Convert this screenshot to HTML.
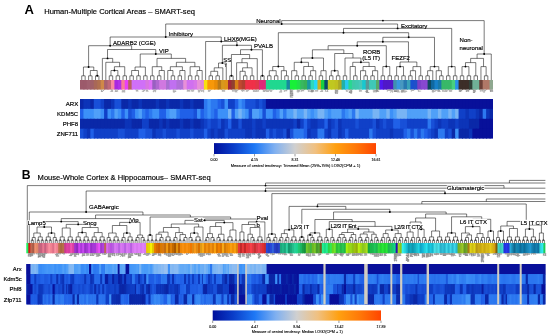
<!DOCTYPE html>
<html><head><meta charset="utf-8"><title>Figure</title>
<style>html,body{margin:0;padding:0;background:#fff}svg{display:block}text{font-family:"Liberation Sans",Arial,sans-serif}</style>
</head><body>
<svg width="550" height="336" viewBox="0 0 550 336">
<defs><linearGradient id="g" x1="0" x2="1" y1="0" y2="0">
<stop offset="0" stop-color="#00109c"/><stop offset="0.12" stop-color="#0a3cc8"/><stop offset="0.25" stop-color="#1e78f5"/><stop offset="0.375" stop-color="#80b0f0"/>
<stop offset="0.5" stop-color="#d0d0d0"/><stop offset="0.625" stop-color="#f0c080"/><stop offset="0.75" stop-color="#ffa010"/><stop offset="0.875" stop-color="#ff7808"/><stop offset="1" stop-color="#ff4500"/>
</linearGradient></defs>
<rect width="550" height="336" fill="#fff"/>
<rect x="80.00" y="80.00" width="4.44" height="9.60" fill="#9c5a6b"/>
<rect x="83.44" y="80.00" width="4.44" height="9.60" fill="#9c5a6b"/>
<rect x="86.88" y="80.00" width="4.44" height="9.60" fill="#a06070"/>
<rect x="90.33" y="80.00" width="4.44" height="9.60" fill="#a06068"/>
<rect x="93.77" y="80.00" width="4.44" height="9.60" fill="#a86858"/>
<rect x="97.21" y="80.00" width="4.44" height="9.60" fill="#b07050"/>
<rect x="100.65" y="80.00" width="4.44" height="9.60" fill="#d08848"/>
<rect x="104.09" y="80.00" width="4.44" height="9.60" fill="#a86070"/>
<rect x="107.53" y="80.00" width="4.44" height="9.60" fill="#c06878"/>
<rect x="110.97" y="80.00" width="4.44" height="9.60" fill="#f888a0"/>
<rect x="114.42" y="80.00" width="4.44" height="9.60" fill="#a828e0"/>
<rect x="117.86" y="80.00" width="4.44" height="9.60" fill="#b030e8"/>
<rect x="121.30" y="80.00" width="4.44" height="9.60" fill="#f87c98"/>
<rect x="124.74" y="80.00" width="4.44" height="9.60" fill="#e840f8"/>
<rect x="128.18" y="80.00" width="4.44" height="9.60" fill="#b86060"/>
<rect x="131.62" y="80.00" width="4.44" height="9.60" fill="#d070f8"/>
<rect x="135.07" y="80.00" width="4.44" height="9.60" fill="#d070f8"/>
<rect x="138.51" y="80.00" width="4.44" height="9.60" fill="#d070f8"/>
<rect x="141.95" y="80.00" width="4.44" height="9.60" fill="#d070f8"/>
<rect x="145.39" y="80.00" width="4.44" height="9.60" fill="#d878e0"/>
<rect x="148.83" y="80.00" width="4.44" height="9.60" fill="#e070f8"/>
<rect x="152.28" y="80.00" width="4.44" height="9.60" fill="#9860c0"/>
<rect x="155.72" y="80.00" width="4.44" height="9.60" fill="#b068d0"/>
<rect x="159.16" y="80.00" width="4.44" height="9.60" fill="#d078e0"/>
<rect x="162.60" y="80.00" width="4.44" height="9.60" fill="#d078e0"/>
<rect x="166.04" y="80.00" width="4.44" height="9.60" fill="#a870d0"/>
<rect x="169.48" y="80.00" width="4.44" height="9.60" fill="#c070f0"/>
<rect x="172.93" y="80.00" width="4.44" height="9.60" fill="#c070f0"/>
<rect x="176.37" y="80.00" width="4.44" height="9.60" fill="#b070d8"/>
<rect x="179.81" y="80.00" width="4.44" height="9.60" fill="#b070d8"/>
<rect x="183.25" y="80.00" width="4.44" height="9.60" fill="#e890d8"/>
<rect x="186.69" y="80.00" width="4.44" height="9.60" fill="#d070f0"/>
<rect x="190.13" y="80.00" width="4.44" height="9.60" fill="#d070f0"/>
<rect x="193.57" y="80.00" width="4.44" height="9.60" fill="#d878e8"/>
<rect x="197.02" y="80.00" width="4.44" height="9.60" fill="#e890d8"/>
<rect x="200.46" y="80.00" width="4.44" height="9.60" fill="#e088d8"/>
<rect x="203.90" y="80.00" width="4.44" height="9.60" fill="#f8e010"/>
<rect x="207.34" y="80.00" width="4.44" height="9.60" fill="#f89808"/>
<rect x="210.78" y="80.00" width="4.44" height="9.60" fill="#f89808"/>
<rect x="214.22" y="80.00" width="4.44" height="9.60" fill="#e88c08"/>
<rect x="217.67" y="80.00" width="4.44" height="9.60" fill="#b87818"/>
<rect x="221.11" y="80.00" width="4.44" height="9.60" fill="#d8981c"/>
<rect x="224.55" y="80.00" width="4.44" height="9.60" fill="#e09018"/>
<rect x="227.99" y="80.00" width="4.44" height="9.60" fill="#a02838"/>
<rect x="231.43" y="80.00" width="4.44" height="9.60" fill="#904030"/>
<rect x="234.88" y="80.00" width="4.44" height="9.60" fill="#d88018"/>
<rect x="238.32" y="80.00" width="4.44" height="9.60" fill="#c04830"/>
<rect x="241.76" y="80.00" width="4.44" height="9.60" fill="#b04030"/>
<rect x="245.20" y="80.00" width="4.44" height="9.60" fill="#f03048"/>
<rect x="248.64" y="80.00" width="4.44" height="9.60" fill="#f03048"/>
<rect x="252.08" y="80.00" width="4.44" height="9.60" fill="#f03048"/>
<rect x="255.53" y="80.00" width="4.44" height="9.60" fill="#e03848"/>
<rect x="258.97" y="80.00" width="4.44" height="9.60" fill="#e02878"/>
<rect x="262.41" y="80.00" width="4.44" height="9.60" fill="#e02878"/>
<rect x="265.85" y="80.00" width="4.44" height="9.60" fill="#20d890"/>
<rect x="269.29" y="80.00" width="4.44" height="9.60" fill="#20d890"/>
<rect x="272.73" y="80.00" width="4.44" height="9.60" fill="#20d890"/>
<rect x="276.18" y="80.00" width="4.44" height="9.60" fill="#20d890"/>
<rect x="279.62" y="80.00" width="4.44" height="9.60" fill="#20d890"/>
<rect x="283.06" y="80.00" width="4.44" height="9.60" fill="#20d890"/>
<rect x="286.50" y="80.00" width="4.44" height="9.60" fill="#1888a0"/>
<rect x="289.94" y="80.00" width="4.44" height="9.60" fill="#18f038"/>
<rect x="293.38" y="80.00" width="4.44" height="9.60" fill="#18f038"/>
<rect x="296.83" y="80.00" width="4.44" height="9.60" fill="#20e048"/>
<rect x="300.27" y="80.00" width="4.44" height="9.60" fill="#38b860"/>
<rect x="303.71" y="80.00" width="4.44" height="9.60" fill="#38b058"/>
<rect x="307.15" y="80.00" width="4.44" height="9.60" fill="#1898a0"/>
<rect x="310.59" y="80.00" width="4.44" height="9.60" fill="#30d8b8"/>
<rect x="314.03" y="80.00" width="4.44" height="9.60" fill="#28d8f8"/>
<rect x="317.48" y="80.00" width="4.44" height="9.60" fill="#c8b020"/>
<rect x="320.92" y="80.00" width="4.44" height="9.60" fill="#18d040"/>
<rect x="324.36" y="80.00" width="4.44" height="9.60" fill="#084868"/>
<rect x="327.80" y="80.00" width="4.44" height="9.60" fill="#c0c820"/>
<rect x="331.24" y="80.00" width="4.44" height="9.60" fill="#c0c820"/>
<rect x="334.68" y="80.00" width="4.44" height="9.60" fill="#c0c020"/>
<rect x="338.12" y="80.00" width="4.44" height="9.60" fill="#a8a828"/>
<rect x="341.57" y="80.00" width="4.44" height="9.60" fill="#20b0a8"/>
<rect x="345.01" y="80.00" width="4.44" height="9.60" fill="#28c8f0"/>
<rect x="348.45" y="80.00" width="4.44" height="9.60" fill="#28d890"/>
<rect x="351.89" y="80.00" width="4.44" height="9.60" fill="#40c8a8"/>
<rect x="355.33" y="80.00" width="4.44" height="9.60" fill="#40c8b0"/>
<rect x="358.78" y="80.00" width="4.44" height="9.60" fill="#48c8b8"/>
<rect x="362.22" y="80.00" width="4.44" height="9.60" fill="#18c8d0"/>
<rect x="365.66" y="80.00" width="4.44" height="9.60" fill="#589898"/>
<rect x="369.10" y="80.00" width="4.44" height="9.60" fill="#40c8b8"/>
<rect x="372.54" y="80.00" width="4.44" height="9.60" fill="#40c8b8"/>
<rect x="375.98" y="80.00" width="4.44" height="9.60" fill="#58a868"/>
<rect x="379.43" y="80.00" width="4.44" height="9.60" fill="#5018f0"/>
<rect x="382.87" y="80.00" width="4.44" height="9.60" fill="#5018c8"/>
<rect x="386.31" y="80.00" width="4.44" height="9.60" fill="#5018c8"/>
<rect x="389.75" y="80.00" width="4.44" height="9.60" fill="#5018c8"/>
<rect x="393.19" y="80.00" width="4.44" height="9.60" fill="#4090b0"/>
<rect x="396.63" y="80.00" width="4.44" height="9.60" fill="#3898e0"/>
<rect x="400.08" y="80.00" width="4.44" height="9.60" fill="#4898c0"/>
<rect x="403.52" y="80.00" width="4.44" height="9.60" fill="#2878b0"/>
<rect x="406.96" y="80.00" width="4.44" height="9.60" fill="#38a0b8"/>
<rect x="410.40" y="80.00" width="4.44" height="9.60" fill="#1850d0"/>
<rect x="413.84" y="80.00" width="4.44" height="9.60" fill="#2050c8"/>
<rect x="417.28" y="80.00" width="4.44" height="9.60" fill="#7840c8"/>
<rect x="420.73" y="80.00" width="4.44" height="9.60" fill="#8848d0"/>
<rect x="424.17" y="80.00" width="4.44" height="9.60" fill="#8848d0"/>
<rect x="427.61" y="80.00" width="4.44" height="9.60" fill="#104860"/>
<rect x="431.05" y="80.00" width="4.44" height="9.60" fill="#1068a0"/>
<rect x="434.49" y="80.00" width="4.44" height="9.60" fill="#1880c8"/>
<rect x="437.93" y="80.00" width="4.44" height="9.60" fill="#1878a8"/>
<rect x="441.38" y="80.00" width="4.44" height="9.60" fill="#38b868"/>
<rect x="444.82" y="80.00" width="4.44" height="9.60" fill="#38b868"/>
<rect x="448.26" y="80.00" width="4.44" height="9.60" fill="#38b868"/>
<rect x="451.70" y="80.00" width="4.44" height="9.60" fill="#48d080"/>
<rect x="455.14" y="80.00" width="4.44" height="9.60" fill="#2890e8"/>
<rect x="458.58" y="80.00" width="4.44" height="9.60" fill="#3c2e28"/>
<rect x="462.03" y="80.00" width="4.44" height="9.60" fill="#3c2e28"/>
<rect x="465.47" y="80.00" width="4.44" height="9.60" fill="#3c2e28"/>
<rect x="468.91" y="80.00" width="4.44" height="9.60" fill="#304038"/>
<rect x="472.35" y="80.00" width="4.44" height="9.60" fill="#70b098"/>
<rect x="475.79" y="80.00" width="4.44" height="9.60" fill="#70b098"/>
<rect x="479.23" y="80.00" width="4.44" height="9.60" fill="#6b4038"/>
<rect x="482.68" y="80.00" width="4.44" height="9.60" fill="#b07868"/>
<rect x="486.12" y="80.00" width="4.44" height="9.60" fill="#b07868"/>
<rect x="489.56" y="80.00" width="3.44" height="9.60" fill="#8fa890"/>
<rect x="80.00" y="99.00" width="4.44" height="10.20" fill="#0a28a8"/>
<rect x="83.44" y="99.00" width="4.44" height="10.20" fill="#0c34b8"/>
<rect x="86.88" y="99.00" width="4.44" height="10.20" fill="#0c34b8"/>
<rect x="90.33" y="99.00" width="4.44" height="10.20" fill="#0a28a8"/>
<rect x="93.77" y="99.00" width="4.44" height="10.20" fill="#1850d8"/>
<rect x="97.21" y="99.00" width="4.44" height="10.20" fill="#1850d8"/>
<rect x="100.65" y="99.00" width="4.44" height="10.20" fill="#1040c8"/>
<rect x="104.09" y="99.00" width="4.44" height="10.20" fill="#0a28a8"/>
<rect x="107.53" y="99.00" width="4.44" height="10.20" fill="#0a28a8"/>
<rect x="110.97" y="99.00" width="4.44" height="10.20" fill="#0c34b8"/>
<rect x="114.42" y="99.00" width="4.44" height="10.20" fill="#1850d8"/>
<rect x="117.86" y="99.00" width="4.44" height="10.20" fill="#1850d8"/>
<rect x="121.30" y="99.00" width="4.44" height="10.20" fill="#0a28a8"/>
<rect x="124.74" y="99.00" width="4.44" height="10.20" fill="#0a28a8"/>
<rect x="128.18" y="99.00" width="4.44" height="10.20" fill="#0c34b8"/>
<rect x="131.62" y="99.00" width="4.44" height="10.20" fill="#0a28a8"/>
<rect x="135.07" y="99.00" width="4.44" height="10.20" fill="#0a28a8"/>
<rect x="138.51" y="99.00" width="4.44" height="10.20" fill="#0c34b8"/>
<rect x="141.95" y="99.00" width="4.44" height="10.20" fill="#0a28a8"/>
<rect x="145.39" y="99.00" width="4.44" height="10.20" fill="#0a28a8"/>
<rect x="148.83" y="99.00" width="4.44" height="10.20" fill="#0a28a8"/>
<rect x="152.28" y="99.00" width="4.44" height="10.20" fill="#0a28a8"/>
<rect x="155.72" y="99.00" width="4.44" height="10.20" fill="#0c34b8"/>
<rect x="159.16" y="99.00" width="4.44" height="10.20" fill="#0a28a8"/>
<rect x="162.60" y="99.00" width="4.44" height="10.20" fill="#0a28a8"/>
<rect x="166.04" y="99.00" width="4.44" height="10.20" fill="#0c34b8"/>
<rect x="169.48" y="99.00" width="4.44" height="10.20" fill="#0a28a8"/>
<rect x="172.93" y="99.00" width="4.44" height="10.20" fill="#0a28a8"/>
<rect x="176.37" y="99.00" width="4.44" height="10.20" fill="#0a28a8"/>
<rect x="179.81" y="99.00" width="4.44" height="10.20" fill="#0c34b8"/>
<rect x="183.25" y="99.00" width="4.44" height="10.20" fill="#0a28a8"/>
<rect x="186.69" y="99.00" width="4.44" height="10.20" fill="#0a28a8"/>
<rect x="190.13" y="99.00" width="4.44" height="10.20" fill="#0c34b8"/>
<rect x="193.57" y="99.00" width="4.44" height="10.20" fill="#0a28a8"/>
<rect x="197.02" y="99.00" width="4.44" height="10.20" fill="#0a28a8"/>
<rect x="200.46" y="99.00" width="4.44" height="10.20" fill="#0a28a8"/>
<rect x="203.90" y="99.00" width="4.44" height="10.20" fill="#2c78f0"/>
<rect x="207.34" y="99.00" width="4.44" height="10.20" fill="#3c90f8"/>
<rect x="210.78" y="99.00" width="4.44" height="10.20" fill="#2c78f0"/>
<rect x="214.22" y="99.00" width="4.44" height="10.20" fill="#2c78f0"/>
<rect x="217.67" y="99.00" width="4.44" height="10.20" fill="#2060e8"/>
<rect x="221.11" y="99.00" width="4.44" height="10.20" fill="#1850d8"/>
<rect x="224.55" y="99.00" width="4.44" height="10.20" fill="#3c90f8"/>
<rect x="227.99" y="99.00" width="4.44" height="10.20" fill="#1040c8"/>
<rect x="231.43" y="99.00" width="4.44" height="10.20" fill="#1040c8"/>
<rect x="234.88" y="99.00" width="4.44" height="10.20" fill="#2060e8"/>
<rect x="238.32" y="99.00" width="4.44" height="10.20" fill="#3c90f8"/>
<rect x="241.76" y="99.00" width="4.44" height="10.20" fill="#2c78f0"/>
<rect x="245.20" y="99.00" width="4.44" height="10.20" fill="#1850d8"/>
<rect x="248.64" y="99.00" width="4.44" height="10.20" fill="#1850d8"/>
<rect x="252.08" y="99.00" width="4.44" height="10.20" fill="#1850d8"/>
<rect x="255.53" y="99.00" width="4.44" height="10.20" fill="#1040c8"/>
<rect x="258.97" y="99.00" width="4.44" height="10.20" fill="#1850d8"/>
<rect x="262.41" y="99.00" width="4.44" height="10.20" fill="#1040c8"/>
<rect x="265.85" y="99.00" width="4.44" height="10.20" fill="#08109a"/>
<rect x="269.29" y="99.00" width="4.44" height="10.20" fill="#08109a"/>
<rect x="272.73" y="99.00" width="4.44" height="10.20" fill="#08109a"/>
<rect x="276.18" y="99.00" width="4.44" height="10.20" fill="#08109a"/>
<rect x="279.62" y="99.00" width="4.44" height="10.20" fill="#08109a"/>
<rect x="283.06" y="99.00" width="4.44" height="10.20" fill="#08109a"/>
<rect x="286.50" y="99.00" width="4.44" height="10.20" fill="#08109a"/>
<rect x="289.94" y="99.00" width="4.44" height="10.20" fill="#08109a"/>
<rect x="293.38" y="99.00" width="4.44" height="10.20" fill="#08109a"/>
<rect x="296.83" y="99.00" width="4.44" height="10.20" fill="#08109a"/>
<rect x="300.27" y="99.00" width="4.44" height="10.20" fill="#08109a"/>
<rect x="303.71" y="99.00" width="4.44" height="10.20" fill="#08109a"/>
<rect x="307.15" y="99.00" width="4.44" height="10.20" fill="#08109a"/>
<rect x="310.59" y="99.00" width="4.44" height="10.20" fill="#08109a"/>
<rect x="314.03" y="99.00" width="4.44" height="10.20" fill="#08109a"/>
<rect x="317.48" y="99.00" width="4.44" height="10.20" fill="#08109a"/>
<rect x="320.92" y="99.00" width="4.44" height="10.20" fill="#08109a"/>
<rect x="324.36" y="99.00" width="4.44" height="10.20" fill="#08109a"/>
<rect x="327.80" y="99.00" width="4.44" height="10.20" fill="#08109a"/>
<rect x="331.24" y="99.00" width="4.44" height="10.20" fill="#08109a"/>
<rect x="334.68" y="99.00" width="4.44" height="10.20" fill="#08109a"/>
<rect x="338.12" y="99.00" width="4.44" height="10.20" fill="#08109a"/>
<rect x="341.57" y="99.00" width="4.44" height="10.20" fill="#08109a"/>
<rect x="345.01" y="99.00" width="4.44" height="10.20" fill="#08109a"/>
<rect x="348.45" y="99.00" width="4.44" height="10.20" fill="#08109a"/>
<rect x="351.89" y="99.00" width="4.44" height="10.20" fill="#08109a"/>
<rect x="355.33" y="99.00" width="4.44" height="10.20" fill="#08109a"/>
<rect x="358.78" y="99.00" width="4.44" height="10.20" fill="#08109a"/>
<rect x="362.22" y="99.00" width="4.44" height="10.20" fill="#08109a"/>
<rect x="365.66" y="99.00" width="4.44" height="10.20" fill="#08109a"/>
<rect x="369.10" y="99.00" width="4.44" height="10.20" fill="#08109a"/>
<rect x="372.54" y="99.00" width="4.44" height="10.20" fill="#08109a"/>
<rect x="375.98" y="99.00" width="4.44" height="10.20" fill="#08109a"/>
<rect x="379.43" y="99.00" width="4.44" height="10.20" fill="#08109a"/>
<rect x="382.87" y="99.00" width="4.44" height="10.20" fill="#08109a"/>
<rect x="386.31" y="99.00" width="4.44" height="10.20" fill="#08109a"/>
<rect x="389.75" y="99.00" width="4.44" height="10.20" fill="#08109a"/>
<rect x="393.19" y="99.00" width="4.44" height="10.20" fill="#08109a"/>
<rect x="396.63" y="99.00" width="4.44" height="10.20" fill="#08109a"/>
<rect x="400.08" y="99.00" width="4.44" height="10.20" fill="#08109a"/>
<rect x="403.52" y="99.00" width="4.44" height="10.20" fill="#08109a"/>
<rect x="406.96" y="99.00" width="4.44" height="10.20" fill="#08109a"/>
<rect x="410.40" y="99.00" width="4.44" height="10.20" fill="#08109a"/>
<rect x="413.84" y="99.00" width="4.44" height="10.20" fill="#08109a"/>
<rect x="417.28" y="99.00" width="4.44" height="10.20" fill="#08109a"/>
<rect x="420.73" y="99.00" width="4.44" height="10.20" fill="#08109a"/>
<rect x="424.17" y="99.00" width="4.44" height="10.20" fill="#08109a"/>
<rect x="427.61" y="99.00" width="4.44" height="10.20" fill="#08109a"/>
<rect x="431.05" y="99.00" width="4.44" height="10.20" fill="#08109a"/>
<rect x="434.49" y="99.00" width="4.44" height="10.20" fill="#08109a"/>
<rect x="437.93" y="99.00" width="4.44" height="10.20" fill="#08109a"/>
<rect x="441.38" y="99.00" width="4.44" height="10.20" fill="#08109a"/>
<rect x="444.82" y="99.00" width="4.44" height="10.20" fill="#08109a"/>
<rect x="448.26" y="99.00" width="4.44" height="10.20" fill="#08109a"/>
<rect x="451.70" y="99.00" width="4.44" height="10.20" fill="#08109a"/>
<rect x="455.14" y="99.00" width="4.44" height="10.20" fill="#08109a"/>
<rect x="458.58" y="99.00" width="4.44" height="10.20" fill="#08109a"/>
<rect x="462.03" y="99.00" width="4.44" height="10.20" fill="#08109a"/>
<rect x="465.47" y="99.00" width="4.44" height="10.20" fill="#08109a"/>
<rect x="468.91" y="99.00" width="4.44" height="10.20" fill="#08109a"/>
<rect x="472.35" y="99.00" width="4.44" height="10.20" fill="#08109a"/>
<rect x="475.79" y="99.00" width="4.44" height="10.20" fill="#08109a"/>
<rect x="479.23" y="99.00" width="4.44" height="10.20" fill="#08109a"/>
<rect x="482.68" y="99.00" width="4.44" height="10.20" fill="#08109a"/>
<rect x="486.12" y="99.00" width="4.44" height="10.20" fill="#08109a"/>
<rect x="489.56" y="99.00" width="3.44" height="10.20" fill="#08109a"/>
<rect x="80.00" y="108.90" width="4.44" height="10.20" fill="#2060e8"/>
<rect x="83.44" y="108.90" width="4.44" height="10.20" fill="#3c90f8"/>
<rect x="86.88" y="108.90" width="4.44" height="10.20" fill="#3c90f8"/>
<rect x="90.33" y="108.90" width="4.44" height="10.20" fill="#3c90f8"/>
<rect x="93.77" y="108.90" width="4.44" height="10.20" fill="#50a0f8"/>
<rect x="97.21" y="108.90" width="4.44" height="10.20" fill="#50a0f8"/>
<rect x="100.65" y="108.90" width="4.44" height="10.20" fill="#3c90f8"/>
<rect x="104.09" y="108.90" width="4.44" height="10.20" fill="#1040c8"/>
<rect x="107.53" y="108.90" width="4.44" height="10.20" fill="#3c90f8"/>
<rect x="110.97" y="108.90" width="4.44" height="10.20" fill="#2c78f0"/>
<rect x="114.42" y="108.90" width="4.44" height="10.20" fill="#50a0f8"/>
<rect x="117.86" y="108.90" width="4.44" height="10.20" fill="#3c90f8"/>
<rect x="121.30" y="108.90" width="4.44" height="10.20" fill="#2060e8"/>
<rect x="124.74" y="108.90" width="4.44" height="10.20" fill="#3c90f8"/>
<rect x="128.18" y="108.90" width="4.44" height="10.20" fill="#1850d8"/>
<rect x="131.62" y="108.90" width="4.44" height="10.20" fill="#2060e8"/>
<rect x="135.07" y="108.90" width="4.44" height="10.20" fill="#3c90f8"/>
<rect x="138.51" y="108.90" width="4.44" height="10.20" fill="#50a0f8"/>
<rect x="141.95" y="108.90" width="4.44" height="10.20" fill="#2c78f0"/>
<rect x="145.39" y="108.90" width="4.44" height="10.20" fill="#2060e8"/>
<rect x="148.83" y="108.90" width="4.44" height="10.20" fill="#2c78f0"/>
<rect x="152.28" y="108.90" width="4.44" height="10.20" fill="#3c90f8"/>
<rect x="155.72" y="108.90" width="4.44" height="10.20" fill="#3c90f8"/>
<rect x="159.16" y="108.90" width="4.44" height="10.20" fill="#2060e8"/>
<rect x="162.60" y="108.90" width="4.44" height="10.20" fill="#2060e8"/>
<rect x="166.04" y="108.90" width="4.44" height="10.20" fill="#3c90f8"/>
<rect x="169.48" y="108.90" width="4.44" height="10.20" fill="#50a0f8"/>
<rect x="172.93" y="108.90" width="4.44" height="10.20" fill="#50a0f8"/>
<rect x="176.37" y="108.90" width="4.44" height="10.20" fill="#2c78f0"/>
<rect x="179.81" y="108.90" width="4.44" height="10.20" fill="#2060e8"/>
<rect x="183.25" y="108.90" width="4.44" height="10.20" fill="#2060e8"/>
<rect x="186.69" y="108.90" width="4.44" height="10.20" fill="#2060e8"/>
<rect x="190.13" y="108.90" width="4.44" height="10.20" fill="#2060e8"/>
<rect x="193.57" y="108.90" width="4.44" height="10.20" fill="#1850d8"/>
<rect x="197.02" y="108.90" width="4.44" height="10.20" fill="#3c90f8"/>
<rect x="200.46" y="108.90" width="4.44" height="10.20" fill="#2060e8"/>
<rect x="203.90" y="108.90" width="4.44" height="10.20" fill="#2c78f0"/>
<rect x="207.34" y="108.90" width="4.44" height="10.20" fill="#3c90f8"/>
<rect x="210.78" y="108.90" width="4.44" height="10.20" fill="#2c78f0"/>
<rect x="214.22" y="108.90" width="4.44" height="10.20" fill="#2060e8"/>
<rect x="217.67" y="108.90" width="4.44" height="10.20" fill="#3c90f8"/>
<rect x="221.11" y="108.90" width="4.44" height="10.20" fill="#3c90f8"/>
<rect x="224.55" y="108.90" width="4.44" height="10.20" fill="#3c90f8"/>
<rect x="227.99" y="108.90" width="4.44" height="10.20" fill="#78b4f4"/>
<rect x="231.43" y="108.90" width="4.44" height="10.20" fill="#2060e8"/>
<rect x="234.88" y="108.90" width="4.44" height="10.20" fill="#50a0f8"/>
<rect x="238.32" y="108.90" width="4.44" height="10.20" fill="#78b4f4"/>
<rect x="241.76" y="108.90" width="4.44" height="10.20" fill="#50a0f8"/>
<rect x="245.20" y="108.90" width="4.44" height="10.20" fill="#3c90f8"/>
<rect x="248.64" y="108.90" width="4.44" height="10.20" fill="#1850d8"/>
<rect x="252.08" y="108.90" width="4.44" height="10.20" fill="#50a0f8"/>
<rect x="255.53" y="108.90" width="4.44" height="10.20" fill="#50a0f8"/>
<rect x="258.97" y="108.90" width="4.44" height="10.20" fill="#3c90f8"/>
<rect x="262.41" y="108.90" width="4.44" height="10.20" fill="#1850d8"/>
<rect x="265.85" y="108.90" width="4.44" height="10.20" fill="#3c90f8"/>
<rect x="269.29" y="108.90" width="4.44" height="10.20" fill="#3c90f8"/>
<rect x="272.73" y="108.90" width="4.44" height="10.20" fill="#2060e8"/>
<rect x="276.18" y="108.90" width="4.44" height="10.20" fill="#2c78f0"/>
<rect x="279.62" y="108.90" width="4.44" height="10.20" fill="#50a0f8"/>
<rect x="283.06" y="108.90" width="4.44" height="10.20" fill="#2c78f0"/>
<rect x="286.50" y="108.90" width="4.44" height="10.20" fill="#50a0f8"/>
<rect x="289.94" y="108.90" width="4.44" height="10.20" fill="#50a0f8"/>
<rect x="293.38" y="108.90" width="4.44" height="10.20" fill="#78b4f4"/>
<rect x="296.83" y="108.90" width="4.44" height="10.20" fill="#50a0f8"/>
<rect x="300.27" y="108.90" width="4.44" height="10.20" fill="#50a0f8"/>
<rect x="303.71" y="108.90" width="4.44" height="10.20" fill="#78b4f4"/>
<rect x="307.15" y="108.90" width="4.44" height="10.20" fill="#50a0f8"/>
<rect x="310.59" y="108.90" width="4.44" height="10.20" fill="#3c90f8"/>
<rect x="314.03" y="108.90" width="4.44" height="10.20" fill="#50a0f8"/>
<rect x="317.48" y="108.90" width="4.44" height="10.20" fill="#78b4f4"/>
<rect x="320.92" y="108.90" width="4.44" height="10.20" fill="#78b4f4"/>
<rect x="324.36" y="108.90" width="4.44" height="10.20" fill="#50a0f8"/>
<rect x="327.80" y="108.90" width="4.44" height="10.20" fill="#3c90f8"/>
<rect x="331.24" y="108.90" width="4.44" height="10.20" fill="#50a0f8"/>
<rect x="334.68" y="108.90" width="4.44" height="10.20" fill="#50a0f8"/>
<rect x="338.12" y="108.90" width="4.44" height="10.20" fill="#50a0f8"/>
<rect x="341.57" y="108.90" width="4.44" height="10.20" fill="#2c78f0"/>
<rect x="345.01" y="108.90" width="4.44" height="10.20" fill="#3c90f8"/>
<rect x="348.45" y="108.90" width="4.44" height="10.20" fill="#50a0f8"/>
<rect x="351.89" y="108.90" width="4.44" height="10.20" fill="#2c78f0"/>
<rect x="355.33" y="108.90" width="4.44" height="10.20" fill="#78b4f4"/>
<rect x="358.78" y="108.90" width="4.44" height="10.20" fill="#50a0f8"/>
<rect x="362.22" y="108.90" width="4.44" height="10.20" fill="#50a0f8"/>
<rect x="365.66" y="108.90" width="4.44" height="10.20" fill="#50a0f8"/>
<rect x="369.10" y="108.90" width="4.44" height="10.20" fill="#50a0f8"/>
<rect x="372.54" y="108.90" width="4.44" height="10.20" fill="#78b4f4"/>
<rect x="375.98" y="108.90" width="4.44" height="10.20" fill="#78b4f4"/>
<rect x="379.43" y="108.90" width="4.44" height="10.20" fill="#50a0f8"/>
<rect x="382.87" y="108.90" width="4.44" height="10.20" fill="#50a0f8"/>
<rect x="386.31" y="108.90" width="4.44" height="10.20" fill="#78b4f4"/>
<rect x="389.75" y="108.90" width="4.44" height="10.20" fill="#3c90f8"/>
<rect x="393.19" y="108.90" width="4.44" height="10.20" fill="#50a0f8"/>
<rect x="396.63" y="108.90" width="4.44" height="10.20" fill="#78b4f4"/>
<rect x="400.08" y="108.90" width="4.44" height="10.20" fill="#78b4f4"/>
<rect x="403.52" y="108.90" width="4.44" height="10.20" fill="#78b4f4"/>
<rect x="406.96" y="108.90" width="4.44" height="10.20" fill="#50a0f8"/>
<rect x="410.40" y="108.90" width="4.44" height="10.20" fill="#50a0f8"/>
<rect x="413.84" y="108.90" width="4.44" height="10.20" fill="#50a0f8"/>
<rect x="417.28" y="108.90" width="4.44" height="10.20" fill="#50a0f8"/>
<rect x="420.73" y="108.90" width="4.44" height="10.20" fill="#50a0f8"/>
<rect x="424.17" y="108.90" width="4.44" height="10.20" fill="#50a0f8"/>
<rect x="427.61" y="108.90" width="4.44" height="10.20" fill="#78b4f4"/>
<rect x="431.05" y="108.90" width="4.44" height="10.20" fill="#50a0f8"/>
<rect x="434.49" y="108.90" width="4.44" height="10.20" fill="#50a0f8"/>
<rect x="437.93" y="108.90" width="4.44" height="10.20" fill="#78b4f4"/>
<rect x="441.38" y="108.90" width="4.44" height="10.20" fill="#50a0f8"/>
<rect x="444.82" y="108.90" width="4.44" height="10.20" fill="#50a0f8"/>
<rect x="448.26" y="108.90" width="4.44" height="10.20" fill="#78b4f4"/>
<rect x="451.70" y="108.90" width="4.44" height="10.20" fill="#50a0f8"/>
<rect x="455.14" y="108.90" width="4.44" height="10.20" fill="#78b4f4"/>
<rect x="458.58" y="108.90" width="4.44" height="10.20" fill="#1040c8"/>
<rect x="462.03" y="108.90" width="4.44" height="10.20" fill="#1040c8"/>
<rect x="465.47" y="108.90" width="4.44" height="10.20" fill="#0c34b8"/>
<rect x="468.91" y="108.90" width="4.44" height="10.20" fill="#1040c8"/>
<rect x="472.35" y="108.90" width="4.44" height="10.20" fill="#1040c8"/>
<rect x="475.79" y="108.90" width="4.44" height="10.20" fill="#0c34b8"/>
<rect x="479.23" y="108.90" width="4.44" height="10.20" fill="#0a28a8"/>
<rect x="482.68" y="108.90" width="4.44" height="10.20" fill="#2c78f0"/>
<rect x="486.12" y="108.90" width="4.44" height="10.20" fill="#0c34b8"/>
<rect x="489.56" y="108.90" width="3.44" height="10.20" fill="#0a28a8"/>
<rect x="80.00" y="118.80" width="4.44" height="10.20" fill="#0a28a8"/>
<rect x="83.44" y="118.80" width="4.44" height="10.20" fill="#0a28a8"/>
<rect x="86.88" y="118.80" width="4.44" height="10.20" fill="#0a28a8"/>
<rect x="90.33" y="118.80" width="4.44" height="10.20" fill="#0a28a8"/>
<rect x="93.77" y="118.80" width="4.44" height="10.20" fill="#0a28a8"/>
<rect x="97.21" y="118.80" width="4.44" height="10.20" fill="#0a28a8"/>
<rect x="100.65" y="118.80" width="4.44" height="10.20" fill="#0a28a8"/>
<rect x="104.09" y="118.80" width="4.44" height="10.20" fill="#0a28a8"/>
<rect x="107.53" y="118.80" width="4.44" height="10.20" fill="#0a28a8"/>
<rect x="110.97" y="118.80" width="4.44" height="10.20" fill="#0a28a8"/>
<rect x="114.42" y="118.80" width="4.44" height="10.20" fill="#0a28a8"/>
<rect x="117.86" y="118.80" width="4.44" height="10.20" fill="#0a28a8"/>
<rect x="121.30" y="118.80" width="4.44" height="10.20" fill="#0a28a8"/>
<rect x="124.74" y="118.80" width="4.44" height="10.20" fill="#0c34b8"/>
<rect x="128.18" y="118.80" width="4.44" height="10.20" fill="#0c34b8"/>
<rect x="131.62" y="118.80" width="4.44" height="10.20" fill="#0a28a8"/>
<rect x="135.07" y="118.80" width="4.44" height="10.20" fill="#0a28a8"/>
<rect x="138.51" y="118.80" width="4.44" height="10.20" fill="#0a28a8"/>
<rect x="141.95" y="118.80" width="4.44" height="10.20" fill="#1040c8"/>
<rect x="145.39" y="118.80" width="4.44" height="10.20" fill="#1040c8"/>
<rect x="148.83" y="118.80" width="4.44" height="10.20" fill="#0a28a8"/>
<rect x="152.28" y="118.80" width="4.44" height="10.20" fill="#0a28a8"/>
<rect x="155.72" y="118.80" width="4.44" height="10.20" fill="#0a28a8"/>
<rect x="159.16" y="118.80" width="4.44" height="10.20" fill="#0c34b8"/>
<rect x="162.60" y="118.80" width="4.44" height="10.20" fill="#0a28a8"/>
<rect x="166.04" y="118.80" width="4.44" height="10.20" fill="#0c34b8"/>
<rect x="169.48" y="118.80" width="4.44" height="10.20" fill="#0a28a8"/>
<rect x="172.93" y="118.80" width="4.44" height="10.20" fill="#0a28a8"/>
<rect x="176.37" y="118.80" width="4.44" height="10.20" fill="#0a28a8"/>
<rect x="179.81" y="118.80" width="4.44" height="10.20" fill="#0c34b8"/>
<rect x="183.25" y="118.80" width="4.44" height="10.20" fill="#0a28a8"/>
<rect x="186.69" y="118.80" width="4.44" height="10.20" fill="#0a28a8"/>
<rect x="190.13" y="118.80" width="4.44" height="10.20" fill="#0c34b8"/>
<rect x="193.57" y="118.80" width="4.44" height="10.20" fill="#0a28a8"/>
<rect x="197.02" y="118.80" width="4.44" height="10.20" fill="#0a28a8"/>
<rect x="200.46" y="118.80" width="4.44" height="10.20" fill="#0c34b8"/>
<rect x="203.90" y="118.80" width="4.44" height="10.20" fill="#1040c8"/>
<rect x="207.34" y="118.80" width="4.44" height="10.20" fill="#1850d8"/>
<rect x="210.78" y="118.80" width="4.44" height="10.20" fill="#1040c8"/>
<rect x="214.22" y="118.80" width="4.44" height="10.20" fill="#1040c8"/>
<rect x="217.67" y="118.80" width="4.44" height="10.20" fill="#1850d8"/>
<rect x="221.11" y="118.80" width="4.44" height="10.20" fill="#0c34b8"/>
<rect x="224.55" y="118.80" width="4.44" height="10.20" fill="#1040c8"/>
<rect x="227.99" y="118.80" width="4.44" height="10.20" fill="#2060e8"/>
<rect x="231.43" y="118.80" width="4.44" height="10.20" fill="#0c34b8"/>
<rect x="234.88" y="118.80" width="4.44" height="10.20" fill="#0c34b8"/>
<rect x="238.32" y="118.80" width="4.44" height="10.20" fill="#1850d8"/>
<rect x="241.76" y="118.80" width="4.44" height="10.20" fill="#0c34b8"/>
<rect x="245.20" y="118.80" width="4.44" height="10.20" fill="#0c34b8"/>
<rect x="248.64" y="118.80" width="4.44" height="10.20" fill="#0c34b8"/>
<rect x="252.08" y="118.80" width="4.44" height="10.20" fill="#1040c8"/>
<rect x="255.53" y="118.80" width="4.44" height="10.20" fill="#0c34b8"/>
<rect x="258.97" y="118.80" width="4.44" height="10.20" fill="#0c34b8"/>
<rect x="262.41" y="118.80" width="4.44" height="10.20" fill="#1040c8"/>
<rect x="265.85" y="118.80" width="4.44" height="10.20" fill="#0c34b8"/>
<rect x="269.29" y="118.80" width="4.44" height="10.20" fill="#0c34b8"/>
<rect x="272.73" y="118.80" width="4.44" height="10.20" fill="#0c34b8"/>
<rect x="276.18" y="118.80" width="4.44" height="10.20" fill="#0c34b8"/>
<rect x="279.62" y="118.80" width="4.44" height="10.20" fill="#0c34b8"/>
<rect x="283.06" y="118.80" width="4.44" height="10.20" fill="#0c34b8"/>
<rect x="286.50" y="118.80" width="4.44" height="10.20" fill="#0c34b8"/>
<rect x="289.94" y="118.80" width="4.44" height="10.20" fill="#0c34b8"/>
<rect x="293.38" y="118.80" width="4.44" height="10.20" fill="#1040c8"/>
<rect x="296.83" y="118.80" width="4.44" height="10.20" fill="#0a28a8"/>
<rect x="300.27" y="118.80" width="4.44" height="10.20" fill="#1040c8"/>
<rect x="303.71" y="118.80" width="4.44" height="10.20" fill="#2060e8"/>
<rect x="307.15" y="118.80" width="4.44" height="10.20" fill="#1040c8"/>
<rect x="310.59" y="118.80" width="4.44" height="10.20" fill="#0c34b8"/>
<rect x="314.03" y="118.80" width="4.44" height="10.20" fill="#0c34b8"/>
<rect x="317.48" y="118.80" width="4.44" height="10.20" fill="#1040c8"/>
<rect x="320.92" y="118.80" width="4.44" height="10.20" fill="#1040c8"/>
<rect x="324.36" y="118.80" width="4.44" height="10.20" fill="#2060e8"/>
<rect x="327.80" y="118.80" width="4.44" height="10.20" fill="#0c34b8"/>
<rect x="331.24" y="118.80" width="4.44" height="10.20" fill="#1040c8"/>
<rect x="334.68" y="118.80" width="4.44" height="10.20" fill="#1850d8"/>
<rect x="338.12" y="118.80" width="4.44" height="10.20" fill="#0c34b8"/>
<rect x="341.57" y="118.80" width="4.44" height="10.20" fill="#1040c8"/>
<rect x="345.01" y="118.80" width="4.44" height="10.20" fill="#1040c8"/>
<rect x="348.45" y="118.80" width="4.44" height="10.20" fill="#1040c8"/>
<rect x="351.89" y="118.80" width="4.44" height="10.20" fill="#1040c8"/>
<rect x="355.33" y="118.80" width="4.44" height="10.20" fill="#1850d8"/>
<rect x="358.78" y="118.80" width="4.44" height="10.20" fill="#1040c8"/>
<rect x="362.22" y="118.80" width="4.44" height="10.20" fill="#1040c8"/>
<rect x="365.66" y="118.80" width="4.44" height="10.20" fill="#1040c8"/>
<rect x="369.10" y="118.80" width="4.44" height="10.20" fill="#1040c8"/>
<rect x="372.54" y="118.80" width="4.44" height="10.20" fill="#1850d8"/>
<rect x="375.98" y="118.80" width="4.44" height="10.20" fill="#0c34b8"/>
<rect x="379.43" y="118.80" width="4.44" height="10.20" fill="#1040c8"/>
<rect x="382.87" y="118.80" width="4.44" height="10.20" fill="#1850d8"/>
<rect x="386.31" y="118.80" width="4.44" height="10.20" fill="#1040c8"/>
<rect x="389.75" y="118.80" width="4.44" height="10.20" fill="#1040c8"/>
<rect x="393.19" y="118.80" width="4.44" height="10.20" fill="#2060e8"/>
<rect x="396.63" y="118.80" width="4.44" height="10.20" fill="#2060e8"/>
<rect x="400.08" y="118.80" width="4.44" height="10.20" fill="#1850d8"/>
<rect x="403.52" y="118.80" width="4.44" height="10.20" fill="#1850d8"/>
<rect x="406.96" y="118.80" width="4.44" height="10.20" fill="#1040c8"/>
<rect x="410.40" y="118.80" width="4.44" height="10.20" fill="#1040c8"/>
<rect x="413.84" y="118.80" width="4.44" height="10.20" fill="#1040c8"/>
<rect x="417.28" y="118.80" width="4.44" height="10.20" fill="#1040c8"/>
<rect x="420.73" y="118.80" width="4.44" height="10.20" fill="#1040c8"/>
<rect x="424.17" y="118.80" width="4.44" height="10.20" fill="#1040c8"/>
<rect x="427.61" y="118.80" width="4.44" height="10.20" fill="#2c78f0"/>
<rect x="431.05" y="118.80" width="4.44" height="10.20" fill="#1850d8"/>
<rect x="434.49" y="118.80" width="4.44" height="10.20" fill="#1040c8"/>
<rect x="437.93" y="118.80" width="4.44" height="10.20" fill="#0c34b8"/>
<rect x="441.38" y="118.80" width="4.44" height="10.20" fill="#1040c8"/>
<rect x="444.82" y="118.80" width="4.44" height="10.20" fill="#1040c8"/>
<rect x="448.26" y="118.80" width="4.44" height="10.20" fill="#0c34b8"/>
<rect x="451.70" y="118.80" width="4.44" height="10.20" fill="#0c34b8"/>
<rect x="455.14" y="118.80" width="4.44" height="10.20" fill="#1040c8"/>
<rect x="458.58" y="118.80" width="4.44" height="10.20" fill="#0c34b8"/>
<rect x="462.03" y="118.80" width="4.44" height="10.20" fill="#0c34b8"/>
<rect x="465.47" y="118.80" width="4.44" height="10.20" fill="#0c34b8"/>
<rect x="468.91" y="118.80" width="4.44" height="10.20" fill="#0a28a8"/>
<rect x="472.35" y="118.80" width="4.44" height="10.20" fill="#0a28a8"/>
<rect x="475.79" y="118.80" width="4.44" height="10.20" fill="#0a28a8"/>
<rect x="479.23" y="118.80" width="4.44" height="10.20" fill="#08109a"/>
<rect x="482.68" y="118.80" width="4.44" height="10.20" fill="#08109a"/>
<rect x="486.12" y="118.80" width="4.44" height="10.20" fill="#08109a"/>
<rect x="489.56" y="118.80" width="3.44" height="10.20" fill="#08109a"/>
<rect x="80.00" y="128.70" width="4.44" height="9.90" fill="#1850d8"/>
<rect x="83.44" y="128.70" width="4.44" height="9.90" fill="#1040c8"/>
<rect x="86.88" y="128.70" width="4.44" height="9.90" fill="#0c34b8"/>
<rect x="90.33" y="128.70" width="4.44" height="9.90" fill="#2060e8"/>
<rect x="93.77" y="128.70" width="4.44" height="9.90" fill="#1040c8"/>
<rect x="97.21" y="128.70" width="4.44" height="9.90" fill="#1040c8"/>
<rect x="100.65" y="128.70" width="4.44" height="9.90" fill="#1040c8"/>
<rect x="104.09" y="128.70" width="4.44" height="9.90" fill="#1040c8"/>
<rect x="107.53" y="128.70" width="4.44" height="9.90" fill="#1040c8"/>
<rect x="110.97" y="128.70" width="4.44" height="9.90" fill="#1040c8"/>
<rect x="114.42" y="128.70" width="4.44" height="9.90" fill="#1040c8"/>
<rect x="117.86" y="128.70" width="4.44" height="9.90" fill="#1850d8"/>
<rect x="121.30" y="128.70" width="4.44" height="9.90" fill="#1850d8"/>
<rect x="124.74" y="128.70" width="4.44" height="9.90" fill="#1040c8"/>
<rect x="128.18" y="128.70" width="4.44" height="9.90" fill="#1040c8"/>
<rect x="131.62" y="128.70" width="4.44" height="9.90" fill="#1040c8"/>
<rect x="135.07" y="128.70" width="4.44" height="9.90" fill="#1040c8"/>
<rect x="138.51" y="128.70" width="4.44" height="9.90" fill="#2060e8"/>
<rect x="141.95" y="128.70" width="4.44" height="9.90" fill="#2060e8"/>
<rect x="145.39" y="128.70" width="4.44" height="9.90" fill="#1850d8"/>
<rect x="148.83" y="128.70" width="4.44" height="9.90" fill="#1850d8"/>
<rect x="152.28" y="128.70" width="4.44" height="9.90" fill="#0c34b8"/>
<rect x="155.72" y="128.70" width="4.44" height="9.90" fill="#1040c8"/>
<rect x="159.16" y="128.70" width="4.44" height="9.90" fill="#1040c8"/>
<rect x="162.60" y="128.70" width="4.44" height="9.90" fill="#1850d8"/>
<rect x="166.04" y="128.70" width="4.44" height="9.90" fill="#1040c8"/>
<rect x="169.48" y="128.70" width="4.44" height="9.90" fill="#1040c8"/>
<rect x="172.93" y="128.70" width="4.44" height="9.90" fill="#1040c8"/>
<rect x="176.37" y="128.70" width="4.44" height="9.90" fill="#1850d8"/>
<rect x="179.81" y="128.70" width="4.44" height="9.90" fill="#1040c8"/>
<rect x="183.25" y="128.70" width="4.44" height="9.90" fill="#1040c8"/>
<rect x="186.69" y="128.70" width="4.44" height="9.90" fill="#1040c8"/>
<rect x="190.13" y="128.70" width="4.44" height="9.90" fill="#1850d8"/>
<rect x="193.57" y="128.70" width="4.44" height="9.90" fill="#1040c8"/>
<rect x="197.02" y="128.70" width="4.44" height="9.90" fill="#1040c8"/>
<rect x="200.46" y="128.70" width="4.44" height="9.90" fill="#1040c8"/>
<rect x="203.90" y="128.70" width="4.44" height="9.90" fill="#2060e8"/>
<rect x="207.34" y="128.70" width="4.44" height="9.90" fill="#1040c8"/>
<rect x="210.78" y="128.70" width="4.44" height="9.90" fill="#0c34b8"/>
<rect x="214.22" y="128.70" width="4.44" height="9.90" fill="#1040c8"/>
<rect x="217.67" y="128.70" width="4.44" height="9.90" fill="#0c34b8"/>
<rect x="221.11" y="128.70" width="4.44" height="9.90" fill="#0c34b8"/>
<rect x="224.55" y="128.70" width="4.44" height="9.90" fill="#1850d8"/>
<rect x="227.99" y="128.70" width="4.44" height="9.90" fill="#1040c8"/>
<rect x="231.43" y="128.70" width="4.44" height="9.90" fill="#1040c8"/>
<rect x="234.88" y="128.70" width="4.44" height="9.90" fill="#1040c8"/>
<rect x="238.32" y="128.70" width="4.44" height="9.90" fill="#1040c8"/>
<rect x="241.76" y="128.70" width="4.44" height="9.90" fill="#1040c8"/>
<rect x="245.20" y="128.70" width="4.44" height="9.90" fill="#0c34b8"/>
<rect x="248.64" y="128.70" width="4.44" height="9.90" fill="#0c34b8"/>
<rect x="252.08" y="128.70" width="4.44" height="9.90" fill="#1040c8"/>
<rect x="255.53" y="128.70" width="4.44" height="9.90" fill="#0c34b8"/>
<rect x="258.97" y="128.70" width="4.44" height="9.90" fill="#0c34b8"/>
<rect x="262.41" y="128.70" width="4.44" height="9.90" fill="#0c34b8"/>
<rect x="265.85" y="128.70" width="4.44" height="9.90" fill="#2060e8"/>
<rect x="269.29" y="128.70" width="4.44" height="9.90" fill="#1040c8"/>
<rect x="272.73" y="128.70" width="4.44" height="9.90" fill="#1850d8"/>
<rect x="276.18" y="128.70" width="4.44" height="9.90" fill="#1040c8"/>
<rect x="279.62" y="128.70" width="4.44" height="9.90" fill="#1040c8"/>
<rect x="283.06" y="128.70" width="4.44" height="9.90" fill="#1850d8"/>
<rect x="286.50" y="128.70" width="4.44" height="9.90" fill="#0a28a8"/>
<rect x="289.94" y="128.70" width="4.44" height="9.90" fill="#1850d8"/>
<rect x="293.38" y="128.70" width="4.44" height="9.90" fill="#2c78f0"/>
<rect x="296.83" y="128.70" width="4.44" height="9.90" fill="#2c78f0"/>
<rect x="300.27" y="128.70" width="4.44" height="9.90" fill="#2c78f0"/>
<rect x="303.71" y="128.70" width="4.44" height="9.90" fill="#2060e8"/>
<rect x="307.15" y="128.70" width="4.44" height="9.90" fill="#0c34b8"/>
<rect x="310.59" y="128.70" width="4.44" height="9.90" fill="#1040c8"/>
<rect x="314.03" y="128.70" width="4.44" height="9.90" fill="#1040c8"/>
<rect x="317.48" y="128.70" width="4.44" height="9.90" fill="#2c78f0"/>
<rect x="320.92" y="128.70" width="4.44" height="9.90" fill="#2c78f0"/>
<rect x="324.36" y="128.70" width="4.44" height="9.90" fill="#1040c8"/>
<rect x="327.80" y="128.70" width="4.44" height="9.90" fill="#0c34b8"/>
<rect x="331.24" y="128.70" width="4.44" height="9.90" fill="#1850d8"/>
<rect x="334.68" y="128.70" width="4.44" height="9.90" fill="#1850d8"/>
<rect x="338.12" y="128.70" width="4.44" height="9.90" fill="#0c34b8"/>
<rect x="341.57" y="128.70" width="4.44" height="9.90" fill="#1040c8"/>
<rect x="345.01" y="128.70" width="4.44" height="9.90" fill="#2060e8"/>
<rect x="348.45" y="128.70" width="4.44" height="9.90" fill="#1040c8"/>
<rect x="351.89" y="128.70" width="4.44" height="9.90" fill="#1040c8"/>
<rect x="355.33" y="128.70" width="4.44" height="9.90" fill="#1040c8"/>
<rect x="358.78" y="128.70" width="4.44" height="9.90" fill="#1040c8"/>
<rect x="362.22" y="128.70" width="4.44" height="9.90" fill="#1040c8"/>
<rect x="365.66" y="128.70" width="4.44" height="9.90" fill="#1040c8"/>
<rect x="369.10" y="128.70" width="4.44" height="9.90" fill="#2c78f0"/>
<rect x="372.54" y="128.70" width="4.44" height="9.90" fill="#1850d8"/>
<rect x="375.98" y="128.70" width="4.44" height="9.90" fill="#1040c8"/>
<rect x="379.43" y="128.70" width="4.44" height="9.90" fill="#1040c8"/>
<rect x="382.87" y="128.70" width="4.44" height="9.90" fill="#1040c8"/>
<rect x="386.31" y="128.70" width="4.44" height="9.90" fill="#1040c8"/>
<rect x="389.75" y="128.70" width="4.44" height="9.90" fill="#0c34b8"/>
<rect x="393.19" y="128.70" width="4.44" height="9.90" fill="#1040c8"/>
<rect x="396.63" y="128.70" width="4.44" height="9.90" fill="#1040c8"/>
<rect x="400.08" y="128.70" width="4.44" height="9.90" fill="#1040c8"/>
<rect x="403.52" y="128.70" width="4.44" height="9.90" fill="#2060e8"/>
<rect x="406.96" y="128.70" width="4.44" height="9.90" fill="#2c78f0"/>
<rect x="410.40" y="128.70" width="4.44" height="9.90" fill="#1850d8"/>
<rect x="413.84" y="128.70" width="4.44" height="9.90" fill="#2c78f0"/>
<rect x="417.28" y="128.70" width="4.44" height="9.90" fill="#1850d8"/>
<rect x="420.73" y="128.70" width="4.44" height="9.90" fill="#2c78f0"/>
<rect x="424.17" y="128.70" width="4.44" height="9.90" fill="#2060e8"/>
<rect x="427.61" y="128.70" width="4.44" height="9.90" fill="#1850d8"/>
<rect x="431.05" y="128.70" width="4.44" height="9.90" fill="#1040c8"/>
<rect x="434.49" y="128.70" width="4.44" height="9.90" fill="#0c34b8"/>
<rect x="437.93" y="128.70" width="4.44" height="9.90" fill="#2c78f0"/>
<rect x="441.38" y="128.70" width="4.44" height="9.90" fill="#2c78f0"/>
<rect x="444.82" y="128.70" width="4.44" height="9.90" fill="#1040c8"/>
<rect x="448.26" y="128.70" width="4.44" height="9.90" fill="#1850d8"/>
<rect x="451.70" y="128.70" width="4.44" height="9.90" fill="#0a28a8"/>
<rect x="455.14" y="128.70" width="4.44" height="9.90" fill="#3c90f8"/>
<rect x="458.58" y="128.70" width="4.44" height="9.90" fill="#0a28a8"/>
<rect x="462.03" y="128.70" width="4.44" height="9.90" fill="#0a28a8"/>
<rect x="465.47" y="128.70" width="4.44" height="9.90" fill="#0a28a8"/>
<rect x="468.91" y="128.70" width="4.44" height="9.90" fill="#0c34b8"/>
<rect x="472.35" y="128.70" width="4.44" height="9.90" fill="#08109a"/>
<rect x="475.79" y="128.70" width="4.44" height="9.90" fill="#08109a"/>
<rect x="479.23" y="128.70" width="4.44" height="9.90" fill="#08109a"/>
<rect x="482.68" y="128.70" width="4.44" height="9.90" fill="#08109a"/>
<rect x="486.12" y="128.70" width="4.44" height="9.90" fill="#08109a"/>
<rect x="489.56" y="128.70" width="3.44" height="9.90" fill="#08109a"/>
<path d="M81.72 80.00L81.72 75.80M85.16 80.00L85.16 75.80M81.72 75.80L85.16 75.80M88.60 80.00L88.60 75.80M92.05 80.00L92.05 75.80M88.60 75.80L92.05 75.80M95.49 80.00L95.49 75.80M98.93 80.00L98.93 75.80M95.49 75.80L98.93 75.80M90.33 70.50L90.33 75.80M97.21 70.50L97.21 75.80M90.33 70.50L97.21 70.50M83.44 67.00L83.44 75.80M93.77 67.00L93.77 70.50M83.44 67.00L93.77 67.00M109.25 80.00L109.25 75.80M112.70 80.00L112.70 75.80M109.25 75.80L112.70 75.80M116.14 80.00L116.14 75.80M119.58 80.00L119.58 75.80M116.14 75.80L119.58 75.80M110.97 70.50L110.97 75.80M117.86 70.50L117.86 75.80M110.97 70.50L117.86 70.50M123.02 80.00L123.02 75.80M126.46 80.00L126.46 75.80M123.02 75.80L126.46 75.80M114.42 66.70L114.42 70.50M124.74 66.70L124.74 75.80M114.42 66.70L124.74 66.70M105.81 62.30L105.81 80.00M119.58 62.30L119.58 66.70M105.81 62.30L119.58 62.30M102.37 58.40L102.37 80.00M112.70 58.40L112.70 62.30M102.37 58.40L112.70 58.40M129.90 80.00L129.90 75.80M133.35 80.00L133.35 75.80M129.90 75.80L133.35 75.80M136.79 80.00L136.79 75.80M140.23 80.00L140.23 75.80M136.79 75.80L140.23 75.80M131.62 70.50L131.62 75.80M138.51 70.50L138.51 75.80M131.62 70.50L138.51 70.50M143.67 80.00L143.67 75.80M147.11 80.00L147.11 75.80M143.67 75.80L147.11 75.80M135.07 67.00L135.07 70.50M145.39 67.00L145.39 75.80M135.07 67.00L145.39 67.00M150.55 80.00L150.55 75.80M154.00 80.00L154.00 75.80M150.55 75.80L154.00 75.80M157.44 80.00L157.44 75.80M160.88 80.00L160.88 75.80M157.44 75.80L160.88 75.80M159.16 70.50L159.16 75.80M164.32 70.50L164.32 80.00M159.16 70.50L164.32 70.50M152.28 66.70L152.28 75.80M161.74 66.70L161.74 70.50M152.28 66.70L161.74 66.70M171.20 80.00L171.20 75.80M174.65 80.00L174.65 75.80M171.20 75.80L174.65 75.80M167.76 70.50L167.76 80.00M172.93 70.50L172.93 75.80M167.76 70.50L172.93 70.50M178.09 80.00L178.09 75.80M181.53 80.00L181.53 75.80M178.09 75.80L181.53 75.80M179.81 70.50L179.81 75.80M184.97 70.50L184.97 80.00M179.81 70.50L184.97 70.50M170.34 66.70L170.34 70.50M182.39 66.70L182.39 70.50M170.34 66.70L182.39 66.70M188.41 80.00L188.41 75.80M191.85 80.00L191.85 75.80M188.41 75.80L191.85 75.80M195.30 80.00L195.30 75.80M198.74 80.00L198.74 75.80M195.30 75.80L198.74 75.80M197.02 70.50L197.02 75.80M202.18 70.50L202.18 80.00M197.02 70.50L202.18 70.50M190.13 66.70L190.13 75.80M199.60 66.70L199.60 70.50M190.13 66.70L199.60 66.70M176.37 62.30L176.37 66.70M194.87 62.30L194.87 66.70M176.37 62.30L194.87 62.30M157.01 58.40L157.01 66.70M185.62 58.40L185.62 62.30M157.01 58.40L185.62 58.40M140.23 54.00L140.23 67.00M171.31 54.00L171.31 58.40M140.23 54.00L171.31 54.00M107.53 49.50L107.53 58.40M155.77 49.50L155.77 54.00M107.53 49.50L155.77 49.50M88.60 45.70L88.60 67.00M131.65 45.70L131.65 49.50M88.60 45.70L131.65 45.70M209.06 80.00L209.06 75.80M212.50 80.00L212.50 75.80M209.06 75.80L212.50 75.80M215.95 80.00L215.95 75.80M219.39 80.00L219.39 75.80M215.95 75.80L219.39 75.80M210.78 71.30L210.78 75.80M217.67 71.30L217.67 75.80M210.78 71.30L217.67 71.30M214.23 67.80L214.23 71.30M222.83 67.80L222.83 80.00M214.23 67.80L222.83 67.80M218.53 63.00L218.53 67.80M226.27 63.00L226.27 80.00M218.53 63.00L226.27 63.00M229.71 80.00L229.71 75.80M233.15 80.00L233.15 75.80M229.71 75.80L233.15 75.80M243.48 80.00L243.48 75.80M246.92 80.00L246.92 75.80M243.48 75.80L246.92 75.80M240.04 71.30L240.04 80.00M245.20 71.30L245.20 75.80M240.04 71.30L245.20 71.30M250.36 80.00L250.36 75.80M253.80 80.00L253.80 75.80M250.36 75.80L253.80 75.80M242.62 67.80L242.62 71.30M252.08 67.80L252.08 75.80M242.62 67.80L252.08 67.80M236.60 62.70L236.60 80.00M247.35 62.70L247.35 67.80M236.60 62.70L247.35 62.70M241.97 58.60L241.97 62.70M257.25 58.60L257.25 80.00M241.97 58.60L257.25 58.60M231.43 54.50L231.43 75.80M249.61 54.50L249.61 58.60M231.43 54.50L249.61 54.50M260.69 80.00L260.69 75.80M264.13 80.00L264.13 75.80M260.69 75.80L264.13 75.80M240.52 49.70L240.52 54.50M262.41 49.70L262.41 75.80M240.52 49.70L262.41 49.70M222.40 45.30L222.40 63.00M251.46 45.30L251.46 49.70M222.40 45.30L251.46 45.30M205.62 41.50L205.62 80.00M236.93 41.50L236.93 45.30M205.62 41.50L236.93 41.50M110.13 37.00L110.13 45.70M221.28 37.00L221.28 41.50M110.13 37.00L221.28 37.00M267.57 80.00L267.57 75.80M271.01 80.00L271.01 75.80M267.57 75.80L271.01 75.80M274.45 80.00L274.45 75.80M277.90 80.00L277.90 75.80M274.45 75.80L277.90 75.80M269.29 70.70L269.29 75.80M276.18 70.70L276.18 75.80M269.29 70.70L276.18 70.70M284.78 80.00L284.78 75.80M288.22 80.00L288.22 75.80M284.78 75.80L288.22 75.80M281.34 70.70L281.34 80.00M286.50 70.70L286.50 75.80M281.34 70.70L286.50 70.70M272.73 66.50L272.73 70.70M283.92 66.50L283.92 70.70M272.73 66.50L283.92 66.50M295.10 80.00L295.10 75.80M298.55 80.00L298.55 75.80M295.10 75.80L298.55 75.80M291.66 70.70L291.66 80.00M296.83 70.70L296.83 75.80M291.66 70.70L296.83 70.70M301.99 80.00L301.99 75.80M305.43 80.00L305.43 75.80M301.99 75.80L305.43 75.80M308.87 80.00L308.87 75.80M312.31 80.00L312.31 75.80M308.87 75.80L312.31 75.80M310.59 70.70L310.59 75.80M315.75 70.70L315.75 80.00M310.59 70.70L315.75 70.70M303.71 66.50L303.71 75.80M313.17 66.50L313.17 70.70M303.71 66.50L313.17 66.50M294.24 62.30L294.24 70.70M308.44 62.30L308.44 66.50M294.24 62.30L308.44 62.30M319.20 80.00L319.20 75.80M322.64 80.00L322.64 75.80M319.20 75.80L322.64 75.80M320.92 70.70L320.92 75.80M326.08 70.70L326.08 80.00M320.92 70.70L326.08 70.70M301.34 58.00L301.34 62.30M323.50 58.00L323.50 70.70M301.34 58.00L323.50 58.00M329.52 80.00L329.52 75.80M332.96 80.00L332.96 75.80M329.52 75.80L332.96 75.80M336.40 80.00L336.40 75.80M339.85 80.00L339.85 75.80M336.40 75.80L339.85 75.80M331.24 70.70L331.24 75.80M338.12 70.70L338.12 75.80M331.24 70.70L338.12 70.70M343.29 80.00L343.29 75.80M346.73 80.00L346.73 75.80M343.29 75.80L346.73 75.80M353.61 80.00L353.61 75.80M357.05 80.00L357.05 75.80M353.61 75.80L357.05 75.80M350.17 66.50L350.17 80.00M355.33 66.50L355.33 75.80M350.17 66.50L355.33 66.50M363.94 80.00L363.94 75.80M367.38 80.00L367.38 75.80M363.94 75.80L367.38 75.80M360.50 70.70L360.50 80.00M365.66 70.70L365.66 75.80M360.50 70.70L365.66 70.70M370.82 80.00L370.82 75.80M374.26 80.00L374.26 75.80M370.82 75.80L374.26 75.80M372.54 70.70L372.54 75.80M377.70 70.70L377.70 80.00M372.54 70.70L377.70 70.70M363.08 66.50L363.08 70.70M375.12 66.50L375.12 70.70M363.08 66.50L375.12 66.50M352.75 62.30L352.75 66.50M369.10 62.30L369.10 66.50M352.75 62.30L369.10 62.30M345.01 58.00L345.01 75.80M360.93 58.00L360.93 62.30M345.01 58.00L360.93 58.00M334.68 53.50L334.68 70.70M352.97 53.50L352.97 58.00M334.68 53.50L352.97 53.50M312.42 49.80L312.42 58.00M343.83 49.80L343.83 53.50M312.42 49.80L343.83 49.80M381.15 80.00L381.15 75.80M384.59 80.00L384.59 75.80M381.15 75.80L384.59 75.80M388.03 80.00L388.03 75.80M391.47 80.00L391.47 75.80M388.03 75.80L391.47 75.80M382.87 66.50L382.87 75.80M389.75 66.50L389.75 75.80M382.87 66.50L389.75 66.50M328.12 45.70L328.12 49.80M386.31 45.70L386.31 66.50M328.12 45.70L386.31 45.70M394.91 80.00L394.91 75.80M398.35 80.00L398.35 75.80M394.91 75.80L398.35 75.80M401.80 80.00L401.80 75.80M405.24 80.00L405.24 75.80M401.80 75.80L405.24 75.80M396.63 66.60L396.63 75.80M403.52 66.60L403.52 75.80M396.63 66.60L403.52 66.60M408.68 80.00L408.68 75.80M412.12 80.00L412.12 75.80M408.68 75.80L412.12 75.80M410.40 70.70L410.40 75.80M415.56 70.70L415.56 80.00M410.40 70.70L415.56 70.70M419.00 80.00L419.00 75.80M422.45 80.00L422.45 75.80M419.00 75.80L422.45 75.80M412.98 66.60L412.98 70.70M420.73 66.60L420.73 75.80M412.98 66.60L420.73 66.60M400.07 62.00L400.07 66.60M416.85 62.00L416.85 66.60M400.07 62.00L416.85 62.00M357.22 41.80L357.22 45.70M408.46 41.80L408.46 62.00M357.22 41.80L408.46 41.80M425.89 80.00L425.89 75.80M429.33 80.00L429.33 75.80M425.89 75.80L429.33 75.80M427.61 70.70L427.61 75.80M432.77 70.70L432.77 80.00M427.61 70.70L432.77 70.70M439.65 80.00L439.65 75.80M443.10 80.00L443.10 75.80M439.65 75.80L443.10 75.80M436.21 70.70L436.21 80.00M441.38 70.70L441.38 75.80M436.21 70.70L441.38 70.70M430.19 66.60L430.19 70.70M438.79 66.60L438.79 70.70M430.19 66.60L438.79 66.60M382.84 37.30L382.84 41.80M434.49 37.30L434.49 66.60M382.84 37.30L434.49 37.30M278.33 32.70L278.33 66.50M408.67 32.70L408.67 37.30M278.33 32.70L408.67 32.70M446.54 80.00L446.54 75.80M449.98 80.00L449.98 75.80M446.54 75.80L449.98 75.80M453.42 80.00L453.42 75.80M456.86 80.00L456.86 75.80M453.42 75.80L456.86 75.80M448.26 66.60L448.26 75.80M455.14 66.60L455.14 75.80M448.26 66.60L455.14 66.60M343.50 28.40L343.50 32.70M451.70 28.40L451.70 66.60M343.50 28.40L451.70 28.40M165.70 24.00L165.70 37.00M397.60 24.00L397.60 28.40M165.70 24.00L397.60 24.00M460.30 80.00L460.30 75.80M463.75 80.00L463.75 75.80M460.30 75.80L463.75 75.80M467.19 80.00L467.19 75.80M470.63 80.00L470.63 75.80M467.19 75.80L470.63 75.80M462.02 66.60L462.02 75.80M468.91 66.60L468.91 75.80M462.02 66.60L468.91 66.60M474.07 80.00L474.07 75.80M477.51 80.00L477.51 75.80M474.07 75.80L477.51 75.80M465.47 62.60L465.47 66.60M475.79 62.60L475.79 75.80M465.47 62.60L475.79 62.60M484.40 80.00L484.40 75.80M487.84 80.00L487.84 75.80M484.40 75.80L487.84 75.80M480.95 66.60L480.95 80.00M486.12 66.60L486.12 75.80M480.95 66.60L486.12 66.60M470.63 58.40L470.63 62.60M483.54 58.40L483.54 66.60M470.63 58.40L483.54 58.40M477.08 54.00L477.08 58.40M491.28 54.00L491.28 80.00M477.08 54.00L491.28 54.00M281.65 20.60L281.65 24.00M484.18 20.60L484.18 54.00M281.65 20.60L484.18 20.60" fill="none" stroke="#111" stroke-width="0.56"/><circle cx="97.21" cy="75.80" r="0.95" fill="#000"/><circle cx="88.60" cy="67.00" r="0.95" fill="#000"/><circle cx="114.42" cy="70.50" r="0.95" fill="#000"/><circle cx="107.53" cy="58.40" r="0.95" fill="#000"/><circle cx="155.77" cy="54.00" r="0.95" fill="#000"/><circle cx="110.13" cy="45.70" r="0.95" fill="#000"/><circle cx="222.40" cy="63.00" r="0.95" fill="#000"/><circle cx="231.43" cy="75.80" r="0.95" fill="#000"/><circle cx="262.41" cy="75.80" r="0.95" fill="#000"/><circle cx="251.46" cy="49.70" r="0.95" fill="#000"/><circle cx="236.93" cy="45.30" r="0.95" fill="#000"/><circle cx="221.28" cy="41.50" r="0.95" fill="#000"/><circle cx="165.70" cy="37.00" r="0.95" fill="#000"/><circle cx="278.33" cy="66.50" r="0.95" fill="#000"/><circle cx="301.34" cy="62.30" r="0.95" fill="#000"/><circle cx="312.42" cy="58.00" r="0.95" fill="#000"/><circle cx="334.68" cy="70.70" r="0.95" fill="#000"/><circle cx="360.93" cy="62.30" r="0.95" fill="#000"/><circle cx="386.31" cy="66.50" r="0.95" fill="#000"/><circle cx="357.22" cy="45.70" r="0.95" fill="#000"/><circle cx="400.07" cy="66.60" r="0.95" fill="#000"/><circle cx="382.84" cy="41.80" r="0.95" fill="#000"/><circle cx="434.49" cy="66.60" r="0.95" fill="#000"/><circle cx="408.67" cy="37.30" r="0.95" fill="#000"/><circle cx="343.50" cy="32.70" r="0.95" fill="#000"/><circle cx="451.70" cy="66.60" r="0.95" fill="#000"/><circle cx="397.60" cy="28.40" r="0.95" fill="#000"/><circle cx="281.65" cy="24.00" r="0.95" fill="#000"/><circle cx="465.47" cy="66.60" r="0.95" fill="#000"/><circle cx="484.18" cy="54.00" r="0.95" fill="#000"/><circle cx="382.92" cy="20.60" r="0.95" fill="#000"/>
<text x="24.40" y="14.20" font-size="13.00" text-anchor="start" font-weight="bold" fill="#000" stroke="#000" stroke-width="0.00">A</text>
<text x="44.20" y="13.70" font-size="7.56" text-anchor="start" font-weight="normal" fill="#000" stroke="#000" stroke-width="0.16">Human-Multiple Cortical Areas – SMART-seq</text>
<text x="280.60" y="23.20" font-size="6.00" text-anchor="end" font-weight="normal" fill="#000" stroke="#000" stroke-width="0.16">Neuronal</text>
<text x="168.60" y="36.00" font-size="6.00" text-anchor="start" font-weight="normal" fill="#000" stroke="#000" stroke-width="0.16">Inhibitory</text>
<text x="113.00" y="44.50" font-size="6.00" text-anchor="start" font-weight="normal" fill="#000" stroke="#000" stroke-width="0.16">ADARB2 (CGE)</text>
<text x="159.00" y="52.70" font-size="6.00" text-anchor="start" font-weight="normal" fill="#000" stroke="#000" stroke-width="0.16">VIP</text>
<text x="224.00" y="40.60" font-size="6.00" text-anchor="start" font-weight="normal" fill="#000" stroke="#000" stroke-width="0.16">LHX6(MGE)</text>
<text x="254.00" y="48.40" font-size="6.00" text-anchor="start" font-weight="normal" fill="#000" stroke="#000" stroke-width="0.16">PVALB</text>
<text x="223.30" y="62.00" font-size="6.00" text-anchor="start" font-weight="normal" fill="#000" stroke="#000" stroke-width="0.16">SS</text>
<text x="224.20" y="66.60" font-size="4.00" text-anchor="start" font-weight="normal" fill="#000" stroke="#000" stroke-width="0.10">T</text>
<text x="401.00" y="27.80" font-size="6.00" text-anchor="start" font-weight="normal" fill="#000" stroke="#000" stroke-width="0.16">Excitatory</text>
<text x="363.00" y="53.50" font-size="6.00" text-anchor="start" font-weight="normal" fill="#000" stroke="#000" stroke-width="0.16">RORB</text>
<text x="362.30" y="60.20" font-size="6.00" text-anchor="start" font-weight="normal" fill="#000" stroke="#000" stroke-width="0.16">(L5 IT)</text>
<text x="391.60" y="60.40" font-size="6.00" text-anchor="start" font-weight="normal" fill="#000" stroke="#000" stroke-width="0.16">FEZF2</text>
<text x="459.60" y="42.40" font-size="6.00" text-anchor="start" font-weight="normal" fill="#000" stroke="#000" stroke-width="0.16">Non-</text>
<text x="459.60" y="49.60" font-size="6.00" text-anchor="start" font-weight="normal" fill="#000" stroke="#000" stroke-width="0.16">neuronal</text>
<text x="78.20" y="105.65" font-size="6.05" text-anchor="end" font-weight="normal" fill="#000" stroke="#000" stroke-width="0.16">ARX</text>
<text x="78.20" y="115.95" font-size="6.05" text-anchor="end" font-weight="normal" fill="#000" stroke="#000" stroke-width="0.16">KDM5C</text>
<text x="78.20" y="125.85" font-size="6.05" text-anchor="end" font-weight="normal" fill="#000" stroke="#000" stroke-width="0.16">PHF8</text>
<text x="78.20" y="135.75" font-size="6.05" text-anchor="end" font-weight="normal" fill="#000" stroke="#000" stroke-width="0.16">ZNF711</text>
<rect x="214" y="143.1" width="162" height="10.9" fill="url(#g)"/>
<path d="M214.00 154V156.4" stroke="#333" stroke-width="0.5"/>
<text x="214.00" y="161.20" font-size="3.60" text-anchor="middle" font-weight="normal" fill="#000" stroke="#000" stroke-width="0.10">0.00</text>
<path d="M254.50 154V156.4" stroke="#333" stroke-width="0.5"/>
<text x="254.50" y="161.20" font-size="3.60" text-anchor="middle" font-weight="normal" fill="#000" stroke="#000" stroke-width="0.10">4.15</text>
<path d="M295.00 154V156.4" stroke="#333" stroke-width="0.5"/>
<text x="295.00" y="161.20" font-size="3.60" text-anchor="middle" font-weight="normal" fill="#000" stroke="#000" stroke-width="0.10">8.31</text>
<path d="M335.50 154V156.4" stroke="#333" stroke-width="0.5"/>
<text x="335.50" y="161.20" font-size="3.60" text-anchor="middle" font-weight="normal" fill="#000" stroke="#000" stroke-width="0.10">12.46</text>
<path d="M376.00 154V156.4" stroke="#333" stroke-width="0.5"/>
<text x="376.00" y="161.20" font-size="3.60" text-anchor="middle" font-weight="normal" fill="#000" stroke="#000" stroke-width="0.10">16.61</text>
<text x="295.50" y="166.70" font-size="3.98" text-anchor="middle" font-weight="normal" fill="#000" stroke="#000" stroke-width="0.10">Measure of central tendency: Trimmed Mean (25%-75%) LOG2(CPM + 1)</text>
<text transform="translate(101.15 89.80) rotate(90)" font-size="3.4" font-weight="bold" fill="#a8a8a8" stroke="#a8a8a8" stroke-width="0.4" textLength="2.11" lengthAdjust="spacingAndGlyphs">Ca</text>
<text transform="translate(111.47 89.80) rotate(90)" font-size="3.4" font-weight="bold" fill="#a8a8a8" stroke="#a8a8a8" stroke-width="0.4" textLength="1.90" lengthAdjust="spacingAndGlyphs">mp</text>
<text transform="translate(114.91 89.80) rotate(90)" font-size="3.4" font-weight="bold" fill="#a8a8a8" stroke="#a8a8a8" stroke-width="0.4" textLength="2.41" lengthAdjust="spacingAndGlyphs">Glu</text>
<text transform="translate(121.80 89.80) rotate(90)" font-size="3.4" font-weight="bold" fill="#a8a8a8" stroke="#a8a8a8" stroke-width="0.4" textLength="2.58" lengthAdjust="spacingAndGlyphs">TXE</text>
<text transform="translate(135.56 89.80) rotate(90)" font-size="3.4" font-weight="bold" fill="#a8a8a8" stroke="#a8a8a8" stroke-width="0.4" textLength="1.62" lengthAdjust="spacingAndGlyphs">nt</text>
<text transform="translate(142.45 89.80) rotate(90)" font-size="3.4" font-weight="bold" fill="#a8a8a8" stroke="#a8a8a8" stroke-width="0.4" textLength="1.79" lengthAdjust="spacingAndGlyphs">Pr</text>
<text transform="translate(145.89 89.80) rotate(90)" font-size="3.4" font-weight="bold" fill="#a8a8a8" stroke="#a8a8a8" stroke-width="0.4" textLength="1.63" lengthAdjust="spacingAndGlyphs">st</text>
<text transform="translate(152.77 89.80) rotate(90)" font-size="3.4" font-weight="bold" fill="#a8a8a8" stroke="#a8a8a8" stroke-width="0.4" textLength="2.44" lengthAdjust="spacingAndGlyphs">PAC</text>
<text transform="translate(173.42 89.80) rotate(90)" font-size="3.4" font-weight="bold" fill="#a8a8a8" stroke="#a8a8a8" stroke-width="0.4" textLength="2.60" lengthAdjust="spacingAndGlyphs">L6b</text>
<text transform="translate(187.19 89.80) rotate(90)" font-size="3.4" font-weight="bold" fill="#a8a8a8" stroke="#a8a8a8" stroke-width="0.4" textLength="1.83" lengthAdjust="spacingAndGlyphs">XE</text>
<text transform="translate(190.63 89.80) rotate(90)" font-size="3.4" font-weight="bold" fill="#a8a8a8" stroke="#a8a8a8" stroke-width="0.4" textLength="1.67" lengthAdjust="spacingAndGlyphs">RH</text>
<text transform="translate(197.51 89.80) rotate(90)" font-size="3.4" font-weight="bold" fill="#a8a8a8" stroke="#a8a8a8" stroke-width="0.4" textLength="2.45" lengthAdjust="spacingAndGlyphs">Snc</text>
<text transform="translate(200.96 89.80) rotate(90)" font-size="3.4" font-weight="bold" fill="#a8a8a8" stroke="#a8a8a8" stroke-width="0.4" textLength="2.56" lengthAdjust="spacingAndGlyphs">TCT</text>
<text transform="translate(207.84 89.80) rotate(90)" font-size="3.4" font-weight="bold" fill="#a8a8a8" stroke="#a8a8a8" stroke-width="0.4" textLength="1.81" lengthAdjust="spacingAndGlyphs">Ss</text>
<text transform="translate(221.61 89.80) rotate(90)" font-size="3.4" font-weight="bold" fill="#a8a8a8" stroke="#a8a8a8" stroke-width="0.4" textLength="1.67" lengthAdjust="spacingAndGlyphs">AB</text>
<text transform="translate(231.93 89.80) rotate(90)" font-size="3.4" font-weight="bold" fill="#a8a8a8" stroke="#a8a8a8" stroke-width="0.4" textLength="1.69" lengthAdjust="spacingAndGlyphs">tG</text>
<text transform="translate(235.37 89.80) rotate(90)" font-size="3.4" font-weight="bold" fill="#a8a8a8" stroke="#a8a8a8" stroke-width="0.4" textLength="2.56" lengthAdjust="spacingAndGlyphs">Ent</text>
<text transform="translate(242.26 89.80) rotate(90)" font-size="3.4" font-weight="bold" fill="#a8a8a8" stroke="#a8a8a8" stroke-width="0.4" textLength="1.85" lengthAdjust="spacingAndGlyphs">gL</text>
<text transform="translate(245.70 89.80) rotate(90)" font-size="3.4" font-weight="bold" fill="#a8a8a8" stroke="#a8a8a8" stroke-width="0.4" textLength="1.66" lengthAdjust="spacingAndGlyphs">Ss</text>
<text transform="translate(252.58 89.80) rotate(90)" font-size="3.4" font-weight="bold" fill="#a8a8a8" stroke="#a8a8a8" stroke-width="0.4" textLength="2.16" lengthAdjust="spacingAndGlyphs">oSU</text>
<text transform="translate(256.02 89.80) rotate(90)" font-size="3.4" font-weight="bold" fill="#a8a8a8" stroke="#a8a8a8" stroke-width="0.4" textLength="1.79" lengthAdjust="spacingAndGlyphs">GA</text>
<text transform="translate(262.91 89.80) rotate(90)" font-size="3.4" font-weight="bold" fill="#a8a8a8" stroke="#a8a8a8" stroke-width="0.4" textLength="2.24" lengthAdjust="spacingAndGlyphs">XEn</text>
<text transform="translate(266.35 89.80) rotate(90)" font-size="3.4" font-weight="bold" fill="#a8a8a8" stroke="#a8a8a8" stroke-width="0.4" textLength="2.02" lengthAdjust="spacingAndGlyphs">UB</text>
<text transform="translate(269.79 89.80) rotate(90)" font-size="3.4" font-weight="bold" fill="#a8a8a8" stroke="#a8a8a8" stroke-width="0.4" textLength="1.87" lengthAdjust="spacingAndGlyphs">ip</text>
<text transform="translate(280.11 89.80) rotate(90)" font-size="3.4" font-weight="bold" fill="#a8a8a8" stroke="#a8a8a8" stroke-width="0.4" textLength="2.48" lengthAdjust="spacingAndGlyphs">ncg</text>
<text transform="translate(283.56 89.80) rotate(90)" font-size="3.4" font-weight="bold" fill="#a8a8a8" stroke="#a8a8a8" stroke-width="0.4" textLength="1.99" lengthAdjust="spacingAndGlyphs">TL</text>
<text transform="translate(290.44 89.70) rotate(90)" font-size="3.4" font-weight="bold" fill="#8a8a8a" stroke="#8a8a8a" stroke-width="0.4" textLength="7.50" lengthAdjust="spacingAndGlyphs">L6bL5ETL4</text>
<text transform="translate(297.32 89.80) rotate(90)" font-size="3.4" font-weight="bold" fill="#a8a8a8" stroke="#a8a8a8" stroke-width="0.4" textLength="2.59" lengthAdjust="spacingAndGlyphs">XEn</text>
<text transform="translate(300.76 89.80) rotate(90)" font-size="3.4" font-weight="bold" fill="#a8a8a8" stroke="#a8a8a8" stroke-width="0.4" textLength="1.86" lengthAdjust="spacingAndGlyphs">BL</text>
<text transform="translate(307.65 89.80) rotate(90)" font-size="3.4" font-weight="bold" fill="#a8a8a8" stroke="#a8a8a8" stroke-width="0.4" textLength="1.90" lengthAdjust="spacingAndGlyphs">L6</text>
<text transform="translate(311.09 89.70) rotate(90)" font-size="3.4" font-weight="bold" fill="#8a8a8a" stroke="#8a8a8a" stroke-width="0.4" textLength="2.60" lengthAdjust="spacingAndGlyphs">Glu</text>
<text transform="translate(314.53 89.80) rotate(90)" font-size="3.4" font-weight="bold" fill="#a8a8a8" stroke="#a8a8a8" stroke-width="0.4" textLength="1.69" lengthAdjust="spacingAndGlyphs">TX</text>
<text transform="translate(321.41 89.80) rotate(90)" font-size="3.4" font-weight="bold" fill="#a8a8a8" stroke="#a8a8a8" stroke-width="0.4" textLength="2.20" lengthAdjust="spacingAndGlyphs">ncg</text>
<text transform="translate(324.86 89.80) rotate(90)" font-size="3.4" font-weight="bold" fill="#a8a8a8" stroke="#a8a8a8" stroke-width="0.4" textLength="2.05" lengthAdjust="spacingAndGlyphs">CT</text>
<text transform="translate(335.18 89.70) rotate(90)" font-size="3.4" font-weight="bold" fill="#8a8a8a" stroke="#8a8a8a" stroke-width="0.4" textLength="4.00" lengthAdjust="spacingAndGlyphs">SUBL6</text>
<text transform="translate(345.51 89.80) rotate(90)" font-size="3.4" font-weight="bold" fill="#a8a8a8" stroke="#a8a8a8" stroke-width="0.4" textLength="1.75" lengthAdjust="spacingAndGlyphs">La</text>
<text transform="translate(348.95 89.70) rotate(90)" font-size="3.4" font-weight="bold" fill="#8a8a8a" stroke="#8a8a8a" stroke-width="0.4" textLength="3.80" lengthAdjust="spacingAndGlyphs">PTNP</text>
<text transform="translate(359.27 89.80) rotate(90)" font-size="3.4" font-weight="bold" fill="#a8a8a8" stroke="#a8a8a8" stroke-width="0.4" textLength="1.79" lengthAdjust="spacingAndGlyphs">tG</text>
<text transform="translate(366.16 89.70) rotate(90)" font-size="3.4" font-weight="bold" fill="#8a8a8a" stroke="#8a8a8a" stroke-width="0.4" textLength="3.20" lengthAdjust="spacingAndGlyphs">amp5</text>
<text transform="translate(373.04 89.80) rotate(90)" font-size="3.4" font-weight="bold" fill="#a8a8a8" stroke="#a8a8a8" stroke-width="0.4" textLength="2.55" lengthAdjust="spacingAndGlyphs">roS</text>
<text transform="translate(376.48 89.70) rotate(90)" font-size="3.4" font-weight="bold" fill="#8a8a8a" stroke="#8a8a8a" stroke-width="0.4" textLength="2.50" lengthAdjust="spacingAndGlyphs">ipL</text>
<text transform="translate(386.81 89.80) rotate(90)" font-size="3.4" font-weight="bold" fill="#a8a8a8" stroke="#a8a8a8" stroke-width="0.4" textLength="1.70" lengthAdjust="spacingAndGlyphs">BL</text>
<text transform="translate(390.25 89.80) rotate(90)" font-size="3.4" font-weight="bold" fill="#a8a8a8" stroke="#a8a8a8" stroke-width="0.4" textLength="2.56" lengthAdjust="spacingAndGlyphs">NPC</text>
<text transform="translate(393.69 89.70) rotate(90)" font-size="3.4" font-weight="bold" fill="#8a8a8a" stroke="#8a8a8a" stroke-width="0.4" textLength="2.40" lengthAdjust="spacingAndGlyphs">SUB</text>
<text transform="translate(397.13 89.80) rotate(90)" font-size="3.4" font-weight="bold" fill="#a8a8a8" stroke="#a8a8a8" stroke-width="0.4" textLength="2.30" lengthAdjust="spacingAndGlyphs">val</text>
<text transform="translate(400.57 89.70) rotate(90)" font-size="3.4" font-weight="bold" fill="#8a8a8a" stroke="#8a8a8a" stroke-width="0.4" textLength="2.60" lengthAdjust="spacingAndGlyphs">tVi</text>
<text transform="translate(404.01 89.80) rotate(90)" font-size="3.4" font-weight="bold" fill="#a8a8a8" stroke="#a8a8a8" stroke-width="0.4" textLength="2.42" lengthAdjust="spacingAndGlyphs">L6b</text>
<text transform="translate(410.90 89.80) rotate(90)" font-size="3.4" font-weight="bold" fill="#a8a8a8" stroke="#a8a8a8" stroke-width="0.4" textLength="1.78" lengthAdjust="spacingAndGlyphs">BL</text>
<text transform="translate(417.78 89.80) rotate(90)" font-size="3.4" font-weight="bold" fill="#a8a8a8" stroke="#a8a8a8" stroke-width="0.4" textLength="1.83" lengthAdjust="spacingAndGlyphs">L4</text>
<text transform="translate(431.55 89.80) rotate(90)" font-size="3.4" font-weight="bold" fill="#a8a8a8" stroke="#a8a8a8" stroke-width="0.4" textLength="2.52" lengthAdjust="spacingAndGlyphs">alb</text>
<text transform="translate(434.99 89.80) rotate(90)" font-size="3.4" font-weight="bold" fill="#a8a8a8" stroke="#a8a8a8" stroke-width="0.4" textLength="1.62" lengthAdjust="spacingAndGlyphs">AC</text>
<text transform="translate(438.43 89.80) rotate(90)" font-size="3.4" font-weight="bold" fill="#a8a8a8" stroke="#a8a8a8" stroke-width="0.4" textLength="2.05" lengthAdjust="spacingAndGlyphs">st</text>
<text transform="translate(441.87 89.80) rotate(90)" font-size="3.4" font-weight="bold" fill="#a8a8a8" stroke="#a8a8a8" stroke-width="0.4" textLength="1.78" lengthAdjust="spacingAndGlyphs">oS</text>
<text transform="translate(445.31 89.80) rotate(90)" font-size="3.4" font-weight="bold" fill="#a8a8a8" stroke="#a8a8a8" stroke-width="0.4" textLength="2.17" lengthAdjust="spacingAndGlyphs">Ent</text>
<text transform="translate(448.76 89.80) rotate(90)" font-size="3.4" font-weight="bold" fill="#a8a8a8" stroke="#a8a8a8" stroke-width="0.4" textLength="1.96" lengthAdjust="spacingAndGlyphs">UB</text>
<text transform="translate(459.08 89.70) rotate(90)" font-size="3.4" font-weight="bold" fill="#8a8a8a" stroke="#8a8a8a" stroke-width="0.4" textLength="2.20" lengthAdjust="spacingAndGlyphs">XEn</text>
<text transform="translate(465.96 89.70) rotate(90)" font-size="3.4" font-weight="bold" fill="#8a8a8a" stroke="#8a8a8a" stroke-width="0.4" textLength="2.20" lengthAdjust="spacingAndGlyphs">ETL</text>
<text transform="translate(472.85 89.70) rotate(90)" font-size="3.4" font-weight="bold" fill="#8a8a8a" stroke="#8a8a8a" stroke-width="0.4" textLength="3.40" lengthAdjust="spacingAndGlyphs">bSnc</text>
<text transform="translate(479.73 89.80) rotate(90)" font-size="3.4" font-weight="bold" fill="#a8a8a8" stroke="#a8a8a8" stroke-width="0.4" textLength="1.64" lengthAdjust="spacingAndGlyphs">CR</text>
<text transform="translate(483.17 89.80) rotate(90)" font-size="3.4" font-weight="bold" fill="#a8a8a8" stroke="#a8a8a8" stroke-width="0.4" textLength="2.51" lengthAdjust="spacingAndGlyphs">Pro</text>
<text transform="translate(490.06 89.70) rotate(90)" font-size="3.4" font-weight="bold" fill="#8a8a8a" stroke="#8a8a8a" stroke-width="0.4" textLength="2.00" lengthAdjust="spacingAndGlyphs">GA</text>
<rect x="26.30" y="243.00" width="3.00" height="10.30" fill="#20f060"/>
<rect x="28.30" y="243.00" width="3.00" height="10.30" fill="#d31515"/>
<rect x="30.29" y="243.00" width="3.00" height="10.30" fill="#c06850"/>
<rect x="32.29" y="243.00" width="3.00" height="10.30" fill="#a85c48"/>
<rect x="34.29" y="243.00" width="3.00" height="10.30" fill="#f09070"/>
<rect x="36.28" y="243.00" width="3.00" height="10.30" fill="#e08868"/>
<rect x="38.28" y="243.00" width="3.00" height="10.30" fill="#c06878"/>
<rect x="40.28" y="243.00" width="3.00" height="10.30" fill="#c86080"/>
<rect x="42.27" y="243.00" width="3.00" height="10.30" fill="#e87890"/>
<rect x="44.27" y="243.00" width="3.00" height="10.30" fill="#c86080"/>
<rect x="46.27" y="243.00" width="3.00" height="10.30" fill="#e87890"/>
<rect x="48.26" y="243.00" width="3.00" height="10.30" fill="#f890a0"/>
<rect x="50.26" y="243.00" width="3.00" height="10.30" fill="#f08090"/>
<rect x="52.26" y="243.00" width="3.00" height="10.30" fill="#e07088"/>
<rect x="54.25" y="243.00" width="3.00" height="10.30" fill="#f890a0"/>
<rect x="56.25" y="243.00" width="3.00" height="10.30" fill="#f08090"/>
<rect x="58.24" y="243.00" width="3.00" height="10.30" fill="#b87048"/>
<rect x="60.24" y="243.00" width="3.00" height="10.30" fill="#a86840"/>
<rect x="62.24" y="243.00" width="3.00" height="10.30" fill="#b87048"/>
<rect x="64.23" y="243.00" width="3.00" height="10.30" fill="#cb3a91"/>
<rect x="66.23" y="243.00" width="3.00" height="10.30" fill="#e040a0"/>
<rect x="68.23" y="243.00" width="3.00" height="10.30" fill="#d840a0"/>
<rect x="70.22" y="243.00" width="3.00" height="10.30" fill="#f050b0"/>
<rect x="72.22" y="243.00" width="3.00" height="10.30" fill="#d840a0"/>
<rect x="74.22" y="243.00" width="3.00" height="10.30" fill="#a030d0"/>
<rect x="76.21" y="243.00" width="3.00" height="10.30" fill="#912bbd"/>
<rect x="78.21" y="243.00" width="3.00" height="10.30" fill="#d040f0"/>
<rect x="80.21" y="243.00" width="3.00" height="10.30" fill="#a838d8"/>
<rect x="82.20" y="243.00" width="3.00" height="10.30" fill="#c848f0"/>
<rect x="84.20" y="243.00" width="3.00" height="10.30" fill="#9830c8"/>
<rect x="86.20" y="243.00" width="3.00" height="10.30" fill="#a838d8"/>
<rect x="88.19" y="243.00" width="3.00" height="10.30" fill="#c848f0"/>
<rect x="90.19" y="243.00" width="3.00" height="10.30" fill="#9830c8"/>
<rect x="92.19" y="243.00" width="3.00" height="10.30" fill="#a838d8"/>
<rect x="94.18" y="243.00" width="3.00" height="10.30" fill="#a838d8"/>
<rect x="96.18" y="243.00" width="3.00" height="10.30" fill="#d348e1"/>
<rect x="98.18" y="243.00" width="3.00" height="10.30" fill="#e850f8"/>
<rect x="100.17" y="243.00" width="3.00" height="10.30" fill="#a03acb"/>
<rect x="102.17" y="243.00" width="3.00" height="10.30" fill="#b040e0"/>
<rect x="104.17" y="243.00" width="3.00" height="10.30" fill="#bd6557"/>
<rect x="106.16" y="243.00" width="3.00" height="10.30" fill="#d868f0"/>
<rect x="108.16" y="243.00" width="3.00" height="10.30" fill="#c45eda"/>
<rect x="110.15" y="243.00" width="3.00" height="10.30" fill="#b850e0"/>
<rect x="112.15" y="243.00" width="3.00" height="10.30" fill="#b860e0"/>
<rect x="114.15" y="243.00" width="3.00" height="10.30" fill="#d878f0"/>
<rect x="116.14" y="243.00" width="3.00" height="10.30" fill="#d070f0"/>
<rect x="118.14" y="243.00" width="3.00" height="10.30" fill="#b860e0"/>
<rect x="120.14" y="243.00" width="3.00" height="10.30" fill="#d878f0"/>
<rect x="122.13" y="243.00" width="3.00" height="10.30" fill="#d070f0"/>
<rect x="124.13" y="243.00" width="3.00" height="10.30" fill="#b860e0"/>
<rect x="126.13" y="243.00" width="3.00" height="10.30" fill="#d878f0"/>
<rect x="128.12" y="243.00" width="3.00" height="10.30" fill="#d070f0"/>
<rect x="130.12" y="243.00" width="3.00" height="10.30" fill="#b860e0"/>
<rect x="132.12" y="243.00" width="3.00" height="10.30" fill="#d878f0"/>
<rect x="134.11" y="243.00" width="3.00" height="10.30" fill="#e080f8"/>
<rect x="136.11" y="243.00" width="3.00" height="10.30" fill="#d878f0"/>
<rect x="138.11" y="243.00" width="3.00" height="10.30" fill="#e080f8"/>
<rect x="140.10" y="243.00" width="3.00" height="10.30" fill="#d878f0"/>
<rect x="142.10" y="243.00" width="3.00" height="10.30" fill="#e080f8"/>
<rect x="144.10" y="243.00" width="3.00" height="10.30" fill="#d878f0"/>
<rect x="146.09" y="243.00" width="3.00" height="10.30" fill="#e8c800"/>
<rect x="148.09" y="243.00" width="3.00" height="10.30" fill="#e1da00"/>
<rect x="150.09" y="243.00" width="3.00" height="10.30" fill="#f8f000"/>
<rect x="152.08" y="243.00" width="3.00" height="10.30" fill="#e1c400"/>
<rect x="154.08" y="243.00" width="3.00" height="10.30" fill="#e87800"/>
<rect x="156.08" y="243.00" width="3.00" height="10.30" fill="#d36d00"/>
<rect x="158.07" y="243.00" width="3.00" height="10.30" fill="#d06000"/>
<rect x="160.07" y="243.00" width="3.00" height="10.30" fill="#da7b00"/>
<rect x="162.06" y="243.00" width="3.00" height="10.30" fill="#d87810"/>
<rect x="164.06" y="243.00" width="3.00" height="10.30" fill="#c46d0e"/>
<rect x="166.06" y="243.00" width="3.00" height="10.30" fill="#f09810"/>
<rect x="168.05" y="243.00" width="3.00" height="10.30" fill="#c06800"/>
<rect x="170.05" y="243.00" width="3.00" height="10.30" fill="#e08008"/>
<rect x="172.05" y="243.00" width="3.00" height="10.30" fill="#c06800"/>
<rect x="174.04" y="243.00" width="3.00" height="10.30" fill="#a85800"/>
<rect x="176.04" y="243.00" width="3.00" height="10.30" fill="#e1910e"/>
<rect x="178.04" y="243.00" width="3.00" height="10.30" fill="#c06000"/>
<rect x="180.03" y="243.00" width="3.00" height="10.30" fill="#f08808"/>
<rect x="182.03" y="243.00" width="3.00" height="10.30" fill="#f89010"/>
<rect x="184.03" y="243.00" width="3.00" height="10.30" fill="#f08808"/>
<rect x="186.02" y="243.00" width="3.00" height="10.30" fill="#f89010"/>
<rect x="188.02" y="243.00" width="3.00" height="10.30" fill="#f08808"/>
<rect x="190.02" y="243.00" width="3.00" height="10.30" fill="#f07800"/>
<rect x="192.01" y="243.00" width="3.00" height="10.30" fill="#e18a15"/>
<rect x="194.01" y="243.00" width="3.00" height="10.30" fill="#f89818"/>
<rect x="196.01" y="243.00" width="3.00" height="10.30" fill="#e18a15"/>
<rect x="198.00" y="243.00" width="3.00" height="10.30" fill="#d87000"/>
<rect x="200.00" y="243.00" width="3.00" height="10.30" fill="#e19815"/>
<rect x="202.00" y="243.00" width="3.00" height="10.30" fill="#f8a818"/>
<rect x="203.99" y="243.00" width="3.00" height="10.30" fill="#e08008"/>
<rect x="205.99" y="243.00" width="3.00" height="10.30" fill="#f09010"/>
<rect x="207.99" y="243.00" width="3.00" height="10.30" fill="#e08008"/>
<rect x="209.98" y="243.00" width="3.00" height="10.30" fill="#f09010"/>
<rect x="211.98" y="243.00" width="3.00" height="10.30" fill="#e08008"/>
<rect x="213.97" y="243.00" width="3.00" height="10.30" fill="#f8a010"/>
<rect x="215.97" y="243.00" width="3.00" height="10.30" fill="#da7400"/>
<rect x="217.97" y="243.00" width="3.00" height="10.30" fill="#f08000"/>
<rect x="219.96" y="243.00" width="3.00" height="10.30" fill="#da7400"/>
<rect x="221.96" y="243.00" width="3.00" height="10.30" fill="#f8a818"/>
<rect x="223.96" y="243.00" width="3.00" height="10.30" fill="#d37b07"/>
<rect x="225.95" y="243.00" width="3.00" height="10.30" fill="#e88808"/>
<rect x="227.95" y="243.00" width="3.00" height="10.30" fill="#f09008"/>
<rect x="229.95" y="243.00" width="3.00" height="10.30" fill="#f8a010"/>
<rect x="231.94" y="243.00" width="3.00" height="10.30" fill="#f09008"/>
<rect x="233.94" y="243.00" width="3.00" height="10.30" fill="#f8a010"/>
<rect x="235.94" y="243.00" width="3.00" height="10.30" fill="#da830e"/>
<rect x="237.93" y="243.00" width="3.00" height="10.30" fill="#e83838"/>
<rect x="239.93" y="243.00" width="3.00" height="10.30" fill="#c02828"/>
<rect x="241.93" y="243.00" width="3.00" height="10.30" fill="#e83838"/>
<rect x="243.92" y="243.00" width="3.00" height="10.30" fill="#c02828"/>
<rect x="245.92" y="243.00" width="3.00" height="10.30" fill="#e83838"/>
<rect x="247.92" y="243.00" width="3.00" height="10.30" fill="#e13a41"/>
<rect x="249.91" y="243.00" width="3.00" height="10.30" fill="#f84048"/>
<rect x="251.91" y="243.00" width="3.00" height="10.30" fill="#e13a41"/>
<rect x="253.91" y="243.00" width="3.00" height="10.30" fill="#c83030"/>
<rect x="255.90" y="243.00" width="3.00" height="10.30" fill="#da3a48"/>
<rect x="257.90" y="243.00" width="3.00" height="10.30" fill="#f04050"/>
<rect x="259.89" y="243.00" width="3.00" height="10.30" fill="#da3a48"/>
<rect x="261.89" y="243.00" width="3.00" height="10.30" fill="#e03030"/>
<rect x="263.89" y="243.00" width="3.00" height="10.30" fill="#cb2b2b"/>
<rect x="265.88" y="243.00" width="3.00" height="10.30" fill="#2848d8"/>
<rect x="267.88" y="243.00" width="3.00" height="10.30" fill="#2441c4"/>
<rect x="269.88" y="243.00" width="3.00" height="10.30" fill="#2848d8"/>
<rect x="271.87" y="243.00" width="3.00" height="10.30" fill="#3265da"/>
<rect x="273.87" y="243.00" width="3.00" height="10.30" fill="#2840c8"/>
<rect x="275.87" y="243.00" width="3.00" height="10.30" fill="#243ab6"/>
<rect x="277.86" y="243.00" width="3.00" height="10.30" fill="#2840c8"/>
<rect x="279.86" y="243.00" width="3.00" height="10.30" fill="#1da77b"/>
<rect x="281.86" y="243.00" width="3.00" height="10.30" fill="#20b888"/>
<rect x="283.85" y="243.00" width="3.00" height="10.30" fill="#1da77b"/>
<rect x="285.85" y="243.00" width="3.00" height="10.30" fill="#30d0a0"/>
<rect x="287.85" y="243.00" width="3.00" height="10.30" fill="#15986d"/>
<rect x="289.84" y="243.00" width="3.00" height="10.30" fill="#18a878"/>
<rect x="291.84" y="243.00" width="3.00" height="10.30" fill="#24bd8a"/>
<rect x="293.84" y="243.00" width="3.00" height="10.30" fill="#28d098"/>
<rect x="295.83" y="243.00" width="3.00" height="10.30" fill="#1dd391"/>
<rect x="297.83" y="243.00" width="3.00" height="10.30" fill="#20c870"/>
<rect x="299.83" y="243.00" width="3.00" height="10.30" fill="#1db665"/>
<rect x="301.82" y="243.00" width="3.00" height="10.30" fill="#18a048"/>
<rect x="303.82" y="243.00" width="3.00" height="10.30" fill="#159141"/>
<rect x="305.82" y="243.00" width="3.00" height="10.30" fill="#70c830"/>
<rect x="307.81" y="243.00" width="3.00" height="10.30" fill="#65b62b"/>
<rect x="309.81" y="243.00" width="3.00" height="10.30" fill="#40b840"/>
<rect x="311.81" y="243.00" width="3.00" height="10.30" fill="#6db624"/>
<rect x="313.80" y="243.00" width="3.00" height="10.30" fill="#78c828"/>
<rect x="315.80" y="243.00" width="3.00" height="10.30" fill="#48982b"/>
<rect x="317.79" y="243.00" width="3.00" height="10.30" fill="#50a830"/>
<rect x="319.79" y="243.00" width="3.00" height="10.30" fill="#745e1d"/>
<rect x="321.79" y="243.00" width="3.00" height="10.30" fill="#20f090"/>
<rect x="323.78" y="243.00" width="3.00" height="10.30" fill="#1dda83"/>
<rect x="325.78" y="243.00" width="3.00" height="10.30" fill="#20f090"/>
<rect x="327.78" y="243.00" width="3.00" height="10.30" fill="#2bd348"/>
<rect x="329.77" y="243.00" width="3.00" height="10.30" fill="#30e850"/>
<rect x="331.77" y="243.00" width="3.00" height="10.30" fill="#65d324"/>
<rect x="333.77" y="243.00" width="3.00" height="10.30" fill="#70e828"/>
<rect x="335.76" y="243.00" width="3.00" height="10.30" fill="#2bbd3a"/>
<rect x="337.76" y="243.00" width="3.00" height="10.30" fill="#30d040"/>
<rect x="339.76" y="243.00" width="3.00" height="10.30" fill="#24b648"/>
<rect x="341.75" y="243.00" width="3.00" height="10.30" fill="#28c850"/>
<rect x="343.75" y="243.00" width="3.00" height="10.30" fill="#24b648"/>
<rect x="345.75" y="243.00" width="3.00" height="10.30" fill="#a8f010"/>
<rect x="347.74" y="243.00" width="3.00" height="10.30" fill="#98da0e"/>
<rect x="349.74" y="243.00" width="3.00" height="10.30" fill="#98d818"/>
<rect x="351.74" y="243.00" width="3.00" height="10.30" fill="#8ac415"/>
<rect x="353.73" y="243.00" width="3.00" height="10.30" fill="#a0c010"/>
<rect x="355.73" y="243.00" width="3.00" height="10.30" fill="#91ae0e"/>
<rect x="357.73" y="243.00" width="3.00" height="10.30" fill="#b8f010"/>
<rect x="359.72" y="243.00" width="3.00" height="10.30" fill="#a7da0e"/>
<rect x="361.72" y="243.00" width="3.00" height="10.30" fill="#88c820"/>
<rect x="363.72" y="243.00" width="3.00" height="10.30" fill="#98cb1d"/>
<rect x="365.71" y="243.00" width="3.00" height="10.30" fill="#a8e020"/>
<rect x="367.71" y="243.00" width="3.00" height="10.30" fill="#15a741"/>
<rect x="369.70" y="243.00" width="3.00" height="10.30" fill="#18b848"/>
<rect x="371.70" y="243.00" width="3.00" height="10.30" fill="#1db650"/>
<rect x="373.70" y="243.00" width="3.00" height="10.30" fill="#20c858"/>
<rect x="375.69" y="243.00" width="3.00" height="10.30" fill="#1db650"/>
<rect x="377.69" y="243.00" width="3.00" height="10.30" fill="#38d840"/>
<rect x="379.69" y="243.00" width="3.00" height="10.30" fill="#24d332"/>
<rect x="381.68" y="243.00" width="3.00" height="10.30" fill="#28e838"/>
<rect x="383.68" y="243.00" width="3.00" height="10.30" fill="#24d332"/>
<rect x="385.68" y="243.00" width="3.00" height="10.30" fill="#28e838"/>
<rect x="387.67" y="243.00" width="3.00" height="10.30" fill="#1db650"/>
<rect x="389.67" y="243.00" width="3.00" height="10.30" fill="#20c858"/>
<rect x="391.67" y="243.00" width="3.00" height="10.30" fill="#15c474"/>
<rect x="393.66" y="243.00" width="3.00" height="10.30" fill="#18d880"/>
<rect x="395.66" y="243.00" width="3.00" height="10.30" fill="#2b0eb6"/>
<rect x="397.66" y="243.00" width="3.00" height="10.30" fill="#98d820"/>
<rect x="399.65" y="243.00" width="3.00" height="10.30" fill="#8ac41d"/>
<rect x="401.65" y="243.00" width="3.00" height="10.30" fill="#30f0f0"/>
<rect x="403.65" y="243.00" width="3.00" height="10.30" fill="#2bdada"/>
<rect x="405.64" y="243.00" width="3.00" height="10.30" fill="#18c0d8"/>
<rect x="407.64" y="243.00" width="3.00" height="10.30" fill="#0e98ae"/>
<rect x="409.64" y="243.00" width="3.00" height="10.30" fill="#10a8c0"/>
<rect x="411.63" y="243.00" width="3.00" height="10.30" fill="#0e98ae"/>
<rect x="413.63" y="243.00" width="3.00" height="10.30" fill="#10a8c0"/>
<rect x="415.62" y="243.00" width="3.00" height="10.30" fill="#1dbdcb"/>
<rect x="417.62" y="243.00" width="3.00" height="10.30" fill="#20d0e0"/>
<rect x="419.62" y="243.00" width="3.00" height="10.30" fill="#0ea7c4"/>
<rect x="421.61" y="243.00" width="3.00" height="10.30" fill="#10b8d8"/>
<rect x="423.61" y="243.00" width="3.00" height="10.30" fill="#24cbda"/>
<rect x="425.61" y="243.00" width="3.00" height="10.30" fill="#28e0f0"/>
<rect x="427.60" y="243.00" width="3.00" height="10.30" fill="#15b6cb"/>
<rect x="429.60" y="243.00" width="3.00" height="10.30" fill="#18c8e0"/>
<rect x="431.60" y="243.00" width="3.00" height="10.30" fill="#15b6cb"/>
<rect x="433.59" y="243.00" width="3.00" height="10.30" fill="#48e0e8"/>
<rect x="435.59" y="243.00" width="3.00" height="10.30" fill="#41cbd3"/>
<rect x="437.59" y="243.00" width="3.00" height="10.30" fill="#48e0e8"/>
<rect x="439.58" y="243.00" width="3.00" height="10.30" fill="#28b0c8"/>
<rect x="441.58" y="243.00" width="3.00" height="10.30" fill="#30c0d8"/>
<rect x="443.58" y="243.00" width="3.00" height="10.30" fill="#28b0c8"/>
<rect x="445.57" y="243.00" width="3.00" height="10.30" fill="#40d8e8"/>
<rect x="447.57" y="243.00" width="3.00" height="10.30" fill="#28b8d0"/>
<rect x="449.57" y="243.00" width="3.00" height="10.30" fill="#40d8e8"/>
<rect x="451.56" y="243.00" width="3.00" height="10.30" fill="#28b8d0"/>
<rect x="453.56" y="243.00" width="3.00" height="10.30" fill="#40d8e8"/>
<rect x="455.56" y="243.00" width="3.00" height="10.30" fill="#28b8d0"/>
<rect x="457.55" y="243.00" width="3.00" height="10.30" fill="#78b020"/>
<rect x="459.55" y="243.00" width="3.00" height="10.30" fill="#8ab624"/>
<rect x="461.55" y="243.00" width="3.00" height="10.30" fill="#98c828"/>
<rect x="463.54" y="243.00" width="3.00" height="10.30" fill="#659824"/>
<rect x="465.54" y="243.00" width="3.00" height="10.30" fill="#70a828"/>
<rect x="467.54" y="243.00" width="3.00" height="10.30" fill="#a77b15"/>
<rect x="469.53" y="243.00" width="3.00" height="10.30" fill="#e0d018"/>
<rect x="471.53" y="243.00" width="3.00" height="10.30" fill="#cbbd15"/>
<rect x="473.52" y="243.00" width="3.00" height="10.30" fill="#e0d018"/>
<rect x="475.52" y="243.00" width="3.00" height="10.30" fill="#b69815"/>
<rect x="477.52" y="243.00" width="3.00" height="10.30" fill="#c8a818"/>
<rect x="479.51" y="243.00" width="3.00" height="10.30" fill="#c8a810"/>
<rect x="481.51" y="243.00" width="3.00" height="10.30" fill="#d8b818"/>
<rect x="483.51" y="243.00" width="3.00" height="10.30" fill="#c8a810"/>
<rect x="485.50" y="243.00" width="3.00" height="10.30" fill="#d8b818"/>
<rect x="487.50" y="243.00" width="3.00" height="10.30" fill="#d3b615"/>
<rect x="489.50" y="243.00" width="3.00" height="10.30" fill="#e8c818"/>
<rect x="491.49" y="243.00" width="3.00" height="10.30" fill="#d3b615"/>
<rect x="493.49" y="243.00" width="3.00" height="10.30" fill="#d8a010"/>
<rect x="495.49" y="243.00" width="3.00" height="10.30" fill="#7b5e0e"/>
<rect x="497.48" y="243.00" width="3.00" height="10.30" fill="#40d8c8"/>
<rect x="499.48" y="243.00" width="3.00" height="10.30" fill="#3ac4b6"/>
<rect x="501.48" y="243.00" width="3.00" height="10.30" fill="#40d8c8"/>
<rect x="503.47" y="243.00" width="3.00" height="10.30" fill="#2432da"/>
<rect x="505.47" y="243.00" width="3.00" height="10.30" fill="#2838f0"/>
<rect x="507.47" y="243.00" width="3.00" height="10.30" fill="#2432da"/>
<rect x="509.46" y="243.00" width="3.00" height="10.30" fill="#28a8d8"/>
<rect x="511.46" y="243.00" width="3.00" height="10.30" fill="#1888b0"/>
<rect x="513.46" y="243.00" width="3.00" height="10.30" fill="#106890"/>
<rect x="515.45" y="243.00" width="3.00" height="10.30" fill="#1888b0"/>
<rect x="517.45" y="243.00" width="3.00" height="10.30" fill="#1080b0"/>
<rect x="519.45" y="243.00" width="3.00" height="10.30" fill="#0c6c98"/>
<rect x="521.44" y="243.00" width="3.00" height="10.30" fill="#1080b0"/>
<rect x="523.44" y="243.00" width="3.00" height="10.30" fill="#0c6c98"/>
<rect x="525.43" y="243.00" width="3.00" height="10.30" fill="#1080b0"/>
<rect x="527.43" y="243.00" width="3.00" height="10.30" fill="#1d8abd"/>
<rect x="529.43" y="243.00" width="3.00" height="10.30" fill="#2098d0"/>
<rect x="531.42" y="243.00" width="3.00" height="10.30" fill="#1480b0"/>
<rect x="533.42" y="243.00" width="3.00" height="10.30" fill="#1070a0"/>
<rect x="535.42" y="243.00" width="3.00" height="10.30" fill="#1480b0"/>
<rect x="537.41" y="243.00" width="3.00" height="10.30" fill="#1070a0"/>
<rect x="539.41" y="243.00" width="3.00" height="10.30" fill="#2bd3da"/>
<rect x="541.41" y="243.00" width="3.00" height="10.30" fill="#30e8f0"/>
<rect x="543.40" y="243.00" width="2.00" height="10.30" fill="#1dcb57"/>
<rect x="26.30" y="264.00" width="519.10" height="10.40" fill="#08109a"/>
<rect x="26.57" y="264.00" width="4.86" height="10.40" fill="#08109a"/>
<rect x="30.43" y="264.00" width="2.86" height="10.40" fill="#7fb7f3"/>
<rect x="32.29" y="264.00" width="3.00" height="10.40" fill="#77b3f4"/>
<rect x="34.29" y="264.00" width="3.00" height="10.40" fill="#83b8f3"/>
<rect x="36.28" y="264.00" width="3.00" height="10.40" fill="#74b2f4"/>
<rect x="38.29" y="264.00" width="2.99" height="10.40" fill="#3a8cf7"/>
<rect x="40.28" y="264.00" width="3.00" height="10.40" fill="#398bf6"/>
<rect x="42.27" y="264.00" width="1.30" height="10.40" fill="#3f93f8"/>
<rect x="42.57" y="264.00" width="2.70" height="10.40" fill="#3c90f8"/>
<rect x="44.27" y="264.00" width="3.00" height="10.40" fill="#4194f8"/>
<rect x="46.27" y="264.00" width="3.00" height="10.40" fill="#4698f8"/>
<rect x="48.26" y="264.00" width="3.00" height="10.40" fill="#4295f8"/>
<rect x="50.26" y="264.00" width="3.00" height="10.40" fill="#4597f8"/>
<rect x="52.26" y="264.00" width="3.00" height="10.40" fill="#499af8"/>
<rect x="54.25" y="264.00" width="3.00" height="10.40" fill="#3c90f8"/>
<rect x="56.25" y="264.00" width="3.00" height="10.40" fill="#4698f8"/>
<rect x="58.24" y="264.00" width="3.00" height="10.40" fill="#3e92f8"/>
<rect x="60.24" y="264.00" width="3.00" height="10.40" fill="#4295f8"/>
<rect x="62.24" y="264.00" width="3.00" height="10.40" fill="#51a0f8"/>
<rect x="64.23" y="264.00" width="3.00" height="10.40" fill="#4496f8"/>
<rect x="66.23" y="264.00" width="3.00" height="10.40" fill="#52a1f8"/>
<rect x="68.23" y="264.00" width="1.06" height="10.40" fill="#3c90f8"/>
<rect x="68.29" y="264.00" width="2.94" height="10.40" fill="#80b7f3"/>
<rect x="70.22" y="264.00" width="3.00" height="10.40" fill="#84b8f3"/>
<rect x="72.22" y="264.00" width="2.78" height="10.40" fill="#85b9f2"/>
<rect x="74.00" y="264.00" width="1.22" height="10.40" fill="#4d9ef8"/>
<rect x="74.22" y="264.00" width="3.00" height="10.40" fill="#4e9ef8"/>
<rect x="76.21" y="264.00" width="3.00" height="10.40" fill="#50a0f8"/>
<rect x="78.21" y="264.00" width="3.00" height="10.40" fill="#5aa5f7"/>
<rect x="80.21" y="264.00" width="1.94" height="10.40" fill="#499af8"/>
<rect x="81.14" y="264.00" width="2.06" height="10.40" fill="#3788f5"/>
<rect x="82.20" y="264.00" width="3.00" height="10.40" fill="#398cf7"/>
<rect x="84.20" y="264.00" width="3.00" height="10.40" fill="#3f93f8"/>
<rect x="86.20" y="264.00" width="3.00" height="10.40" fill="#3688f5"/>
<rect x="88.19" y="264.00" width="1.81" height="10.40" fill="#4093f8"/>
<rect x="89.00" y="264.00" width="3.14" height="10.40" fill="#08109a"/>
<rect x="91.14" y="264.00" width="2.04" height="10.40" fill="#3a8df7"/>
<rect x="92.19" y="264.00" width="1.81" height="10.40" fill="#3d91f8"/>
<rect x="93.00" y="264.00" width="2.18" height="10.40" fill="#2e7bf1"/>
<rect x="94.18" y="264.00" width="3.00" height="10.40" fill="#2b77f0"/>
<rect x="96.18" y="264.00" width="3.00" height="10.40" fill="#2f7cf1"/>
<rect x="98.18" y="264.00" width="1.97" height="10.40" fill="#317ff2"/>
<rect x="99.14" y="264.00" width="3.14" height="10.40" fill="#50a0f8"/>
<rect x="101.29" y="264.00" width="1.88" height="10.40" fill="#2b75ef"/>
<rect x="102.17" y="264.00" width="3.00" height="10.40" fill="#3280f3"/>
<rect x="104.17" y="264.00" width="1.69" height="10.40" fill="#2b75ef"/>
<rect x="104.86" y="264.00" width="2.30" height="10.40" fill="#54a2f8"/>
<rect x="106.16" y="264.00" width="3.00" height="10.40" fill="#50a0f8"/>
<rect x="108.16" y="264.00" width="3.00" height="10.40" fill="#4a9bf8"/>
<rect x="110.15" y="264.00" width="3.00" height="10.40" fill="#4c9df8"/>
<rect x="112.15" y="264.00" width="3.00" height="10.40" fill="#5aa5f7"/>
<rect x="114.15" y="264.00" width="3.00" height="10.40" fill="#4e9ef8"/>
<rect x="116.14" y="264.00" width="2.57" height="10.40" fill="#61a8f6"/>
<rect x="117.71" y="264.00" width="2.86" height="10.40" fill="#08109a"/>
<rect x="119.57" y="264.00" width="1.57" height="10.40" fill="#64aaf6"/>
<rect x="120.14" y="264.00" width="3.00" height="10.40" fill="#59a5f7"/>
<rect x="122.13" y="264.00" width="3.00" height="10.40" fill="#61a8f6"/>
<rect x="124.13" y="264.00" width="2.44" height="10.40" fill="#5da6f7"/>
<rect x="125.57" y="264.00" width="4.57" height="10.40" fill="#08109a"/>
<rect x="129.14" y="264.00" width="1.98" height="10.40" fill="#3f92f8"/>
<rect x="130.12" y="264.00" width="3.00" height="10.40" fill="#4597f8"/>
<rect x="132.12" y="264.00" width="3.00" height="10.40" fill="#4799f8"/>
<rect x="134.11" y="264.00" width="3.00" height="10.40" fill="#4a9bf8"/>
<rect x="136.11" y="264.00" width="3.00" height="10.40" fill="#50a0f8"/>
<rect x="138.11" y="264.00" width="2.04" height="10.40" fill="#4a9bf8"/>
<rect x="139.14" y="264.00" width="3.14" height="10.40" fill="#78b4f4"/>
<rect x="141.29" y="264.00" width="1.81" height="10.40" fill="#4e9ef8"/>
<rect x="142.10" y="264.00" width="3.00" height="10.40" fill="#4c9df8"/>
<rect x="144.10" y="264.00" width="3.00" height="10.40" fill="#499bf8"/>
<rect x="146.09" y="264.00" width="3.00" height="10.40" fill="#4a9cf8"/>
<rect x="148.09" y="264.00" width="3.00" height="10.40" fill="#55a3f7"/>
<rect x="150.09" y="264.00" width="3.00" height="10.40" fill="#489af8"/>
<rect x="152.08" y="264.00" width="2.35" height="10.40" fill="#5ba5f7"/>
<rect x="153.43" y="264.00" width="1.65" height="10.40" fill="#79b5f4"/>
<rect x="154.08" y="264.00" width="3.00" height="10.40" fill="#7cb6f3"/>
<rect x="156.08" y="264.00" width="3.00" height="10.40" fill="#79b4f4"/>
<rect x="158.07" y="264.00" width="3.00" height="10.40" fill="#82b8f3"/>
<rect x="160.07" y="264.00" width="1.93" height="10.40" fill="#84b9f2"/>
<rect x="161.00" y="264.00" width="2.06" height="10.40" fill="#8ebcf1"/>
<rect x="162.06" y="264.00" width="3.00" height="10.40" fill="#8abbf2"/>
<rect x="164.06" y="264.00" width="3.00" height="10.40" fill="#98c0f0"/>
<rect x="166.06" y="264.00" width="2.80" height="10.40" fill="#9ac1f0"/>
<rect x="167.86" y="264.00" width="3.14" height="10.40" fill="#3c90f8"/>
<rect x="170.00" y="264.00" width="1.05" height="10.40" fill="#85b9f2"/>
<rect x="170.05" y="264.00" width="3.00" height="10.40" fill="#86b9f2"/>
<rect x="172.05" y="264.00" width="3.00" height="10.40" fill="#81b7f3"/>
<rect x="174.04" y="264.00" width="3.00" height="10.40" fill="#89baf2"/>
<rect x="176.04" y="264.00" width="3.00" height="10.40" fill="#8abbf2"/>
<rect x="178.04" y="264.00" width="1.53" height="10.40" fill="#85b9f2"/>
<rect x="178.57" y="264.00" width="2.46" height="10.40" fill="#6badf5"/>
<rect x="180.03" y="264.00" width="3.00" height="10.40" fill="#63aaf6"/>
<rect x="182.03" y="264.00" width="3.00" height="10.40" fill="#63a9f6"/>
<rect x="184.03" y="264.00" width="3.00" height="10.40" fill="#67acf6"/>
<rect x="186.02" y="264.00" width="3.00" height="10.40" fill="#63aaf6"/>
<rect x="188.02" y="264.00" width="3.00" height="10.40" fill="#59a5f7"/>
<rect x="190.02" y="264.00" width="3.00" height="10.40" fill="#7eb6f3"/>
<rect x="192.01" y="264.00" width="3.00" height="10.40" fill="#65abf6"/>
<rect x="194.01" y="264.00" width="3.00" height="10.40" fill="#55a3f7"/>
<rect x="196.01" y="264.00" width="3.00" height="10.40" fill="#6daef5"/>
<rect x="198.00" y="264.00" width="3.00" height="10.40" fill="#55a2f8"/>
<rect x="200.00" y="264.00" width="3.00" height="10.40" fill="#6baef5"/>
<rect x="202.00" y="264.00" width="3.00" height="10.40" fill="#6aadf5"/>
<rect x="203.99" y="264.00" width="3.00" height="10.40" fill="#7cb6f3"/>
<rect x="205.99" y="264.00" width="3.00" height="10.40" fill="#6daff5"/>
<rect x="207.99" y="264.00" width="3.00" height="10.40" fill="#53a2f8"/>
<rect x="210.00" y="264.00" width="3.14" height="10.40" fill="#2c78f0"/>
<rect x="212.14" y="264.00" width="2.83" height="10.40" fill="#77b3f4"/>
<rect x="213.97" y="264.00" width="3.00" height="10.40" fill="#7bb5f4"/>
<rect x="215.97" y="264.00" width="3.00" height="10.40" fill="#82b8f3"/>
<rect x="217.97" y="264.00" width="3.00" height="10.40" fill="#8abbf2"/>
<rect x="219.96" y="264.00" width="3.00" height="10.40" fill="#81b7f3"/>
<rect x="221.96" y="264.00" width="1.90" height="10.40" fill="#7eb6f3"/>
<rect x="222.86" y="264.00" width="2.10" height="10.40" fill="#50a0f8"/>
<rect x="223.96" y="264.00" width="3.00" height="10.40" fill="#5ca6f7"/>
<rect x="225.95" y="264.00" width="3.00" height="10.40" fill="#6baef5"/>
<rect x="227.95" y="264.00" width="2.05" height="10.40" fill="#5ba6f7"/>
<rect x="229.00" y="264.00" width="1.95" height="10.40" fill="#84b9f2"/>
<rect x="229.95" y="264.00" width="3.00" height="10.40" fill="#81b7f3"/>
<rect x="231.94" y="264.00" width="3.00" height="10.40" fill="#8dbcf1"/>
<rect x="233.94" y="264.00" width="3.00" height="10.40" fill="#8dbcf1"/>
<rect x="235.94" y="264.00" width="2.21" height="10.40" fill="#88baf2"/>
<rect x="237.14" y="264.00" width="1.79" height="10.40" fill="#4497f8"/>
<rect x="237.93" y="264.00" width="3.00" height="10.40" fill="#4295f8"/>
<rect x="239.93" y="264.00" width="3.00" height="10.40" fill="#3e92f8"/>
<rect x="241.93" y="264.00" width="3.00" height="10.40" fill="#4799f8"/>
<rect x="243.92" y="264.00" width="2.22" height="10.40" fill="#4093f8"/>
<rect x="245.14" y="264.00" width="1.78" height="10.40" fill="#86b9f2"/>
<rect x="245.92" y="264.00" width="3.00" height="10.40" fill="#8cbcf1"/>
<rect x="247.92" y="264.00" width="3.00" height="10.40" fill="#88baf2"/>
<rect x="249.91" y="264.00" width="3.00" height="10.40" fill="#7cb6f3"/>
<rect x="251.91" y="264.00" width="3.00" height="10.40" fill="#85b9f2"/>
<rect x="253.91" y="264.00" width="3.00" height="10.40" fill="#77b3f4"/>
<rect x="255.90" y="264.00" width="3.00" height="10.40" fill="#8abbf2"/>
<rect x="257.90" y="264.00" width="3.00" height="10.40" fill="#82b8f3"/>
<rect x="259.89" y="264.00" width="3.00" height="10.40" fill="#8cbcf1"/>
<rect x="261.89" y="264.00" width="3.00" height="10.40" fill="#7eb6f3"/>
<rect x="263.89" y="264.00" width="3.00" height="10.40" fill="#7bb5f4"/>
<rect x="265.88" y="264.00" width="1.69" height="10.40" fill="#83b8f3"/>
<rect x="266.57" y="264.00" width="31.43" height="10.40" fill="#08109a"/>
<rect x="297.00" y="264.00" width="69.00" height="10.40" fill="#08109a"/>
<rect x="365.00" y="264.00" width="69.00" height="10.40" fill="#08109a"/>
<rect x="433.00" y="264.00" width="49.00" height="10.40" fill="#08109a"/>
<rect x="481.00" y="264.00" width="64.40" height="10.40" fill="#08109a"/>
<rect x="26.30" y="274.10" width="519.10" height="10.40" fill="#1040c8"/>
<rect x="26.57" y="274.10" width="4.86" height="10.40" fill="#08109a"/>
<rect x="30.43" y="274.10" width="2.86" height="10.40" fill="#1e5de5"/>
<rect x="32.29" y="274.10" width="3.00" height="10.40" fill="#1f5fe7"/>
<rect x="34.29" y="274.10" width="3.00" height="10.40" fill="#0f3dc4"/>
<rect x="36.28" y="274.10" width="3.00" height="10.40" fill="#1e5be3"/>
<rect x="38.28" y="274.10" width="3.00" height="10.40" fill="#1c58e0"/>
<rect x="40.28" y="274.10" width="3.00" height="10.40" fill="#2061e8"/>
<rect x="42.27" y="274.10" width="3.00" height="10.40" fill="#2162e9"/>
<rect x="44.27" y="274.10" width="3.00" height="10.40" fill="#1c58e0"/>
<rect x="46.27" y="274.10" width="3.00" height="10.40" fill="#1d5ae2"/>
<rect x="48.26" y="274.10" width="3.00" height="10.40" fill="#2061e8"/>
<rect x="50.26" y="274.10" width="3.00" height="10.40" fill="#1142ca"/>
<rect x="52.26" y="274.10" width="3.00" height="10.40" fill="#1e5ce4"/>
<rect x="54.25" y="274.10" width="3.00" height="10.40" fill="#1e5de5"/>
<rect x="56.25" y="274.10" width="3.00" height="10.40" fill="#0c32b5"/>
<rect x="58.24" y="274.10" width="3.00" height="10.40" fill="#1d5ae2"/>
<rect x="60.24" y="274.10" width="3.00" height="10.40" fill="#0f3cc3"/>
<rect x="62.24" y="274.10" width="3.00" height="10.40" fill="#0c33b7"/>
<rect x="64.23" y="274.10" width="3.00" height="10.40" fill="#1e5ce4"/>
<rect x="66.23" y="274.10" width="3.00" height="10.40" fill="#1b56de"/>
<rect x="68.23" y="274.10" width="3.00" height="10.40" fill="#2061e8"/>
<rect x="70.22" y="274.10" width="3.00" height="10.40" fill="#0f3ec6"/>
<rect x="72.22" y="274.10" width="3.00" height="10.40" fill="#0e3bc1"/>
<rect x="74.22" y="274.10" width="3.00" height="10.40" fill="#1e5ce4"/>
<rect x="76.21" y="274.10" width="3.00" height="10.40" fill="#1f5fe7"/>
<rect x="78.21" y="274.10" width="3.00" height="10.40" fill="#1e5ce4"/>
<rect x="80.21" y="274.10" width="3.00" height="10.40" fill="#1c57df"/>
<rect x="82.20" y="274.10" width="3.00" height="10.40" fill="#1b55dd"/>
<rect x="84.20" y="274.10" width="3.00" height="10.40" fill="#0d36ba"/>
<rect x="86.20" y="274.10" width="3.00" height="10.40" fill="#1c57df"/>
<rect x="88.19" y="274.10" width="3.00" height="10.40" fill="#1c58e0"/>
<rect x="90.19" y="274.10" width="3.00" height="10.40" fill="#0b31b4"/>
<rect x="92.19" y="274.10" width="1.81" height="10.40" fill="#0e39bf"/>
<rect x="93.00" y="274.10" width="2.18" height="10.40" fill="#0e3bc1"/>
<rect x="94.18" y="274.10" width="3.00" height="10.40" fill="#266cec"/>
<rect x="96.18" y="274.10" width="3.00" height="10.40" fill="#256aeb"/>
<rect x="98.18" y="274.10" width="3.00" height="10.40" fill="#256aeb"/>
<rect x="100.17" y="274.10" width="3.00" height="10.40" fill="#0c35ba"/>
<rect x="102.17" y="274.10" width="3.00" height="10.40" fill="#266bec"/>
<rect x="104.17" y="274.10" width="1.69" height="10.40" fill="#2365ea"/>
<rect x="104.86" y="274.10" width="2.30" height="10.40" fill="#091ea2"/>
<rect x="106.16" y="274.10" width="3.00" height="10.40" fill="#091ea2"/>
<rect x="108.16" y="274.10" width="3.00" height="10.40" fill="#1244cc"/>
<rect x="110.15" y="274.10" width="3.00" height="10.40" fill="#1448d0"/>
<rect x="112.15" y="274.10" width="3.00" height="10.40" fill="#0921a4"/>
<rect x="114.15" y="274.10" width="3.00" height="10.40" fill="#0f3ec5"/>
<rect x="116.14" y="274.10" width="3.00" height="10.40" fill="#0f3dc4"/>
<rect x="118.14" y="274.10" width="3.00" height="10.40" fill="#091ea2"/>
<rect x="120.14" y="274.10" width="3.00" height="10.40" fill="#0a27a8"/>
<rect x="122.13" y="274.10" width="3.00" height="10.40" fill="#1243cb"/>
<rect x="124.13" y="274.10" width="3.00" height="10.40" fill="#091ea2"/>
<rect x="126.13" y="274.10" width="3.00" height="10.40" fill="#1549d1"/>
<rect x="128.12" y="274.10" width="3.00" height="10.40" fill="#154ad2"/>
<rect x="130.12" y="274.10" width="2.88" height="10.40" fill="#103fc6"/>
<rect x="132.00" y="274.10" width="3.86" height="10.40" fill="#2c78f0"/>
<rect x="134.86" y="274.10" width="2.25" height="10.40" fill="#1850d8"/>
<rect x="136.11" y="274.10" width="3.00" height="10.40" fill="#174fd7"/>
<rect x="138.11" y="274.10" width="3.00" height="10.40" fill="#0b30b3"/>
<rect x="140.10" y="274.10" width="3.00" height="10.40" fill="#164cd4"/>
<rect x="142.10" y="274.10" width="3.00" height="10.40" fill="#1c59e1"/>
<rect x="144.10" y="274.10" width="3.00" height="10.40" fill="#0c32b5"/>
<rect x="146.09" y="274.10" width="1.19" height="10.40" fill="#1951d9"/>
<rect x="146.29" y="274.10" width="3.14" height="10.40" fill="#3c90f8"/>
<rect x="148.43" y="274.10" width="2.66" height="10.40" fill="#1e5be3"/>
<rect x="150.09" y="274.10" width="3.00" height="10.40" fill="#1e5ce4"/>
<rect x="152.08" y="274.10" width="3.00" height="10.40" fill="#1f5de5"/>
<rect x="154.08" y="274.10" width="3.00" height="10.40" fill="#276eed"/>
<rect x="156.08" y="274.10" width="3.00" height="10.40" fill="#2061e8"/>
<rect x="158.07" y="274.10" width="3.00" height="10.40" fill="#1e5be3"/>
<rect x="160.07" y="274.10" width="1.93" height="10.40" fill="#205fe7"/>
<rect x="161.00" y="274.10" width="2.06" height="10.40" fill="#2e7bf1"/>
<rect x="162.06" y="274.10" width="3.00" height="10.40" fill="#2b76ef"/>
<rect x="164.06" y="274.10" width="3.00" height="10.40" fill="#2c78f0"/>
<rect x="166.06" y="274.10" width="2.09" height="10.40" fill="#2b75ef"/>
<rect x="167.14" y="274.10" width="3.14" height="10.40" fill="#0c34b8"/>
<rect x="169.29" y="274.10" width="1.77" height="10.40" fill="#0e3abf"/>
<rect x="170.05" y="274.10" width="3.00" height="10.40" fill="#1f5de5"/>
<rect x="172.05" y="274.10" width="3.00" height="10.40" fill="#0b2fb2"/>
<rect x="174.04" y="274.10" width="3.00" height="10.40" fill="#1e5de5"/>
<rect x="176.04" y="274.10" width="3.00" height="10.40" fill="#256aeb"/>
<rect x="178.04" y="274.10" width="3.00" height="10.40" fill="#2367ea"/>
<rect x="180.03" y="274.10" width="3.00" height="10.40" fill="#2060e8"/>
<rect x="182.03" y="274.10" width="3.00" height="10.40" fill="#2163e9"/>
<rect x="184.03" y="274.10" width="3.00" height="10.40" fill="#0c34b7"/>
<rect x="186.02" y="274.10" width="3.00" height="10.40" fill="#1e5de5"/>
<rect x="188.02" y="274.10" width="3.00" height="10.40" fill="#0f3dc4"/>
<rect x="190.02" y="274.10" width="3.00" height="10.40" fill="#1f5ee6"/>
<rect x="192.01" y="274.10" width="3.00" height="10.40" fill="#0f3cc3"/>
<rect x="194.01" y="274.10" width="3.00" height="10.40" fill="#1d5ae2"/>
<rect x="196.01" y="274.10" width="3.00" height="10.40" fill="#2060e8"/>
<rect x="198.00" y="274.10" width="3.00" height="10.40" fill="#0d38be"/>
<rect x="200.00" y="274.10" width="3.00" height="10.40" fill="#266dec"/>
<rect x="202.00" y="274.10" width="1.86" height="10.40" fill="#0b31b4"/>
<rect x="202.86" y="274.10" width="3.86" height="10.40" fill="#2c78f0"/>
<rect x="205.71" y="274.10" width="1.27" height="10.40" fill="#2365ea"/>
<rect x="205.99" y="274.10" width="3.00" height="10.40" fill="#1e5de5"/>
<rect x="207.99" y="274.10" width="3.00" height="10.40" fill="#0d38bd"/>
<rect x="209.98" y="274.10" width="3.00" height="10.40" fill="#1549d1"/>
<rect x="211.98" y="274.10" width="3.00" height="10.40" fill="#2163e9"/>
<rect x="213.97" y="274.10" width="3.00" height="10.40" fill="#0e3bc1"/>
<rect x="215.97" y="274.10" width="3.00" height="10.40" fill="#2366ea"/>
<rect x="217.97" y="274.10" width="3.00" height="10.40" fill="#2366ea"/>
<rect x="219.96" y="274.10" width="3.00" height="10.40" fill="#266cec"/>
<rect x="221.96" y="274.10" width="3.00" height="10.40" fill="#0f3cc2"/>
<rect x="223.96" y="274.10" width="1.33" height="10.40" fill="#1e5de5"/>
<rect x="224.29" y="274.10" width="3.86" height="10.40" fill="#0a28a8"/>
<rect x="227.14" y="274.10" width="2.86" height="10.40" fill="#1850d8"/>
<rect x="229.00" y="274.10" width="1.95" height="10.40" fill="#0a29a9"/>
<rect x="229.95" y="274.10" width="3.00" height="10.40" fill="#0a25a6"/>
<rect x="231.94" y="274.10" width="3.00" height="10.40" fill="#0a2aab"/>
<rect x="233.94" y="274.10" width="1.49" height="10.40" fill="#0a2aab"/>
<rect x="234.43" y="274.10" width="3.71" height="10.40" fill="#1850d8"/>
<rect x="237.14" y="274.10" width="4.00" height="10.40" fill="#0c34b8"/>
<rect x="240.14" y="274.10" width="2.43" height="10.40" fill="#2060e8"/>
<rect x="241.57" y="274.10" width="6.00" height="10.40" fill="#0c34b8"/>
<rect x="246.57" y="274.10" width="2.34" height="10.40" fill="#2f7df2"/>
<rect x="247.92" y="274.10" width="3.00" height="10.40" fill="#2971ee"/>
<rect x="249.91" y="274.10" width="1.94" height="10.40" fill="#2d7af1"/>
<rect x="250.86" y="274.10" width="2.05" height="10.40" fill="#2467ea"/>
<rect x="251.91" y="274.10" width="3.00" height="10.40" fill="#205fe7"/>
<rect x="253.91" y="274.10" width="3.00" height="10.40" fill="#1d5ae2"/>
<rect x="255.90" y="274.10" width="3.00" height="10.40" fill="#2263e9"/>
<rect x="257.90" y="274.10" width="1.82" height="10.40" fill="#1f5ee6"/>
<rect x="258.71" y="274.10" width="2.18" height="10.40" fill="#1850d8"/>
<rect x="259.89" y="274.10" width="3.00" height="10.40" fill="#1a55dd"/>
<rect x="261.89" y="274.10" width="1.39" height="10.40" fill="#1851d9"/>
<rect x="262.29" y="274.10" width="3.86" height="10.40" fill="#0a28a8"/>
<rect x="265.14" y="274.10" width="4.57" height="10.40" fill="#3c90f8"/>
<rect x="268.71" y="274.10" width="2.16" height="10.40" fill="#0a29a9"/>
<rect x="269.88" y="274.10" width="3.00" height="10.40" fill="#0a24a5"/>
<rect x="271.87" y="274.10" width="3.00" height="10.40" fill="#0a25a6"/>
<rect x="273.87" y="274.10" width="2.27" height="10.40" fill="#0a26a7"/>
<rect x="275.14" y="274.10" width="3.14" height="10.40" fill="#3c90f8"/>
<rect x="277.29" y="274.10" width="2.86" height="10.40" fill="#0a28a8"/>
<rect x="279.14" y="274.10" width="3.00" height="10.40" fill="#2c78f0"/>
<rect x="281.14" y="274.10" width="1.71" height="10.40" fill="#08129b"/>
<rect x="281.86" y="274.10" width="3.00" height="10.40" fill="#09199f"/>
<rect x="283.85" y="274.10" width="3.00" height="10.40" fill="#09199f"/>
<rect x="285.85" y="274.10" width="3.00" height="10.40" fill="#0a25a6"/>
<rect x="287.85" y="274.10" width="3.00" height="10.40" fill="#09199f"/>
<rect x="289.84" y="274.10" width="3.00" height="10.40" fill="#08139c"/>
<rect x="291.84" y="274.10" width="3.00" height="10.40" fill="#0a23a5"/>
<rect x="293.84" y="274.10" width="3.00" height="10.40" fill="#09179e"/>
<rect x="295.83" y="274.10" width="2.17" height="10.40" fill="#08169d"/>
<rect x="297.00" y="274.10" width="2.86" height="10.40" fill="#08109a"/>
<rect x="298.86" y="274.10" width="1.97" height="10.40" fill="#2b76ef"/>
<rect x="299.83" y="274.10" width="3.00" height="10.40" fill="#2a74ef"/>
<rect x="301.82" y="274.10" width="2.32" height="10.40" fill="#2b76ef"/>
<rect x="303.14" y="274.10" width="1.68" height="10.40" fill="#276fed"/>
<rect x="303.82" y="274.10" width="3.00" height="10.40" fill="#2467ea"/>
<rect x="305.82" y="274.10" width="3.00" height="10.40" fill="#2971ee"/>
<rect x="307.81" y="274.10" width="3.00" height="10.40" fill="#2264e9"/>
<rect x="309.81" y="274.10" width="3.00" height="10.40" fill="#2972ee"/>
<rect x="311.81" y="274.10" width="3.00" height="10.40" fill="#2365ea"/>
<rect x="313.80" y="274.10" width="3.00" height="10.40" fill="#276eed"/>
<rect x="315.80" y="274.10" width="2.63" height="10.40" fill="#256aeb"/>
<rect x="317.43" y="274.10" width="3.14" height="10.40" fill="#3c90f8"/>
<rect x="319.57" y="274.10" width="1.22" height="10.40" fill="#2b75ef"/>
<rect x="319.79" y="274.10" width="3.00" height="10.40" fill="#2d7af1"/>
<rect x="321.79" y="274.10" width="3.00" height="10.40" fill="#2972ee"/>
<rect x="323.78" y="274.10" width="3.00" height="10.40" fill="#307ff2"/>
<rect x="325.78" y="274.10" width="3.00" height="10.40" fill="#2f7df2"/>
<rect x="327.78" y="274.10" width="3.00" height="10.40" fill="#2a73ee"/>
<rect x="329.77" y="274.10" width="3.00" height="10.40" fill="#307ef2"/>
<rect x="331.77" y="274.10" width="3.00" height="10.40" fill="#2f7cf1"/>
<rect x="333.77" y="274.10" width="3.00" height="10.40" fill="#2d79f0"/>
<rect x="335.76" y="274.10" width="3.00" height="10.40" fill="#2f7cf1"/>
<rect x="337.76" y="274.10" width="3.00" height="10.40" fill="#2e7bf1"/>
<rect x="339.76" y="274.10" width="3.00" height="10.40" fill="#2c78f0"/>
<rect x="341.75" y="274.10" width="3.00" height="10.40" fill="#2a75ef"/>
<rect x="343.75" y="274.10" width="1.11" height="10.40" fill="#2d7af1"/>
<rect x="343.86" y="274.10" width="3.14" height="10.40" fill="#0a28a8"/>
<rect x="346.00" y="274.10" width="2.74" height="10.40" fill="#2569eb"/>
<rect x="347.74" y="274.10" width="3.00" height="10.40" fill="#2a73ee"/>
<rect x="349.74" y="274.10" width="3.00" height="10.40" fill="#2971ee"/>
<rect x="351.74" y="274.10" width="2.41" height="10.40" fill="#276fed"/>
<rect x="353.14" y="274.10" width="3.14" height="10.40" fill="#1040c8"/>
<rect x="355.29" y="274.10" width="1.44" height="10.40" fill="#2c77f0"/>
<rect x="355.73" y="274.10" width="3.00" height="10.40" fill="#2d7af1"/>
<rect x="357.73" y="274.10" width="2.85" height="10.40" fill="#2c78f0"/>
<rect x="359.57" y="274.10" width="1.15" height="10.40" fill="#2366ea"/>
<rect x="359.72" y="274.10" width="3.00" height="10.40" fill="#2264e9"/>
<rect x="361.72" y="274.10" width="3.00" height="10.40" fill="#2061e8"/>
<rect x="363.72" y="274.10" width="2.28" height="10.40" fill="#2265ea"/>
<rect x="365.00" y="274.10" width="1.71" height="10.40" fill="#2971ee"/>
<rect x="365.71" y="274.10" width="3.00" height="10.40" fill="#2e7bf1"/>
<rect x="367.71" y="274.10" width="3.00" height="10.40" fill="#2f7cf1"/>
<rect x="369.70" y="274.10" width="3.00" height="10.40" fill="#2e7bf1"/>
<rect x="371.70" y="274.10" width="3.00" height="10.40" fill="#307ff2"/>
<rect x="373.70" y="274.10" width="3.00" height="10.40" fill="#2d7af1"/>
<rect x="375.69" y="274.10" width="2.16" height="10.40" fill="#2972ee"/>
<rect x="376.86" y="274.10" width="2.43" height="10.40" fill="#1850d8"/>
<rect x="378.29" y="274.10" width="2.40" height="10.40" fill="#2971ee"/>
<rect x="379.69" y="274.10" width="3.00" height="10.40" fill="#2d7af1"/>
<rect x="381.68" y="274.10" width="3.00" height="10.40" fill="#307ff2"/>
<rect x="383.68" y="274.10" width="3.00" height="10.40" fill="#2b76ef"/>
<rect x="385.68" y="274.10" width="3.00" height="10.40" fill="#2c77f0"/>
<rect x="387.67" y="274.10" width="3.00" height="10.40" fill="#2972ee"/>
<rect x="389.67" y="274.10" width="3.00" height="10.40" fill="#2971ee"/>
<rect x="391.67" y="274.10" width="3.00" height="10.40" fill="#2c78f0"/>
<rect x="393.66" y="274.10" width="3.00" height="10.40" fill="#2a74ef"/>
<rect x="395.66" y="274.10" width="1.48" height="10.40" fill="#2a75ef"/>
<rect x="396.14" y="274.10" width="2.51" height="10.40" fill="#2060e8"/>
<rect x="397.66" y="274.10" width="3.00" height="10.40" fill="#1f5de5"/>
<rect x="399.65" y="274.10" width="2.49" height="10.40" fill="#2264e9"/>
<rect x="401.14" y="274.10" width="1.51" height="10.40" fill="#307ef2"/>
<rect x="401.65" y="274.10" width="3.00" height="10.40" fill="#2972ee"/>
<rect x="403.65" y="274.10" width="3.00" height="10.40" fill="#2c78f0"/>
<rect x="405.64" y="274.10" width="3.00" height="10.40" fill="#2e7cf1"/>
<rect x="407.64" y="274.10" width="3.00" height="10.40" fill="#2c78f0"/>
<rect x="409.64" y="274.10" width="3.00" height="10.40" fill="#2f7cf1"/>
<rect x="411.63" y="274.10" width="3.00" height="10.40" fill="#2f7df2"/>
<rect x="413.63" y="274.10" width="3.00" height="10.40" fill="#2a74ef"/>
<rect x="415.62" y="274.10" width="2.95" height="10.40" fill="#2e7cf1"/>
<rect x="417.57" y="274.10" width="2.43" height="10.40" fill="#1850d8"/>
<rect x="419.00" y="274.10" width="1.62" height="10.40" fill="#2a74ef"/>
<rect x="419.62" y="274.10" width="3.00" height="10.40" fill="#2d7af1"/>
<rect x="421.61" y="274.10" width="3.00" height="10.40" fill="#2c77f0"/>
<rect x="423.61" y="274.10" width="3.00" height="10.40" fill="#2f7df2"/>
<rect x="425.61" y="274.10" width="3.00" height="10.40" fill="#2972ee"/>
<rect x="427.60" y="274.10" width="3.00" height="10.40" fill="#307ef2"/>
<rect x="429.60" y="274.10" width="3.00" height="10.40" fill="#2a75ef"/>
<rect x="431.60" y="274.10" width="2.40" height="10.40" fill="#2971ee"/>
<rect x="433.00" y="274.10" width="1.59" height="10.40" fill="#2b76ef"/>
<rect x="433.59" y="274.10" width="3.00" height="10.40" fill="#276dec"/>
<rect x="435.59" y="274.10" width="3.00" height="10.40" fill="#2b75ef"/>
<rect x="437.59" y="274.10" width="3.00" height="10.40" fill="#2870ed"/>
<rect x="439.58" y="274.10" width="3.00" height="10.40" fill="#2b76ef"/>
<rect x="441.58" y="274.10" width="3.00" height="10.40" fill="#2b77f0"/>
<rect x="443.58" y="274.10" width="3.00" height="10.40" fill="#2b76ef"/>
<rect x="445.57" y="274.10" width="1.71" height="10.40" fill="#266cec"/>
<rect x="446.29" y="274.10" width="2.43" height="10.40" fill="#1850d8"/>
<rect x="447.71" y="274.10" width="2.85" height="10.40" fill="#317ff2"/>
<rect x="449.57" y="274.10" width="3.00" height="10.40" fill="#317ff2"/>
<rect x="451.56" y="274.10" width="3.00" height="10.40" fill="#3586f5"/>
<rect x="453.56" y="274.10" width="3.00" height="10.40" fill="#2d79f0"/>
<rect x="455.56" y="274.10" width="1.73" height="10.40" fill="#2e7bf1"/>
<rect x="456.29" y="274.10" width="3.86" height="10.40" fill="#3c90f8"/>
<rect x="459.14" y="274.10" width="1.41" height="10.40" fill="#317ff2"/>
<rect x="459.55" y="274.10" width="3.00" height="10.40" fill="#3382f3"/>
<rect x="461.55" y="274.10" width="3.00" height="10.40" fill="#2f7cf1"/>
<rect x="463.54" y="274.10" width="3.00" height="10.40" fill="#307ff2"/>
<rect x="465.54" y="274.10" width="1.75" height="10.40" fill="#3383f4"/>
<rect x="466.29" y="274.10" width="2.25" height="10.40" fill="#3e92f8"/>
<rect x="467.54" y="274.10" width="3.00" height="10.40" fill="#398cf7"/>
<rect x="469.53" y="274.10" width="3.00" height="10.40" fill="#3788f5"/>
<rect x="471.53" y="274.10" width="3.00" height="10.40" fill="#3585f4"/>
<rect x="473.52" y="274.10" width="2.33" height="10.40" fill="#398bf6"/>
<rect x="474.86" y="274.10" width="1.66" height="10.40" fill="#2e7bf1"/>
<rect x="475.52" y="274.10" width="3.00" height="10.40" fill="#2c77f0"/>
<rect x="477.52" y="274.10" width="3.00" height="10.40" fill="#317ff2"/>
<rect x="479.51" y="274.10" width="2.49" height="10.40" fill="#3789f6"/>
<rect x="481.00" y="274.10" width="1.51" height="10.40" fill="#317ff2"/>
<rect x="481.51" y="274.10" width="3.00" height="10.40" fill="#2b76ef"/>
<rect x="483.51" y="274.10" width="3.00" height="10.40" fill="#307ef2"/>
<rect x="485.50" y="274.10" width="3.00" height="10.40" fill="#307ef2"/>
<rect x="487.50" y="274.10" width="3.00" height="10.40" fill="#2972ee"/>
<rect x="489.50" y="274.10" width="3.00" height="10.40" fill="#2972ee"/>
<rect x="491.49" y="274.10" width="3.00" height="10.40" fill="#2e7cf1"/>
<rect x="493.49" y="274.10" width="3.00" height="10.40" fill="#2a75ef"/>
<rect x="495.49" y="274.10" width="3.00" height="10.40" fill="#2b76ef"/>
<rect x="497.48" y="274.10" width="3.00" height="10.40" fill="#2d79f0"/>
<rect x="499.48" y="274.10" width="3.00" height="10.40" fill="#2d7af1"/>
<rect x="501.48" y="274.10" width="3.00" height="10.40" fill="#2a75ef"/>
<rect x="503.47" y="274.10" width="3.00" height="10.40" fill="#2972ee"/>
<rect x="505.47" y="274.10" width="3.00" height="10.40" fill="#2b76ef"/>
<rect x="507.47" y="274.10" width="3.00" height="10.40" fill="#2c78f0"/>
<rect x="509.46" y="274.10" width="3.00" height="10.40" fill="#307df2"/>
<rect x="511.46" y="274.10" width="3.00" height="10.40" fill="#2b76ef"/>
<rect x="513.46" y="274.10" width="3.00" height="10.40" fill="#2a73ee"/>
<rect x="515.45" y="274.10" width="3.00" height="10.40" fill="#307ef2"/>
<rect x="517.45" y="274.10" width="3.00" height="10.40" fill="#2e7bf1"/>
<rect x="519.45" y="274.10" width="3.00" height="10.40" fill="#2b77f0"/>
<rect x="521.44" y="274.10" width="3.00" height="10.40" fill="#2e7bf1"/>
<rect x="523.44" y="274.10" width="3.00" height="10.40" fill="#2b77f0"/>
<rect x="525.43" y="274.10" width="1.28" height="10.40" fill="#2b76ef"/>
<rect x="525.71" y="274.10" width="3.14" height="10.40" fill="#0a28a8"/>
<rect x="527.86" y="274.10" width="2.57" height="10.40" fill="#2973ee"/>
<rect x="529.43" y="274.10" width="3.00" height="10.40" fill="#2b76ef"/>
<rect x="531.42" y="274.10" width="3.00" height="10.40" fill="#2b75ef"/>
<rect x="533.42" y="274.10" width="3.00" height="10.40" fill="#2b76ef"/>
<rect x="535.42" y="274.10" width="3.00" height="10.40" fill="#2b77f0"/>
<rect x="537.41" y="274.10" width="3.00" height="10.40" fill="#307ef2"/>
<rect x="539.41" y="274.10" width="3.00" height="10.40" fill="#2a74ef"/>
<rect x="541.41" y="274.10" width="2.45" height="10.40" fill="#2871ee"/>
<rect x="542.86" y="274.10" width="2.54" height="10.40" fill="#0a28a8"/>
<rect x="26.30" y="284.20" width="519.10" height="10.40" fill="#1040c8"/>
<rect x="26.57" y="284.20" width="2.73" height="10.40" fill="#0921a4"/>
<rect x="28.30" y="284.20" width="3.00" height="10.40" fill="#09179e"/>
<rect x="30.29" y="284.20" width="3.00" height="10.40" fill="#08149c"/>
<rect x="32.29" y="284.20" width="1.28" height="10.40" fill="#091aa0"/>
<rect x="32.57" y="284.20" width="2.71" height="10.40" fill="#1b56de"/>
<rect x="34.29" y="284.20" width="3.00" height="10.40" fill="#1549d1"/>
<rect x="36.28" y="284.20" width="3.00" height="10.40" fill="#1b57df"/>
<rect x="38.29" y="284.20" width="2.99" height="10.40" fill="#0d37bc"/>
<rect x="40.28" y="284.20" width="3.00" height="10.40" fill="#0d38be"/>
<rect x="42.27" y="284.20" width="1.30" height="10.40" fill="#0c31b4"/>
<rect x="42.57" y="284.20" width="2.70" height="10.40" fill="#1447cf"/>
<rect x="44.27" y="284.20" width="3.00" height="10.40" fill="#1a53db"/>
<rect x="46.27" y="284.20" width="3.00" height="10.40" fill="#1953db"/>
<rect x="48.26" y="284.20" width="3.00" height="10.40" fill="#1549d1"/>
<rect x="50.26" y="284.20" width="3.00" height="10.40" fill="#1d59e1"/>
<rect x="52.26" y="284.20" width="1.32" height="10.40" fill="#174fd7"/>
<rect x="52.57" y="284.20" width="3.14" height="10.40" fill="#08109a"/>
<rect x="54.71" y="284.20" width="2.53" height="10.40" fill="#154ad2"/>
<rect x="56.25" y="284.20" width="3.00" height="10.40" fill="#1951d9"/>
<rect x="58.24" y="284.20" width="3.00" height="10.40" fill="#1345cd"/>
<rect x="60.24" y="284.20" width="3.00" height="10.40" fill="#164bd3"/>
<rect x="62.24" y="284.20" width="3.00" height="10.40" fill="#0c31b4"/>
<rect x="64.23" y="284.20" width="3.00" height="10.40" fill="#1a54dc"/>
<rect x="66.23" y="284.20" width="1.63" height="10.40" fill="#0a25a6"/>
<rect x="66.86" y="284.20" width="2.37" height="10.40" fill="#1549d1"/>
<rect x="68.23" y="284.20" width="3.00" height="10.40" fill="#0a2aaa"/>
<rect x="70.22" y="284.20" width="3.00" height="10.40" fill="#091ea2"/>
<rect x="72.22" y="284.20" width="2.78" height="10.40" fill="#164cd4"/>
<rect x="74.00" y="284.20" width="1.22" height="10.40" fill="#154bd3"/>
<rect x="74.22" y="284.20" width="3.00" height="10.40" fill="#1850d8"/>
<rect x="76.21" y="284.20" width="3.00" height="10.40" fill="#1a53db"/>
<rect x="78.21" y="284.20" width="3.00" height="10.40" fill="#1449d1"/>
<rect x="80.21" y="284.20" width="3.00" height="10.40" fill="#1953db"/>
<rect x="82.20" y="284.20" width="3.00" height="10.40" fill="#1448d0"/>
<rect x="84.20" y="284.20" width="3.00" height="10.40" fill="#1850d8"/>
<rect x="86.20" y="284.20" width="3.00" height="10.40" fill="#1b56de"/>
<rect x="88.19" y="284.20" width="2.52" height="10.40" fill="#1851d9"/>
<rect x="89.71" y="284.20" width="1.47" height="10.40" fill="#103fc7"/>
<rect x="90.19" y="284.20" width="3.00" height="10.40" fill="#0f3ec5"/>
<rect x="92.19" y="284.20" width="1.81" height="10.40" fill="#1244cc"/>
<rect x="93.00" y="284.20" width="2.18" height="10.40" fill="#1952da"/>
<rect x="94.18" y="284.20" width="3.00" height="10.40" fill="#0b2bac"/>
<rect x="96.18" y="284.20" width="3.00" height="10.40" fill="#1850d8"/>
<rect x="98.18" y="284.20" width="3.00" height="10.40" fill="#0e3ac0"/>
<rect x="100.17" y="284.20" width="3.00" height="10.40" fill="#1d59e1"/>
<rect x="102.17" y="284.20" width="3.00" height="10.40" fill="#0c35ba"/>
<rect x="104.17" y="284.20" width="3.00" height="10.40" fill="#1c57df"/>
<rect x="106.16" y="284.20" width="1.12" height="10.40" fill="#1a54dc"/>
<rect x="106.29" y="284.20" width="2.87" height="10.40" fill="#1143cb"/>
<rect x="108.16" y="284.20" width="3.00" height="10.40" fill="#1040c8"/>
<rect x="110.15" y="284.20" width="3.00" height="10.40" fill="#1245cd"/>
<rect x="112.15" y="284.20" width="3.00" height="10.40" fill="#1346ce"/>
<rect x="114.15" y="284.20" width="3.00" height="10.40" fill="#0e3bc1"/>
<rect x="116.14" y="284.20" width="3.00" height="10.40" fill="#1346ce"/>
<rect x="118.14" y="284.20" width="2.00" height="10.40" fill="#103fc6"/>
<rect x="119.14" y="284.20" width="1.99" height="10.40" fill="#0a29a9"/>
<rect x="120.14" y="284.20" width="3.00" height="10.40" fill="#0a27a7"/>
<rect x="122.13" y="284.20" width="3.00" height="10.40" fill="#0a25a6"/>
<rect x="124.13" y="284.20" width="3.00" height="10.40" fill="#0a2aab"/>
<rect x="126.13" y="284.20" width="1.16" height="10.40" fill="#0b2bac"/>
<rect x="126.29" y="284.20" width="2.84" height="10.40" fill="#0d36ba"/>
<rect x="128.12" y="284.20" width="3.00" height="10.40" fill="#0e39bf"/>
<rect x="130.12" y="284.20" width="3.00" height="10.40" fill="#0f3dc4"/>
<rect x="132.12" y="284.20" width="3.00" height="10.40" fill="#0f3ec5"/>
<rect x="134.11" y="284.20" width="1.74" height="10.40" fill="#1040c7"/>
<rect x="134.86" y="284.20" width="2.25" height="10.40" fill="#0a27a8"/>
<rect x="136.11" y="284.20" width="3.00" height="10.40" fill="#1c58e0"/>
<rect x="138.11" y="284.20" width="3.00" height="10.40" fill="#1951d9"/>
<rect x="140.10" y="284.20" width="3.00" height="10.40" fill="#0d36bb"/>
<rect x="142.10" y="284.20" width="3.00" height="10.40" fill="#0b2fb1"/>
<rect x="144.10" y="284.20" width="3.00" height="10.40" fill="#1a55dd"/>
<rect x="146.09" y="284.20" width="3.00" height="10.40" fill="#0b2fb1"/>
<rect x="148.09" y="284.20" width="3.00" height="10.40" fill="#0a26a7"/>
<rect x="150.09" y="284.20" width="3.00" height="10.40" fill="#154ad2"/>
<rect x="152.08" y="284.20" width="3.00" height="10.40" fill="#1c59e1"/>
<rect x="154.08" y="284.20" width="3.00" height="10.40" fill="#1952da"/>
<rect x="156.08" y="284.20" width="3.00" height="10.40" fill="#0c34b8"/>
<rect x="158.07" y="284.20" width="3.00" height="10.40" fill="#0d37bc"/>
<rect x="160.07" y="284.20" width="1.93" height="10.40" fill="#0b31b4"/>
<rect x="161.00" y="284.20" width="2.06" height="10.40" fill="#0d38bd"/>
<rect x="162.06" y="284.20" width="3.00" height="10.40" fill="#0c32b6"/>
<rect x="164.06" y="284.20" width="1.22" height="10.40" fill="#0c33b6"/>
<rect x="164.29" y="284.20" width="2.77" height="10.40" fill="#0a2aaa"/>
<rect x="166.06" y="284.20" width="3.00" height="10.40" fill="#0a26a7"/>
<rect x="168.05" y="284.20" width="1.52" height="10.40" fill="#0a28a8"/>
<rect x="168.57" y="284.20" width="2.48" height="10.40" fill="#1041c9"/>
<rect x="170.05" y="284.20" width="3.00" height="10.40" fill="#0e3bc2"/>
<rect x="172.05" y="284.20" width="3.00" height="10.40" fill="#103fc7"/>
<rect x="174.04" y="284.20" width="1.24" height="10.40" fill="#1142ca"/>
<rect x="174.29" y="284.20" width="3.86" height="10.40" fill="#0c34b8"/>
<rect x="177.14" y="284.20" width="1.89" height="10.40" fill="#0b2fb1"/>
<rect x="178.04" y="284.20" width="3.00" height="10.40" fill="#1040c8"/>
<rect x="180.03" y="284.20" width="3.00" height="10.40" fill="#2061e8"/>
<rect x="182.03" y="284.20" width="3.00" height="10.40" fill="#2162e9"/>
<rect x="184.03" y="284.20" width="3.00" height="10.40" fill="#2468eb"/>
<rect x="186.02" y="284.20" width="3.00" height="10.40" fill="#0f3cc2"/>
<rect x="188.02" y="284.20" width="3.00" height="10.40" fill="#0f3ec6"/>
<rect x="190.02" y="284.20" width="3.00" height="10.40" fill="#1e5de5"/>
<rect x="192.01" y="284.20" width="3.00" height="10.40" fill="#1e5de5"/>
<rect x="194.01" y="284.20" width="3.00" height="10.40" fill="#1f5ee6"/>
<rect x="196.01" y="284.20" width="3.00" height="10.40" fill="#1e5be3"/>
<rect x="198.00" y="284.20" width="3.00" height="10.40" fill="#2365ea"/>
<rect x="200.00" y="284.20" width="3.00" height="10.40" fill="#2162e9"/>
<rect x="202.00" y="284.20" width="1.86" height="10.40" fill="#1d5be3"/>
<rect x="202.86" y="284.20" width="2.13" height="10.40" fill="#0a2aab"/>
<rect x="203.99" y="284.20" width="3.00" height="10.40" fill="#0a24a6"/>
<rect x="205.99" y="284.20" width="2.15" height="10.40" fill="#0a23a5"/>
<rect x="207.14" y="284.20" width="1.84" height="10.40" fill="#1141c9"/>
<rect x="207.99" y="284.20" width="3.00" height="10.40" fill="#103fc7"/>
<rect x="209.98" y="284.20" width="3.00" height="10.40" fill="#1143cb"/>
<rect x="211.98" y="284.20" width="1.88" height="10.40" fill="#0f3dc4"/>
<rect x="212.86" y="284.20" width="2.12" height="10.40" fill="#1850d8"/>
<rect x="213.97" y="284.20" width="3.00" height="10.40" fill="#1952da"/>
<rect x="215.97" y="284.20" width="2.17" height="10.40" fill="#174ed6"/>
<rect x="217.14" y="284.20" width="1.82" height="10.40" fill="#0b30b3"/>
<rect x="217.97" y="284.20" width="3.00" height="10.40" fill="#0b30b3"/>
<rect x="219.96" y="284.20" width="3.00" height="10.40" fill="#0b31b4"/>
<rect x="221.96" y="284.20" width="1.90" height="10.40" fill="#0c31b4"/>
<rect x="222.86" y="284.20" width="2.10" height="10.40" fill="#1142ca"/>
<rect x="223.96" y="284.20" width="3.00" height="10.40" fill="#1040c8"/>
<rect x="225.95" y="284.20" width="3.00" height="10.40" fill="#1040c8"/>
<rect x="227.95" y="284.20" width="2.05" height="10.40" fill="#0f3ec6"/>
<rect x="229.00" y="284.20" width="1.95" height="10.40" fill="#08129b"/>
<rect x="229.95" y="284.20" width="3.00" height="10.40" fill="#08139c"/>
<rect x="231.94" y="284.20" width="3.00" height="10.40" fill="#08159d"/>
<rect x="233.94" y="284.20" width="1.49" height="10.40" fill="#08109a"/>
<rect x="234.43" y="284.20" width="3.71" height="10.40" fill="#0c34b8"/>
<rect x="237.14" y="284.20" width="1.79" height="10.40" fill="#091fa3"/>
<rect x="237.93" y="284.20" width="3.00" height="10.40" fill="#091ea2"/>
<rect x="239.93" y="284.20" width="3.00" height="10.40" fill="#091ea2"/>
<rect x="241.93" y="284.20" width="3.00" height="10.40" fill="#0a26a7"/>
<rect x="243.92" y="284.20" width="3.00" height="10.40" fill="#0b2dae"/>
<rect x="245.92" y="284.20" width="1.65" height="10.40" fill="#0a29a9"/>
<rect x="246.57" y="284.20" width="2.34" height="10.40" fill="#2264e9"/>
<rect x="247.92" y="284.20" width="3.00" height="10.40" fill="#1f5fe7"/>
<rect x="249.91" y="284.20" width="2.66" height="10.40" fill="#2264e9"/>
<rect x="251.57" y="284.20" width="1.34" height="10.40" fill="#0f3ec6"/>
<rect x="251.91" y="284.20" width="3.00" height="10.40" fill="#1244cc"/>
<rect x="253.91" y="284.20" width="3.00" height="10.40" fill="#0f3cc3"/>
<rect x="255.90" y="284.20" width="3.00" height="10.40" fill="#1143cb"/>
<rect x="257.90" y="284.20" width="3.00" height="10.40" fill="#0f3dc4"/>
<rect x="259.89" y="284.20" width="3.00" height="10.40" fill="#1041c9"/>
<rect x="261.89" y="284.20" width="3.00" height="10.40" fill="#103fc7"/>
<rect x="263.89" y="284.20" width="3.00" height="10.40" fill="#0f3ec6"/>
<rect x="265.88" y="284.20" width="1.69" height="10.40" fill="#1243cb"/>
<rect x="266.57" y="284.20" width="2.31" height="10.40" fill="#091ca1"/>
<rect x="267.88" y="284.20" width="3.00" height="10.40" fill="#091fa2"/>
<rect x="269.88" y="284.20" width="3.00" height="10.40" fill="#09179e"/>
<rect x="271.87" y="284.20" width="3.00" height="10.40" fill="#091ea2"/>
<rect x="273.87" y="284.20" width="3.00" height="10.40" fill="#091aa0"/>
<rect x="275.87" y="284.20" width="3.00" height="10.40" fill="#091aa0"/>
<rect x="277.86" y="284.20" width="3.00" height="10.40" fill="#091ba1"/>
<rect x="279.86" y="284.20" width="3.00" height="10.40" fill="#0922a4"/>
<rect x="281.86" y="284.20" width="3.00" height="10.40" fill="#08149c"/>
<rect x="283.85" y="284.20" width="3.00" height="10.40" fill="#09169e"/>
<rect x="285.85" y="284.20" width="3.00" height="10.40" fill="#08149c"/>
<rect x="287.85" y="284.20" width="3.00" height="10.40" fill="#091ea2"/>
<rect x="289.84" y="284.20" width="3.00" height="10.40" fill="#09199f"/>
<rect x="291.84" y="284.20" width="3.00" height="10.40" fill="#09199f"/>
<rect x="293.84" y="284.20" width="3.00" height="10.40" fill="#0a25a6"/>
<rect x="295.83" y="284.20" width="2.17" height="10.40" fill="#08139c"/>
<rect x="297.00" y="284.20" width="2.86" height="10.40" fill="#08109a"/>
<rect x="298.86" y="284.20" width="4.57" height="10.40" fill="#2060e8"/>
<rect x="302.43" y="284.20" width="3.14" height="10.40" fill="#0a28a8"/>
<rect x="304.57" y="284.20" width="2.24" height="10.40" fill="#1245cd"/>
<rect x="305.82" y="284.20" width="3.00" height="10.40" fill="#1244cc"/>
<rect x="307.81" y="284.20" width="3.00" height="10.40" fill="#1448d0"/>
<rect x="309.81" y="284.20" width="1.48" height="10.40" fill="#0f3dc4"/>
<rect x="310.29" y="284.20" width="2.43" height="10.40" fill="#0a28a8"/>
<rect x="311.71" y="284.20" width="1.09" height="10.40" fill="#1143cb"/>
<rect x="311.81" y="284.20" width="3.00" height="10.40" fill="#1141c9"/>
<rect x="313.80" y="284.20" width="3.00" height="10.40" fill="#1244cc"/>
<rect x="315.80" y="284.20" width="2.63" height="10.40" fill="#1346ce"/>
<rect x="317.43" y="284.20" width="3.14" height="10.40" fill="#0a28a8"/>
<rect x="319.57" y="284.20" width="1.22" height="10.40" fill="#1e5ce4"/>
<rect x="319.79" y="284.20" width="3.00" height="10.40" fill="#2265ea"/>
<rect x="321.79" y="284.20" width="3.00" height="10.40" fill="#1e5ce4"/>
<rect x="323.78" y="284.20" width="2.79" height="10.40" fill="#2263e9"/>
<rect x="325.57" y="284.20" width="1.21" height="10.40" fill="#2c78f0"/>
<rect x="325.78" y="284.20" width="3.00" height="10.40" fill="#2f7cf1"/>
<rect x="327.78" y="284.20" width="3.00" height="10.40" fill="#2f7cf1"/>
<rect x="329.77" y="284.20" width="3.00" height="10.40" fill="#307ef2"/>
<rect x="331.77" y="284.20" width="2.37" height="10.40" fill="#2f7df2"/>
<rect x="333.14" y="284.20" width="1.62" height="10.40" fill="#1a54dc"/>
<rect x="333.77" y="284.20" width="3.00" height="10.40" fill="#1952da"/>
<rect x="335.76" y="284.20" width="2.67" height="10.40" fill="#1b56de"/>
<rect x="337.43" y="284.20" width="1.33" height="10.40" fill="#091ea2"/>
<rect x="337.76" y="284.20" width="3.00" height="10.40" fill="#1449d1"/>
<rect x="339.76" y="284.20" width="3.00" height="10.40" fill="#164bd3"/>
<rect x="341.75" y="284.20" width="3.00" height="10.40" fill="#0a28a8"/>
<rect x="343.75" y="284.20" width="1.11" height="10.40" fill="#164cd4"/>
<rect x="343.86" y="284.20" width="3.14" height="10.40" fill="#08109a"/>
<rect x="346.00" y="284.20" width="2.74" height="10.40" fill="#1041c9"/>
<rect x="347.74" y="284.20" width="3.00" height="10.40" fill="#0f3dc4"/>
<rect x="349.74" y="284.20" width="3.00" height="10.40" fill="#103fc7"/>
<rect x="351.74" y="284.20" width="2.41" height="10.40" fill="#0f3cc3"/>
<rect x="353.14" y="284.20" width="3.14" height="10.40" fill="#0a28a8"/>
<rect x="355.29" y="284.20" width="1.44" height="10.40" fill="#1141c9"/>
<rect x="355.73" y="284.20" width="3.00" height="10.40" fill="#154ad2"/>
<rect x="357.73" y="284.20" width="3.00" height="10.40" fill="#1243cb"/>
<rect x="359.72" y="284.20" width="3.00" height="10.40" fill="#1347cf"/>
<rect x="361.72" y="284.20" width="3.00" height="10.40" fill="#1850d8"/>
<rect x="363.72" y="284.20" width="2.28" height="10.40" fill="#1850d8"/>
<rect x="365.00" y="284.20" width="1.71" height="10.40" fill="#0d37bc"/>
<rect x="365.71" y="284.20" width="3.00" height="10.40" fill="#0d36bb"/>
<rect x="367.71" y="284.20" width="3.00" height="10.40" fill="#0e3abf"/>
<rect x="369.70" y="284.20" width="3.00" height="10.40" fill="#0f3ec5"/>
<rect x="371.70" y="284.20" width="3.00" height="10.40" fill="#0d37bd"/>
<rect x="373.70" y="284.20" width="3.00" height="10.40" fill="#0e3ac0"/>
<rect x="375.69" y="284.20" width="2.88" height="10.40" fill="#0f3dc4"/>
<rect x="377.57" y="284.20" width="3.14" height="10.40" fill="#2c78f0"/>
<rect x="379.71" y="284.20" width="5.29" height="10.40" fill="#0a28a8"/>
<rect x="384.00" y="284.20" width="2.68" height="10.40" fill="#1142ca"/>
<rect x="385.68" y="284.20" width="3.00" height="10.40" fill="#1143cb"/>
<rect x="387.67" y="284.20" width="1.61" height="10.40" fill="#103fc6"/>
<rect x="388.29" y="284.20" width="5.00" height="10.40" fill="#0a28a8"/>
<rect x="392.29" y="284.20" width="2.38" height="10.40" fill="#0f3ec6"/>
<rect x="393.66" y="284.20" width="3.00" height="10.40" fill="#0f3ec6"/>
<rect x="395.66" y="284.20" width="1.48" height="10.40" fill="#0f3ec6"/>
<rect x="396.14" y="284.20" width="6.00" height="10.40" fill="#0a28a8"/>
<rect x="401.14" y="284.20" width="1.51" height="10.40" fill="#1f5ee6"/>
<rect x="401.65" y="284.20" width="3.00" height="10.40" fill="#2060e8"/>
<rect x="403.65" y="284.20" width="2.78" height="10.40" fill="#1f5ee6"/>
<rect x="405.43" y="284.20" width="1.21" height="10.40" fill="#164dd5"/>
<rect x="405.64" y="284.20" width="3.00" height="10.40" fill="#174dd5"/>
<rect x="407.64" y="284.20" width="3.00" height="10.40" fill="#1b55dd"/>
<rect x="409.64" y="284.20" width="3.00" height="10.40" fill="#164cd4"/>
<rect x="411.63" y="284.20" width="3.00" height="10.40" fill="#154ad2"/>
<rect x="413.63" y="284.20" width="2.80" height="10.40" fill="#164dd5"/>
<rect x="415.43" y="284.20" width="3.14" height="10.40" fill="#0c34b8"/>
<rect x="417.57" y="284.20" width="1.05" height="10.40" fill="#164dd5"/>
<rect x="417.62" y="284.20" width="3.00" height="10.40" fill="#1850d8"/>
<rect x="419.62" y="284.20" width="3.00" height="10.40" fill="#1952da"/>
<rect x="421.61" y="284.20" width="3.00" height="10.40" fill="#154bd3"/>
<rect x="423.61" y="284.20" width="3.00" height="10.40" fill="#1850d8"/>
<rect x="425.61" y="284.20" width="2.25" height="10.40" fill="#154ad2"/>
<rect x="426.86" y="284.20" width="1.75" height="10.40" fill="#0f3cc3"/>
<rect x="427.60" y="284.20" width="3.00" height="10.40" fill="#1244cc"/>
<rect x="429.60" y="284.20" width="3.00" height="10.40" fill="#0f3ec5"/>
<rect x="431.60" y="284.20" width="2.40" height="10.40" fill="#1040c8"/>
<rect x="433.00" y="284.20" width="1.59" height="10.40" fill="#174ed6"/>
<rect x="433.59" y="284.20" width="3.00" height="10.40" fill="#1a55dd"/>
<rect x="435.59" y="284.20" width="3.00" height="10.40" fill="#164dd5"/>
<rect x="437.59" y="284.20" width="3.00" height="10.40" fill="#154ad2"/>
<rect x="439.58" y="284.20" width="3.00" height="10.40" fill="#1951d9"/>
<rect x="441.58" y="284.20" width="3.00" height="10.40" fill="#1a54dc"/>
<rect x="443.58" y="284.20" width="2.28" height="10.40" fill="#164cd4"/>
<rect x="444.86" y="284.20" width="1.72" height="10.40" fill="#0d36bb"/>
<rect x="445.57" y="284.20" width="3.00" height="10.40" fill="#0e3ac0"/>
<rect x="447.57" y="284.20" width="3.00" height="10.40" fill="#0d37bc"/>
<rect x="449.57" y="284.20" width="2.01" height="10.40" fill="#0e3bc1"/>
<rect x="450.57" y="284.20" width="1.99" height="10.40" fill="#0c35ba"/>
<rect x="451.56" y="284.20" width="3.00" height="10.40" fill="#0c35b9"/>
<rect x="453.56" y="284.20" width="2.30" height="10.40" fill="#0c32b5"/>
<rect x="454.86" y="284.20" width="1.70" height="10.40" fill="#2162e9"/>
<rect x="455.56" y="284.20" width="3.00" height="10.40" fill="#2263e9"/>
<rect x="457.55" y="284.20" width="3.00" height="10.40" fill="#1f5fe7"/>
<rect x="459.55" y="284.20" width="1.31" height="10.40" fill="#1e5ce4"/>
<rect x="459.86" y="284.20" width="3.86" height="10.40" fill="#0c34b8"/>
<rect x="462.71" y="284.20" width="4.57" height="10.40" fill="#2060e8"/>
<rect x="466.29" y="284.20" width="2.25" height="10.40" fill="#0d38bd"/>
<rect x="467.54" y="284.20" width="3.00" height="10.40" fill="#0c35b9"/>
<rect x="469.53" y="284.20" width="3.00" height="10.40" fill="#1040c8"/>
<rect x="471.53" y="284.20" width="3.00" height="10.40" fill="#0c34b9"/>
<rect x="473.52" y="284.20" width="3.00" height="10.40" fill="#0f3dc4"/>
<rect x="475.52" y="284.20" width="3.00" height="10.40" fill="#103fc7"/>
<rect x="477.52" y="284.20" width="3.00" height="10.40" fill="#0f3ec5"/>
<rect x="479.51" y="284.20" width="2.06" height="10.40" fill="#0f3ec5"/>
<rect x="480.57" y="284.20" width="1.43" height="10.40" fill="#1347cf"/>
<rect x="481.00" y="284.20" width="1.51" height="10.40" fill="#1448d0"/>
<rect x="481.51" y="284.20" width="3.00" height="10.40" fill="#091ea2"/>
<rect x="483.51" y="284.20" width="3.00" height="10.40" fill="#1549d1"/>
<rect x="485.50" y="284.20" width="3.00" height="10.40" fill="#174ed6"/>
<rect x="487.50" y="284.20" width="3.00" height="10.40" fill="#1244cc"/>
<rect x="489.50" y="284.20" width="3.00" height="10.40" fill="#164cd4"/>
<rect x="491.49" y="284.20" width="3.00" height="10.40" fill="#1346ce"/>
<rect x="493.49" y="284.20" width="3.00" height="10.40" fill="#164cd4"/>
<rect x="495.49" y="284.20" width="2.66" height="10.40" fill="#1142ca"/>
<rect x="497.14" y="284.20" width="1.34" height="10.40" fill="#1244cc"/>
<rect x="497.48" y="284.20" width="3.00" height="10.40" fill="#103fc7"/>
<rect x="499.48" y="284.20" width="3.00" height="10.40" fill="#0f3dc3"/>
<rect x="501.48" y="284.20" width="2.38" height="10.40" fill="#1143cb"/>
<rect x="502.86" y="284.20" width="3.86" height="10.40" fill="#0c34b8"/>
<rect x="505.71" y="284.20" width="2.75" height="10.40" fill="#1953db"/>
<rect x="507.47" y="284.20" width="3.00" height="10.40" fill="#1951d9"/>
<rect x="509.46" y="284.20" width="3.00" height="10.40" fill="#174fd7"/>
<rect x="511.46" y="284.20" width="3.00" height="10.40" fill="#184fd7"/>
<rect x="513.46" y="284.20" width="3.00" height="10.40" fill="#1a54dc"/>
<rect x="515.45" y="284.20" width="1.26" height="10.40" fill="#184fd7"/>
<rect x="515.71" y="284.20" width="2.73" height="10.40" fill="#0f3ec5"/>
<rect x="517.45" y="284.20" width="3.00" height="10.40" fill="#0f3dc4"/>
<rect x="519.45" y="284.20" width="3.00" height="10.40" fill="#0f3dc4"/>
<rect x="521.44" y="284.20" width="1.27" height="10.40" fill="#1041c9"/>
<rect x="521.71" y="284.20" width="2.72" height="10.40" fill="#103fc7"/>
<rect x="523.44" y="284.20" width="3.00" height="10.40" fill="#1143cb"/>
<rect x="525.43" y="284.20" width="2.71" height="10.40" fill="#0f3dc4"/>
<rect x="527.14" y="284.20" width="3.14" height="10.40" fill="#0a28a8"/>
<rect x="529.29" y="284.20" width="1.14" height="10.40" fill="#174dd5"/>
<rect x="529.43" y="284.20" width="3.00" height="10.40" fill="#174ed6"/>
<rect x="531.42" y="284.20" width="3.00" height="10.40" fill="#1952da"/>
<rect x="533.42" y="284.20" width="1.15" height="10.40" fill="#184fd7"/>
<rect x="533.57" y="284.20" width="3.14" height="10.40" fill="#0a28a8"/>
<rect x="535.71" y="284.20" width="2.70" height="10.40" fill="#1851d9"/>
<rect x="537.41" y="284.20" width="3.00" height="10.40" fill="#1a54dc"/>
<rect x="539.41" y="284.20" width="3.00" height="10.40" fill="#1952da"/>
<rect x="541.43" y="284.20" width="3.97" height="10.40" fill="#08109a"/>
<rect x="26.30" y="294.30" width="519.10" height="10.10" fill="#1040c8"/>
<rect x="26.57" y="294.30" width="4.86" height="10.10" fill="#08109a"/>
<rect x="30.43" y="294.30" width="2.86" height="10.10" fill="#1e5ce4"/>
<rect x="32.29" y="294.30" width="3.00" height="10.10" fill="#1f5ee6"/>
<rect x="34.29" y="294.30" width="3.00" height="10.10" fill="#1e5ce4"/>
<rect x="36.28" y="294.30" width="2.29" height="10.10" fill="#1e5ce4"/>
<rect x="37.57" y="294.30" width="1.71" height="10.10" fill="#0b2eb0"/>
<rect x="38.28" y="294.30" width="3.00" height="10.10" fill="#0c32b6"/>
<rect x="40.28" y="294.30" width="3.00" height="10.10" fill="#0d38bd"/>
<rect x="42.27" y="294.30" width="1.30" height="10.10" fill="#0d38be"/>
<rect x="42.57" y="294.30" width="2.70" height="10.10" fill="#2a73ee"/>
<rect x="44.27" y="294.30" width="3.00" height="10.10" fill="#2467ea"/>
<rect x="46.27" y="294.30" width="3.00" height="10.10" fill="#2a74ef"/>
<rect x="48.26" y="294.30" width="3.00" height="10.10" fill="#2161e8"/>
<rect x="50.26" y="294.30" width="3.00" height="10.10" fill="#2b76ef"/>
<rect x="52.26" y="294.30" width="1.32" height="10.10" fill="#2468eb"/>
<rect x="52.57" y="294.30" width="3.14" height="10.10" fill="#0a28a8"/>
<rect x="54.71" y="294.30" width="2.53" height="10.10" fill="#2d7af1"/>
<rect x="56.25" y="294.30" width="3.00" height="10.10" fill="#2e7bf1"/>
<rect x="58.24" y="294.30" width="3.00" height="10.10" fill="#2870ed"/>
<rect x="60.24" y="294.30" width="3.00" height="10.10" fill="#2f7cf1"/>
<rect x="62.24" y="294.30" width="2.76" height="10.10" fill="#2e7cf1"/>
<rect x="64.00" y="294.30" width="1.23" height="10.10" fill="#2569eb"/>
<rect x="64.23" y="294.30" width="3.00" height="10.10" fill="#2263e9"/>
<rect x="66.23" y="294.30" width="3.00" height="10.10" fill="#2469eb"/>
<rect x="68.23" y="294.30" width="3.00" height="10.10" fill="#2163e9"/>
<rect x="70.22" y="294.30" width="3.00" height="10.10" fill="#2163e9"/>
<rect x="72.22" y="294.30" width="1.35" height="10.10" fill="#1e5be3"/>
<rect x="72.57" y="294.30" width="3.14" height="10.10" fill="#0a28a8"/>
<rect x="74.71" y="294.30" width="3.14" height="10.10" fill="#2c78f0"/>
<rect x="76.86" y="294.30" width="3.14" height="10.10" fill="#0a28a8"/>
<rect x="79.00" y="294.30" width="3.14" height="10.10" fill="#2c78f0"/>
<rect x="81.14" y="294.30" width="2.06" height="10.10" fill="#2c77f0"/>
<rect x="82.20" y="294.30" width="3.00" height="10.10" fill="#2d7af1"/>
<rect x="84.20" y="294.30" width="3.00" height="10.10" fill="#276dec"/>
<rect x="86.20" y="294.30" width="3.00" height="10.10" fill="#3383f4"/>
<rect x="88.19" y="294.30" width="3.00" height="10.10" fill="#2870ed"/>
<rect x="90.19" y="294.30" width="3.00" height="10.10" fill="#2a75ef"/>
<rect x="92.19" y="294.30" width="1.81" height="10.10" fill="#2870ed"/>
<rect x="93.00" y="294.30" width="2.18" height="10.10" fill="#2b75ef"/>
<rect x="94.18" y="294.30" width="3.00" height="10.10" fill="#2972ee"/>
<rect x="96.18" y="294.30" width="1.11" height="10.10" fill="#2366ea"/>
<rect x="96.29" y="294.30" width="3.14" height="10.10" fill="#0c34b8"/>
<rect x="98.43" y="294.30" width="2.74" height="10.10" fill="#2a73ee"/>
<rect x="100.17" y="294.30" width="3.00" height="10.10" fill="#2973ee"/>
<rect x="102.17" y="294.30" width="3.00" height="10.10" fill="#286fed"/>
<rect x="104.17" y="294.30" width="2.41" height="10.10" fill="#286fed"/>
<rect x="105.57" y="294.30" width="1.59" height="10.10" fill="#103fc6"/>
<rect x="106.16" y="294.30" width="3.00" height="10.10" fill="#103fc7"/>
<rect x="108.16" y="294.30" width="1.98" height="10.10" fill="#1040c8"/>
<rect x="109.14" y="294.30" width="3.14" height="10.10" fill="#3c90f8"/>
<rect x="111.29" y="294.30" width="1.87" height="10.10" fill="#0c32b6"/>
<rect x="112.15" y="294.30" width="3.00" height="10.10" fill="#0c31b4"/>
<rect x="114.15" y="294.30" width="3.00" height="10.10" fill="#0b30b2"/>
<rect x="116.14" y="294.30" width="3.00" height="10.10" fill="#0b2cad"/>
<rect x="118.14" y="294.30" width="3.00" height="10.10" fill="#0a2bac"/>
<rect x="120.14" y="294.30" width="1.43" height="10.10" fill="#0b2dae"/>
<rect x="120.57" y="294.30" width="2.56" height="10.10" fill="#2469eb"/>
<rect x="122.13" y="294.30" width="3.00" height="10.10" fill="#266cec"/>
<rect x="124.13" y="294.30" width="3.00" height="10.10" fill="#2264e9"/>
<rect x="126.13" y="294.30" width="3.00" height="10.10" fill="#2060e8"/>
<rect x="128.12" y="294.30" width="2.02" height="10.10" fill="#2c78f0"/>
<rect x="129.14" y="294.30" width="1.98" height="10.10" fill="#0a27a8"/>
<rect x="130.12" y="294.30" width="3.00" height="10.10" fill="#0a27a8"/>
<rect x="132.12" y="294.30" width="3.00" height="10.10" fill="#0a29a9"/>
<rect x="134.11" y="294.30" width="3.00" height="10.10" fill="#0a2aab"/>
<rect x="136.11" y="294.30" width="3.00" height="10.10" fill="#0a2aab"/>
<rect x="138.11" y="294.30" width="3.00" height="10.10" fill="#0a2aab"/>
<rect x="140.10" y="294.30" width="3.00" height="10.10" fill="#0a27a7"/>
<rect x="142.10" y="294.30" width="3.00" height="10.10" fill="#0922a4"/>
<rect x="144.10" y="294.30" width="2.48" height="10.10" fill="#0a26a7"/>
<rect x="145.57" y="294.30" width="3.86" height="10.10" fill="#2060e8"/>
<rect x="148.43" y="294.30" width="3.14" height="10.10" fill="#0c34b8"/>
<rect x="150.57" y="294.30" width="3.86" height="10.10" fill="#2c78f0"/>
<rect x="153.43" y="294.30" width="1.65" height="10.10" fill="#3281f3"/>
<rect x="154.08" y="294.30" width="3.00" height="10.10" fill="#388af6"/>
<rect x="156.08" y="294.30" width="3.00" height="10.10" fill="#3484f4"/>
<rect x="158.07" y="294.30" width="3.00" height="10.10" fill="#3687f5"/>
<rect x="160.07" y="294.30" width="1.93" height="10.10" fill="#2e7bf1"/>
<rect x="161.00" y="294.30" width="3.57" height="10.10" fill="#2c78f0"/>
<rect x="163.57" y="294.30" width="4.57" height="10.10" fill="#2060e8"/>
<rect x="167.14" y="294.30" width="4.57" height="10.10" fill="#3c90f8"/>
<rect x="170.71" y="294.30" width="2.33" height="10.10" fill="#1e5ce4"/>
<rect x="172.05" y="294.30" width="3.00" height="10.10" fill="#2366ea"/>
<rect x="174.04" y="294.30" width="1.96" height="10.10" fill="#1f5ee6"/>
<rect x="175.00" y="294.30" width="4.57" height="10.10" fill="#0a28a8"/>
<rect x="178.57" y="294.30" width="2.46" height="10.10" fill="#2263e9"/>
<rect x="180.03" y="294.30" width="3.00" height="10.10" fill="#1e5ce4"/>
<rect x="182.03" y="294.30" width="2.54" height="10.10" fill="#2264e9"/>
<rect x="183.57" y="294.30" width="4.57" height="10.10" fill="#0a28a8"/>
<rect x="187.14" y="294.30" width="1.88" height="10.10" fill="#307ef2"/>
<rect x="188.02" y="294.30" width="3.00" height="10.10" fill="#2d7af1"/>
<rect x="190.02" y="294.30" width="3.00" height="10.10" fill="#2f7cf1"/>
<rect x="192.01" y="294.30" width="1.13" height="10.10" fill="#2971ee"/>
<rect x="192.14" y="294.30" width="3.14" height="10.10" fill="#0a28a8"/>
<rect x="194.29" y="294.30" width="2.72" height="10.10" fill="#2e7cf1"/>
<rect x="196.01" y="294.30" width="3.00" height="10.10" fill="#3586f5"/>
<rect x="198.00" y="294.30" width="3.00" height="10.10" fill="#3688f5"/>
<rect x="200.00" y="294.30" width="2.43" height="10.10" fill="#2f7df2"/>
<rect x="201.43" y="294.30" width="1.57" height="10.10" fill="#2263e9"/>
<rect x="202.00" y="294.30" width="3.00" height="10.10" fill="#2b75ef"/>
<rect x="203.99" y="294.30" width="3.00" height="10.10" fill="#2367ea"/>
<rect x="205.99" y="294.30" width="3.00" height="10.10" fill="#2a73ee"/>
<rect x="207.99" y="294.30" width="3.00" height="10.10" fill="#2a73ee"/>
<rect x="209.98" y="294.30" width="3.00" height="10.10" fill="#2870ed"/>
<rect x="211.98" y="294.30" width="1.88" height="10.10" fill="#2971ee"/>
<rect x="212.86" y="294.30" width="3.86" height="10.10" fill="#0c34b8"/>
<rect x="215.71" y="294.30" width="1.26" height="10.10" fill="#2a74ef"/>
<rect x="215.97" y="294.30" width="3.00" height="10.10" fill="#2f7df2"/>
<rect x="217.97" y="294.30" width="3.00" height="10.10" fill="#2d7af1"/>
<rect x="219.96" y="294.30" width="2.46" height="10.10" fill="#2a74ef"/>
<rect x="221.43" y="294.30" width="3.14" height="10.10" fill="#1040c8"/>
<rect x="223.57" y="294.30" width="4.57" height="10.10" fill="#2c78f0"/>
<rect x="227.14" y="294.30" width="2.86" height="10.10" fill="#0c34b8"/>
<rect x="229.00" y="294.30" width="2.86" height="10.10" fill="#2060e8"/>
<rect x="230.86" y="294.30" width="4.57" height="10.10" fill="#0a28a8"/>
<rect x="234.43" y="294.30" width="3.71" height="10.10" fill="#1850d8"/>
<rect x="237.14" y="294.30" width="10.43" height="10.10" fill="#08109a"/>
<rect x="246.57" y="294.30" width="2.34" height="10.10" fill="#3a8df7"/>
<rect x="247.92" y="294.30" width="3.00" height="10.10" fill="#3d91f8"/>
<rect x="249.91" y="294.30" width="3.00" height="10.10" fill="#4194f8"/>
<rect x="251.91" y="294.30" width="1.38" height="10.10" fill="#3c8ff8"/>
<rect x="252.29" y="294.30" width="3.14" height="10.10" fill="#2060e8"/>
<rect x="254.43" y="294.30" width="2.47" height="10.10" fill="#0f3ec6"/>
<rect x="255.90" y="294.30" width="3.00" height="10.10" fill="#1244cc"/>
<rect x="257.90" y="294.30" width="1.82" height="10.10" fill="#1040c8"/>
<rect x="258.71" y="294.30" width="2.18" height="10.10" fill="#2161e8"/>
<rect x="259.89" y="294.30" width="3.00" height="10.10" fill="#2162e9"/>
<rect x="261.89" y="294.30" width="1.39" height="10.10" fill="#1f5de5"/>
<rect x="262.29" y="294.30" width="5.29" height="10.10" fill="#08109a"/>
<rect x="266.57" y="294.30" width="3.86" height="10.10" fill="#2c78f0"/>
<rect x="269.43" y="294.30" width="5.29" height="10.10" fill="#0a28a8"/>
<rect x="273.71" y="294.30" width="2.43" height="10.10" fill="#1850d8"/>
<rect x="275.14" y="294.30" width="1.72" height="10.10" fill="#08109a"/>
<rect x="275.87" y="294.30" width="3.00" height="10.10" fill="#08109a"/>
<rect x="277.86" y="294.30" width="3.00" height="10.10" fill="#08109a"/>
<rect x="279.86" y="294.30" width="3.00" height="10.10" fill="#08119b"/>
<rect x="281.86" y="294.30" width="3.00" height="10.10" fill="#08109a"/>
<rect x="283.85" y="294.30" width="2.29" height="10.10" fill="#08109a"/>
<rect x="285.14" y="294.30" width="2.71" height="10.10" fill="#1040c8"/>
<rect x="286.86" y="294.30" width="1.99" height="10.10" fill="#08109a"/>
<rect x="287.85" y="294.30" width="3.00" height="10.10" fill="#08139c"/>
<rect x="289.84" y="294.30" width="3.00" height="10.10" fill="#08109a"/>
<rect x="291.84" y="294.30" width="3.00" height="10.10" fill="#08139c"/>
<rect x="293.84" y="294.30" width="3.00" height="10.10" fill="#08109a"/>
<rect x="295.83" y="294.30" width="2.17" height="10.10" fill="#08139c"/>
<rect x="297.00" y="294.30" width="1.83" height="10.10" fill="#1143cb"/>
<rect x="297.83" y="294.30" width="3.00" height="10.10" fill="#1040c8"/>
<rect x="299.83" y="294.30" width="3.00" height="10.10" fill="#1040c8"/>
<rect x="301.82" y="294.30" width="1.61" height="10.10" fill="#1141c9"/>
<rect x="302.43" y="294.30" width="3.14" height="10.10" fill="#0a28a8"/>
<rect x="304.57" y="294.30" width="2.24" height="10.10" fill="#08149c"/>
<rect x="305.82" y="294.30" width="3.00" height="10.10" fill="#08109a"/>
<rect x="307.81" y="294.30" width="3.00" height="10.10" fill="#08109a"/>
<rect x="309.81" y="294.30" width="3.00" height="10.10" fill="#08139c"/>
<rect x="311.81" y="294.30" width="2.34" height="10.10" fill="#08129b"/>
<rect x="313.14" y="294.30" width="3.86" height="10.10" fill="#1850d8"/>
<rect x="316.00" y="294.30" width="3.86" height="10.10" fill="#3c90f8"/>
<rect x="318.86" y="294.30" width="3.14" height="10.10" fill="#2060e8"/>
<rect x="321.00" y="294.30" width="5.57" height="10.10" fill="#3c90f8"/>
<rect x="325.57" y="294.30" width="5.00" height="10.10" fill="#2c78f0"/>
<rect x="329.57" y="294.30" width="1.20" height="10.10" fill="#08109a"/>
<rect x="329.77" y="294.30" width="3.00" height="10.10" fill="#08109a"/>
<rect x="331.77" y="294.30" width="3.00" height="10.10" fill="#08109a"/>
<rect x="333.77" y="294.30" width="3.00" height="10.10" fill="#08109a"/>
<rect x="335.76" y="294.30" width="3.00" height="10.10" fill="#08109a"/>
<rect x="337.76" y="294.30" width="2.10" height="10.10" fill="#08109a"/>
<rect x="338.86" y="294.30" width="1.90" height="10.10" fill="#0c32b5"/>
<rect x="339.76" y="294.30" width="3.00" height="10.10" fill="#0c35b9"/>
<rect x="341.75" y="294.30" width="3.00" height="10.10" fill="#0d37bc"/>
<rect x="343.75" y="294.30" width="1.11" height="10.10" fill="#0c33b6"/>
<rect x="343.86" y="294.30" width="3.14" height="10.10" fill="#2060e8"/>
<rect x="346.00" y="294.30" width="2.74" height="10.10" fill="#3c90f8"/>
<rect x="347.74" y="294.30" width="3.00" height="10.10" fill="#3b8ef7"/>
<rect x="349.74" y="294.30" width="1.55" height="10.10" fill="#4093f8"/>
<rect x="350.29" y="294.30" width="3.14" height="10.10" fill="#1850d8"/>
<rect x="352.43" y="294.30" width="3.14" height="10.10" fill="#3c90f8"/>
<rect x="354.57" y="294.30" width="3.14" height="10.10" fill="#1040c8"/>
<rect x="356.71" y="294.30" width="3.14" height="10.10" fill="#3c90f8"/>
<rect x="358.86" y="294.30" width="1.86" height="10.10" fill="#307df2"/>
<rect x="359.72" y="294.30" width="3.00" height="10.10" fill="#307ef2"/>
<rect x="361.72" y="294.30" width="3.00" height="10.10" fill="#307ef2"/>
<rect x="363.72" y="294.30" width="2.28" height="10.10" fill="#2e7bf1"/>
<rect x="365.00" y="294.30" width="1.71" height="10.10" fill="#0a29aa"/>
<rect x="365.71" y="294.30" width="3.00" height="10.10" fill="#0a25a6"/>
<rect x="367.71" y="294.30" width="3.00" height="10.10" fill="#0a26a7"/>
<rect x="369.70" y="294.30" width="3.00" height="10.10" fill="#0a29a9"/>
<rect x="371.70" y="294.30" width="3.00" height="10.10" fill="#0a27a8"/>
<rect x="373.70" y="294.30" width="1.30" height="10.10" fill="#0a27a7"/>
<rect x="374.00" y="294.30" width="2.69" height="10.10" fill="#2971ee"/>
<rect x="375.69" y="294.30" width="3.00" height="10.10" fill="#2c78f0"/>
<rect x="377.69" y="294.30" width="3.00" height="10.10" fill="#2d7af1"/>
<rect x="379.69" y="294.30" width="3.00" height="10.10" fill="#2971ee"/>
<rect x="381.68" y="294.30" width="1.89" height="10.10" fill="#2972ee"/>
<rect x="382.57" y="294.30" width="3.14" height="10.10" fill="#1040c8"/>
<rect x="384.71" y="294.30" width="1.96" height="10.10" fill="#2d79f0"/>
<rect x="385.68" y="294.30" width="3.00" height="10.10" fill="#2b75ef"/>
<rect x="387.67" y="294.30" width="3.00" height="10.10" fill="#2c78f0"/>
<rect x="389.67" y="294.30" width="3.00" height="10.10" fill="#2c78f0"/>
<rect x="391.67" y="294.30" width="3.00" height="10.10" fill="#2b77f0"/>
<rect x="393.66" y="294.30" width="3.00" height="10.10" fill="#2b75ef"/>
<rect x="395.66" y="294.30" width="1.48" height="10.10" fill="#2973ee"/>
<rect x="396.14" y="294.30" width="6.00" height="10.10" fill="#0a28a8"/>
<rect x="401.14" y="294.30" width="1.51" height="10.10" fill="#2b77f0"/>
<rect x="401.65" y="294.30" width="3.00" height="10.10" fill="#2e7bf1"/>
<rect x="403.65" y="294.30" width="2.78" height="10.10" fill="#2a75ef"/>
<rect x="405.43" y="294.30" width="1.21" height="10.10" fill="#0f3ec5"/>
<rect x="405.64" y="294.30" width="3.00" height="10.10" fill="#1142ca"/>
<rect x="407.64" y="294.30" width="3.00" height="10.10" fill="#1141c9"/>
<rect x="409.64" y="294.30" width="1.08" height="10.10" fill="#1040c8"/>
<rect x="409.71" y="294.30" width="4.57" height="10.10" fill="#0c34b8"/>
<rect x="413.29" y="294.30" width="5.29" height="10.10" fill="#0a28a8"/>
<rect x="417.57" y="294.30" width="1.05" height="10.10" fill="#0f3dc4"/>
<rect x="417.62" y="294.30" width="3.00" height="10.10" fill="#0f3dc5"/>
<rect x="419.62" y="294.30" width="3.00" height="10.10" fill="#1142ca"/>
<rect x="421.61" y="294.30" width="3.00" height="10.10" fill="#0f3ec6"/>
<rect x="423.61" y="294.30" width="2.10" height="10.10" fill="#1143cb"/>
<rect x="424.71" y="294.30" width="3.14" height="10.10" fill="#2c78f0"/>
<rect x="426.86" y="294.30" width="1.75" height="10.10" fill="#2367ea"/>
<rect x="427.60" y="294.30" width="3.00" height="10.10" fill="#1e5ce4"/>
<rect x="429.60" y="294.30" width="3.00" height="10.10" fill="#2265ea"/>
<rect x="431.60" y="294.30" width="2.40" height="10.10" fill="#2366ea"/>
<rect x="433.00" y="294.30" width="2.86" height="10.10" fill="#0c34b8"/>
<rect x="434.86" y="294.30" width="1.73" height="10.10" fill="#2d79f0"/>
<rect x="435.59" y="294.30" width="3.00" height="10.10" fill="#2d79f0"/>
<rect x="437.59" y="294.30" width="3.00" height="10.10" fill="#2d79f0"/>
<rect x="439.58" y="294.30" width="3.00" height="10.10" fill="#2c78f0"/>
<rect x="441.58" y="294.30" width="3.00" height="10.10" fill="#2c78f0"/>
<rect x="443.58" y="294.30" width="1.57" height="10.10" fill="#2a73ee"/>
<rect x="444.14" y="294.30" width="3.86" height="10.10" fill="#0a28a8"/>
<rect x="447.00" y="294.30" width="3.86" height="10.10" fill="#2060e8"/>
<rect x="449.86" y="294.30" width="3.14" height="10.10" fill="#0c34b8"/>
<rect x="452.00" y="294.30" width="2.56" height="10.10" fill="#2c78f0"/>
<rect x="453.56" y="294.30" width="3.00" height="10.10" fill="#2d79f0"/>
<rect x="455.56" y="294.30" width="3.00" height="10.10" fill="#2c78f0"/>
<rect x="457.55" y="294.30" width="3.00" height="10.10" fill="#2e7bf1"/>
<rect x="459.55" y="294.30" width="3.00" height="10.10" fill="#2e7af1"/>
<rect x="461.55" y="294.30" width="3.00" height="10.10" fill="#3585f4"/>
<rect x="463.54" y="294.30" width="3.00" height="10.10" fill="#2d7af1"/>
<rect x="465.57" y="294.30" width="2.96" height="10.10" fill="#4396f8"/>
<rect x="467.54" y="294.30" width="3.00" height="10.10" fill="#4396f8"/>
<rect x="469.53" y="294.30" width="2.04" height="10.10" fill="#4093f8"/>
<rect x="470.57" y="294.30" width="1.96" height="10.10" fill="#0c33b7"/>
<rect x="471.53" y="294.30" width="3.00" height="10.10" fill="#0c34b8"/>
<rect x="473.52" y="294.30" width="2.33" height="10.10" fill="#0c35b9"/>
<rect x="474.86" y="294.30" width="1.66" height="10.10" fill="#2d7af1"/>
<rect x="475.52" y="294.30" width="3.00" height="10.10" fill="#2b77f0"/>
<rect x="477.52" y="294.30" width="3.00" height="10.10" fill="#2d7af1"/>
<rect x="479.51" y="294.30" width="2.49" height="10.10" fill="#2c78f0"/>
<rect x="481.00" y="294.30" width="1.51" height="10.10" fill="#1f5de5"/>
<rect x="481.51" y="294.30" width="3.00" height="10.10" fill="#2161e8"/>
<rect x="483.51" y="294.30" width="2.49" height="10.10" fill="#2265ea"/>
<rect x="485.00" y="294.30" width="4.57" height="10.10" fill="#0a28a8"/>
<rect x="488.57" y="294.30" width="1.93" height="10.10" fill="#2e7bf1"/>
<rect x="489.50" y="294.30" width="3.00" height="10.10" fill="#2c78f0"/>
<rect x="491.49" y="294.30" width="3.00" height="10.10" fill="#2c79f0"/>
<rect x="493.49" y="294.30" width="3.00" height="10.10" fill="#2b76ef"/>
<rect x="495.49" y="294.30" width="3.00" height="10.10" fill="#2c77f0"/>
<rect x="497.48" y="294.30" width="3.00" height="10.10" fill="#307ef2"/>
<rect x="499.48" y="294.30" width="2.95" height="10.10" fill="#2972ee"/>
<rect x="501.43" y="294.30" width="3.14" height="10.10" fill="#0a28a8"/>
<rect x="503.57" y="294.30" width="3.14" height="10.10" fill="#1850d8"/>
<rect x="505.71" y="294.30" width="2.43" height="10.10" fill="#0a28a8"/>
<rect x="507.14" y="294.30" width="1.32" height="10.10" fill="#2d7af1"/>
<rect x="507.47" y="294.30" width="3.00" height="10.10" fill="#2a73ee"/>
<rect x="509.46" y="294.30" width="3.00" height="10.10" fill="#317ff2"/>
<rect x="511.46" y="294.30" width="3.00" height="10.10" fill="#2a75ef"/>
<rect x="513.46" y="294.30" width="3.00" height="10.10" fill="#2d7af1"/>
<rect x="515.45" y="294.30" width="3.00" height="10.10" fill="#2973ee"/>
<rect x="517.45" y="294.30" width="3.00" height="10.10" fill="#307ef2"/>
<rect x="519.45" y="294.30" width="3.00" height="10.10" fill="#307ef2"/>
<rect x="521.44" y="294.30" width="3.00" height="10.10" fill="#307ef2"/>
<rect x="523.44" y="294.30" width="3.00" height="10.10" fill="#2a75ef"/>
<rect x="525.43" y="294.30" width="2.71" height="10.10" fill="#2972ee"/>
<rect x="527.14" y="294.30" width="3.14" height="10.10" fill="#0a28a8"/>
<rect x="529.29" y="294.30" width="1.14" height="10.10" fill="#2d7af1"/>
<rect x="529.43" y="294.30" width="3.00" height="10.10" fill="#2e7bf1"/>
<rect x="531.42" y="294.30" width="3.00" height="10.10" fill="#2e7bf1"/>
<rect x="533.42" y="294.30" width="3.00" height="10.10" fill="#307ef2"/>
<rect x="535.42" y="294.30" width="3.00" height="10.10" fill="#317ff2"/>
<rect x="537.41" y="294.30" width="1.44" height="10.10" fill="#2b75ef"/>
<rect x="537.86" y="294.30" width="3.14" height="10.10" fill="#0a28a8"/>
<rect x="540.00" y="294.30" width="3.86" height="10.10" fill="#2c78f0"/>
<rect x="542.86" y="294.30" width="2.54" height="10.10" fill="#0a28a8"/>
<rect x="237.10" y="264.00" width="1.60" height="40.40" fill="#d2cdc2"/>
<rect x="245.30" y="264.00" width="1.60" height="40.40" fill="#d2cdc2"/>
<rect x="323.40" y="264.00" width="2.20" height="40.40" fill="#d2cdc2"/>
<rect x="364.20" y="264.00" width="3.50" height="40.40" fill="#d2cdc2"/>
<rect x="390.40" y="264.00" width="1.90" height="40.40" fill="#d2cdc2"/>
<rect x="400.10" y="264.00" width="2.20" height="40.40" fill="#d2cdc2"/>
<rect x="426.60" y="264.00" width="2.40" height="40.40" fill="#d2cdc2"/>
<rect x="497.20" y="264.00" width="2.00" height="40.40" fill="#d2cdc2"/>
<rect x="519.70" y="264.00" width="2.00" height="40.40" fill="#d2cdc2"/>
<text x="21.60" y="271.05" font-size="5.85" text-anchor="end" font-weight="normal" fill="#000" stroke="#000" stroke-width="0.16">Arx</text>
<text x="21.60" y="281.15" font-size="5.85" text-anchor="end" font-weight="normal" fill="#000" stroke="#000" stroke-width="0.16">Kdm5c</text>
<text x="21.60" y="291.25" font-size="5.85" text-anchor="end" font-weight="normal" fill="#000" stroke="#000" stroke-width="0.16">Phf8</text>
<text x="21.60" y="301.85" font-size="5.85" text-anchor="end" font-weight="normal" fill="#000" stroke="#000" stroke-width="0.16">Zfp711</text>
<rect x="212.7" y="310.4" width="168.3" height="10.2" fill="url(#g)"/>
<path d="M212.70 320.6V323" stroke="#333" stroke-width="0.5"/>
<text x="212.70" y="328.40" font-size="3.60" text-anchor="middle" font-weight="normal" fill="#000" stroke="#000" stroke-width="0.10">0.00</text>
<path d="M254.77 320.6V323" stroke="#333" stroke-width="0.5"/>
<text x="254.77" y="328.40" font-size="3.60" text-anchor="middle" font-weight="normal" fill="#000" stroke="#000" stroke-width="0.10">4.47</text>
<path d="M296.85 320.6V323" stroke="#333" stroke-width="0.5"/>
<text x="296.85" y="328.40" font-size="3.60" text-anchor="middle" font-weight="normal" fill="#000" stroke="#000" stroke-width="0.10">8.94</text>
<path d="M338.93 320.6V323" stroke="#333" stroke-width="0.5"/>
<text x="338.93" y="328.40" font-size="3.60" text-anchor="middle" font-weight="normal" fill="#000" stroke="#000" stroke-width="0.10">13.42</text>
<path d="M381.00 320.6V323" stroke="#333" stroke-width="0.5"/>
<text x="381.00" y="328.40" font-size="3.60" text-anchor="middle" font-weight="normal" fill="#000" stroke="#000" stroke-width="0.10">17.89</text>
<text x="297.20" y="332.50" font-size="3.80" text-anchor="middle" font-weight="normal" fill="#000" stroke="#000" stroke-width="0.10">Measure of central tendency: Median LOG2(CPM + 1)</text>
<text x="21.80" y="179.30" font-size="12.20" text-anchor="start" font-weight="bold" fill="#000" stroke="#000" stroke-width="0.00">B</text>
<text x="37.60" y="180.00" font-size="7.56" text-anchor="start" font-weight="normal" fill="#000" stroke="#000" stroke-width="0.16">Mouse-Whole Cortex &amp; Hippocamous– SMART-seq</text>
<path d="M31.29 243.00L31.29 240.10M33.29 243.00L33.29 240.10M31.29 240.10L33.29 240.10M32.29 237.49L32.29 240.10M35.28 237.49L35.28 243.00M32.29 237.49L35.28 237.49M37.28 243.00L37.28 240.10M39.28 243.00L39.28 240.10M37.28 240.10L39.28 240.10M41.27 243.00L41.27 240.10M43.27 243.00L43.27 240.10M41.27 240.10L43.27 240.10M38.28 236.91L38.28 240.10M42.27 236.91L42.27 240.10M38.28 236.91L42.27 236.91M33.79 233.03L33.79 237.49M40.28 233.03L40.28 236.91M33.79 233.03L40.28 233.03M45.27 243.00L45.27 240.10M47.26 243.00L47.26 240.10M45.27 240.10L47.26 240.10M49.26 243.00L49.26 240.10M51.26 243.00L51.26 240.10M49.26 240.10L51.26 240.10M46.27 236.91L46.27 240.10M50.26 236.91L50.26 240.10M46.27 236.91L50.26 236.91M55.25 243.00L55.25 240.10M57.25 243.00L57.25 240.10M55.25 240.10L57.25 240.10M53.25 237.49L53.25 243.00M56.25 237.49L56.25 240.10M53.25 237.49L56.25 237.49M48.26 233.03L48.26 236.91M54.75 233.03L54.75 237.49M48.26 233.03L54.75 233.03M37.03 227.00L37.03 233.03M51.51 227.00L51.51 233.03M37.03 227.00L51.51 227.00M59.24 243.00L59.24 240.10M61.24 243.00L61.24 240.10M59.24 240.10L61.24 240.10M63.24 243.00L63.24 240.10M65.23 243.00L65.23 240.10M63.24 240.10L65.23 240.10M60.24 236.91L60.24 240.10M64.23 236.91L64.23 240.10M60.24 236.91L64.23 236.91M67.23 243.00L67.23 240.10M69.23 243.00L69.23 240.10M67.23 240.10L69.23 240.10M71.22 243.00L71.22 240.10M73.22 243.00L73.22 240.10M71.22 240.10L73.22 240.10M68.23 236.91L68.23 240.10M72.22 236.91L72.22 240.10M68.23 236.91L72.22 236.91M62.24 228.00L62.24 236.91M70.22 228.00L70.22 236.91M62.24 228.00L70.22 228.00M75.22 243.00L75.22 240.10M77.21 243.00L77.21 240.10M75.22 240.10L77.21 240.10M79.21 243.00L79.21 240.10M81.20 243.00L81.20 240.10M79.21 240.10L81.20 240.10M76.21 236.91L76.21 240.10M80.21 236.91L80.21 240.10M76.21 236.91L80.21 236.91M83.20 243.00L83.20 240.10M85.20 243.00L85.20 240.10M83.20 240.10L85.20 240.10M87.19 243.00L87.19 240.10M89.19 243.00L89.19 240.10M87.19 240.10L89.19 240.10M84.20 236.91L84.20 240.10M88.19 236.91L88.19 240.10M84.20 236.91L88.19 236.91M78.21 232.56L78.21 236.91M86.20 232.56L86.20 236.91M78.21 232.56L86.20 232.56M91.19 243.00L91.19 240.10M93.18 243.00L93.18 240.10M91.19 240.10L93.18 240.10M95.18 243.00L95.18 240.10M97.18 243.00L97.18 240.10M95.18 240.10L97.18 240.10M92.19 236.91L92.19 240.10M96.18 236.91L96.18 240.10M92.19 236.91L96.18 236.91M99.17 243.00L99.17 240.10M101.17 243.00L101.17 240.10M99.17 240.10L101.17 240.10M103.17 243.00L103.17 240.10M105.16 243.00L105.16 240.10M103.17 240.10L105.16 240.10M100.17 236.91L100.17 240.10M104.16 236.91L104.16 240.10M100.17 236.91L104.16 236.91M94.18 232.56L94.18 236.91M102.17 232.56L102.17 236.91M94.18 232.56L102.17 232.56M82.20 227.50L82.20 232.56M98.18 227.50L98.18 232.56M82.20 227.50L98.18 227.50M66.23 224.40L66.23 228.00M90.19 224.40L90.19 227.50M66.23 224.40L90.19 224.40M44.27 221.60L44.27 227.00M78.21 221.60L78.21 224.40M44.27 221.60L78.21 221.60M109.16 243.00L109.16 240.10M111.15 243.00L111.15 240.10M109.16 240.10L111.15 240.10M107.16 237.49L107.16 243.00M110.15 237.49L110.15 240.10M107.16 237.49L110.15 237.49M113.15 243.00L113.15 240.10M115.15 243.00L115.15 240.10M113.15 240.10L115.15 240.10M117.14 243.00L117.14 240.10M119.14 243.00L119.14 240.10M117.14 240.10L119.14 240.10M114.15 236.91L114.15 240.10M118.14 236.91L118.14 240.10M114.15 236.91L118.14 236.91M108.66 233.03L108.66 237.49M116.14 233.03L116.14 236.91M108.66 233.03L116.14 233.03M121.14 243.00L121.14 240.10M123.13 243.00L123.13 240.10M121.14 240.10L123.13 240.10M122.13 237.49L122.13 240.10M125.13 237.49L125.13 243.00M122.13 237.49L125.13 237.49M127.13 243.00L127.13 240.10M129.12 243.00L129.12 240.10M127.13 240.10L129.12 240.10M131.12 243.00L131.12 240.10M133.11 243.00L133.11 240.10M131.12 240.10L133.11 240.10M128.12 236.91L128.12 240.10M132.12 236.91L132.12 240.10M128.12 236.91L132.12 236.91M123.63 233.03L123.63 237.49M130.12 233.03L130.12 236.91M123.63 233.03L130.12 233.03M112.40 225.50L112.40 233.03M126.88 225.50L126.88 233.03M112.40 225.50L126.88 225.50M135.11 243.00L135.11 240.10M137.11 243.00L137.11 240.10M135.11 240.10L137.11 240.10M136.11 237.49L136.11 240.10M139.10 237.49L139.10 243.00M136.11 237.49L139.10 237.49M143.10 243.00L143.10 240.10M145.09 243.00L145.09 240.10M143.10 240.10L145.09 240.10M141.10 237.49L141.10 243.00M144.10 237.49L144.10 240.10M141.10 237.49L144.10 237.49M137.61 235.00L137.61 237.49M142.60 235.00L142.60 237.49M137.61 235.00L142.60 235.00M119.64 222.40L119.64 225.50M140.10 222.40L140.10 235.00M119.64 222.40L140.10 222.40M61.24 218.60L61.24 221.60M129.87 218.60L129.87 222.40M61.24 218.60L129.87 218.60M147.09 243.00L147.09 240.10M149.09 243.00L149.09 240.10M147.09 240.10L149.09 240.10M151.08 243.00L151.08 240.10M153.08 243.00L153.08 240.10M151.08 240.10L153.08 240.10M148.09 235.00L148.09 240.10M152.08 235.00L152.08 240.10M148.09 235.00L152.08 235.00M155.08 243.00L155.08 240.10M157.07 243.00L157.07 240.10M155.08 240.10L157.07 240.10M159.07 243.00L159.07 240.10M161.07 243.00L161.07 240.10M159.07 240.10L161.07 240.10M160.07 237.49L160.07 240.10M163.06 237.49L163.06 243.00M160.07 237.49L163.06 237.49M156.08 234.23L156.08 240.10M161.57 234.23L161.57 237.49M156.08 234.23L161.57 234.23M165.06 243.00L165.06 240.10M167.06 243.00L167.06 240.10M165.06 240.10L167.06 240.10M169.05 243.00L169.05 240.10M171.05 243.00L171.05 240.10M169.05 240.10L171.05 240.10M166.06 236.91L166.06 240.10M170.05 236.91L170.05 240.10M166.06 236.91L170.05 236.91M158.82 232.14L158.82 234.23M168.05 232.14L168.05 236.91M158.82 232.14L168.05 232.14M173.05 243.00L173.05 240.10M175.04 243.00L175.04 240.10M173.05 240.10L175.04 240.10M174.04 237.49L174.04 240.10M177.04 237.49L177.04 243.00M174.04 237.49L177.04 237.49M179.04 243.00L179.04 240.10M181.03 243.00L181.03 240.10M179.04 240.10L181.03 240.10M183.03 243.00L183.03 240.10M185.02 243.00L185.02 240.10M183.03 240.10L185.02 240.10M184.03 237.49L184.03 240.10M187.02 237.49L187.02 243.00M184.03 237.49L187.02 237.49M180.03 234.56L180.03 240.10M185.52 234.56L185.52 237.49M180.03 234.56L185.52 234.56M175.54 232.56L175.54 237.49M182.78 232.56L182.78 234.56M175.54 232.56L182.78 232.56M163.44 227.50L163.44 232.14M179.16 227.50L179.16 232.56M163.44 227.50L179.16 227.50M191.01 243.00L191.01 240.10M193.01 243.00L193.01 240.10M191.01 240.10L193.01 240.10M189.02 237.49L189.02 243.00M192.01 237.49L192.01 240.10M189.02 237.49L192.01 237.49M195.01 243.00L195.01 240.10M197.00 243.00L197.00 240.10M195.01 240.10L197.00 240.10M199.00 243.00L199.00 240.10M201.00 243.00L201.00 240.10M199.00 240.10L201.00 240.10M196.01 236.91L196.01 240.10M200.00 236.91L200.00 240.10M196.01 236.91L200.00 236.91M190.52 233.03L190.52 237.49M198.00 233.03L198.00 236.91M190.52 233.03L198.00 233.03M194.26 227.00L194.26 233.03M202.99 227.00L202.99 243.00M194.26 227.00L202.99 227.00M171.30 224.00L171.30 227.50M198.63 224.00L198.63 227.00M171.30 224.00L198.63 224.00M204.99 243.00L204.99 240.10M206.99 243.00L206.99 240.10M204.99 240.10L206.99 240.10M205.99 237.49L205.99 240.10M208.98 237.49L208.98 243.00M205.99 237.49L208.98 237.49M212.98 243.00L212.98 240.10M214.97 243.00L214.97 240.10M212.98 240.10L214.97 240.10M210.98 237.49L210.98 243.00M213.97 237.49L213.97 240.10M210.98 237.49L213.97 237.49M207.49 233.58L207.49 237.49M212.48 233.58L212.48 237.49M207.49 233.58L212.48 233.58M218.97 243.00L218.97 240.10M220.96 243.00L220.96 240.10M218.97 240.10L220.96 240.10M216.97 237.49L216.97 243.00M219.96 237.49L219.96 240.10M216.97 237.49L219.96 237.49M222.96 243.00L222.96 240.10M224.96 243.00L224.96 240.10M222.96 240.10L224.96 240.10M218.47 234.23L218.47 237.49M223.96 234.23L223.96 240.10M218.47 234.23L223.96 234.23M209.98 226.50L209.98 233.58M221.21 226.50L221.21 234.23M209.98 226.50L221.21 226.50M226.95 243.00L226.95 240.10M228.95 243.00L228.95 240.10M226.95 240.10L228.95 240.10M230.95 243.00L230.95 240.10M232.94 243.00L232.94 240.10M230.95 240.10L232.94 240.10M227.95 236.91L227.95 240.10M231.94 236.91L231.94 240.10M227.95 236.91L231.94 236.91M234.94 243.00L234.94 240.10M236.93 243.00L236.93 240.10M234.94 240.10L236.93 240.10M229.95 230.00L229.95 236.91M235.94 230.00L235.94 240.10M229.95 230.00L235.94 230.00M215.60 222.60L215.60 226.50M232.94 222.60L232.94 230.00M215.60 222.60L232.94 222.60M184.96 220.40L184.96 224.00M224.27 220.40L224.27 222.60M184.96 220.40L224.27 220.40M238.93 243.00L238.93 240.10M240.93 243.00L240.93 240.10M238.93 240.10L240.93 240.10M242.92 243.00L242.92 240.10M244.92 243.00L244.92 240.10M242.92 240.10L244.92 240.10M239.93 232.00L239.93 240.10M243.92 232.00L243.92 240.10M239.93 232.00L243.92 232.00M246.92 243.00L246.92 240.10M248.91 243.00L248.91 240.10M246.92 240.10L248.91 240.10M252.91 243.00L252.91 240.10M254.90 243.00L254.90 240.10M252.91 240.10L254.90 240.10M250.91 237.49L250.91 243.00M253.91 237.49L253.91 240.10M250.91 237.49L253.91 237.49M247.92 234.23L247.92 240.10M252.41 234.23L252.41 237.49M247.92 234.23L252.41 234.23M256.90 243.00L256.90 240.10M258.90 243.00L258.90 240.10M256.90 240.10L258.90 240.10M260.89 243.00L260.89 240.10M262.89 243.00L262.89 240.10M260.89 240.10L262.89 240.10M257.90 236.91L257.90 240.10M261.89 236.91L261.89 240.10M257.90 236.91L261.89 236.91M250.16 227.50L250.16 234.23M259.89 227.50L259.89 236.91M250.16 227.50L259.89 227.50M241.93 224.50L241.93 232.00M255.03 224.50L255.03 227.50M241.93 224.50L255.03 224.50M248.48 221.90L248.48 224.50M264.89 221.90L264.89 243.00M248.48 221.90L264.89 221.90M204.62 219.00L204.62 220.40M256.68 219.00L256.68 221.90M204.62 219.00L256.68 219.00M150.09 217.00L150.09 235.00M230.65 217.00L230.65 219.00M150.09 217.00L230.65 217.00M95.55 215.00L95.55 218.60M190.37 215.00L190.37 217.00M95.55 215.00L190.37 215.00M29.29 212.00L29.29 243.00M142.96 212.00L142.96 215.00M29.29 212.00L142.96 212.00M268.88 243.00L268.88 240.10M270.88 243.00L270.88 240.10M268.88 240.10L270.88 240.10M266.88 237.49L266.88 243.00M269.88 237.49L269.88 240.10M266.88 237.49L269.88 237.49M272.87 243.00L272.87 240.10M274.87 243.00L274.87 240.10M272.87 240.10L274.87 240.10M273.87 237.49L273.87 240.10M276.87 237.49L276.87 243.00M273.87 237.49L276.87 237.49M268.38 234.00L268.38 237.49M275.37 234.00L275.37 237.49M268.38 234.00L275.37 234.00M278.86 243.00L278.86 240.10M280.86 243.00L280.86 240.10M278.86 240.10L280.86 240.10M279.86 237.49L279.86 240.10M282.86 237.49L282.86 243.00M279.86 237.49L282.86 237.49M284.85 243.00L284.85 240.10M286.85 243.00L286.85 240.10M284.85 240.10L286.85 240.10M285.85 237.49L285.85 240.10M288.84 237.49L288.84 243.00M285.85 237.49L288.84 237.49M281.36 233.58L281.36 237.49M287.35 233.58L287.35 237.49M281.36 233.58L287.35 233.58M290.84 243.00L290.84 240.10M292.84 243.00L292.84 240.10M290.84 240.10L292.84 240.10M294.83 243.00L294.83 240.10M296.83 243.00L296.83 240.10M294.83 240.10L296.83 240.10M291.84 236.91L291.84 240.10M295.83 236.91L295.83 240.10M291.84 236.91L295.83 236.91M284.35 229.80L284.35 233.58M293.84 229.80L293.84 236.91M284.35 229.80L293.84 229.80M298.83 243.00L298.83 240.10M300.82 243.00L300.82 240.10M298.83 240.10L300.82 240.10M302.82 243.00L302.82 240.10M304.82 243.00L304.82 240.10M302.82 240.10L304.82 240.10M299.83 237.00L299.83 240.10M303.82 237.00L303.82 240.10M299.83 237.00L303.82 237.00M306.81 243.00L306.81 240.10M308.81 243.00L308.81 240.10M306.81 240.10L308.81 240.10M312.80 243.00L312.80 240.10M314.80 243.00L314.80 240.10M312.80 240.10L314.80 240.10M310.81 237.49L310.81 243.00M313.80 237.49L313.80 240.10M310.81 237.49L313.80 237.49M307.81 234.88L307.81 240.10M312.30 234.88L312.30 237.49M307.81 234.88L312.30 234.88M316.80 243.00L316.80 240.10M318.79 243.00L318.79 240.10M316.80 240.10L318.79 240.10M320.79 243.00L320.79 240.10M322.79 243.00L322.79 240.10M320.79 240.10L322.79 240.10M317.79 236.91L317.79 240.10M321.79 236.91L321.79 240.10M317.79 236.91L321.79 236.91M310.06 232.90L310.06 234.88M319.79 232.90L319.79 236.91M310.06 232.90L319.79 232.90M326.78 243.00L326.78 240.10M328.78 243.00L328.78 240.10M326.78 240.10L328.78 240.10M324.78 237.49L324.78 243.00M327.78 237.49L327.78 240.10M324.78 237.49L327.78 237.49M332.77 243.00L332.77 240.10M334.77 243.00L334.77 240.10M332.77 240.10L334.77 240.10M330.77 237.49L330.77 243.00M333.77 237.49L333.77 240.10M330.77 237.49L333.77 237.49M326.28 229.30L326.28 237.49M332.27 229.30L332.27 237.49M326.28 229.30L332.27 229.30M336.76 243.00L336.76 240.10M338.76 243.00L338.76 240.10M336.76 240.10L338.76 240.10M337.76 237.49L337.76 240.10M340.75 237.49L340.75 243.00M337.76 237.49L340.75 237.49M344.75 243.00L344.75 240.10M346.74 243.00L346.74 240.10M344.75 240.10L346.74 240.10M342.75 237.49L342.75 243.00M345.75 237.49L345.75 240.10M342.75 237.49L345.75 237.49M339.26 234.50L339.26 237.49M344.25 234.50L344.25 237.49M339.26 234.50L344.25 234.50M348.74 243.00L348.74 240.10M350.74 243.00L350.74 240.10M348.74 240.10L350.74 240.10M349.74 237.49L349.74 240.10M352.73 237.49L352.73 243.00M349.74 237.49L352.73 237.49M354.73 243.00L354.73 240.10M356.73 243.00L356.73 240.10M354.73 240.10L356.73 240.10M351.24 234.50L351.24 237.49M355.73 234.50L355.73 240.10M351.24 234.50L355.73 234.50M341.75 232.50L341.75 234.50M353.48 232.50L353.48 234.50M341.75 232.50L353.48 232.50M360.72 243.00L360.72 240.10M362.72 243.00L362.72 240.10M360.72 240.10L362.72 240.10M358.72 237.49L358.72 243.00M361.72 237.49L361.72 240.10M358.72 237.49L361.72 237.49M364.71 243.00L364.71 240.10M366.71 243.00L366.71 240.10M364.71 240.10L366.71 240.10M365.71 237.49L365.71 240.10M368.71 237.49L368.71 243.00M365.71 237.49L368.71 237.49M360.22 234.00L360.22 237.49M367.21 234.00L367.21 237.49M360.22 234.00L367.21 234.00M370.70 243.00L370.70 240.10M372.70 243.00L372.70 240.10M370.70 240.10L372.70 240.10M376.69 243.00L376.69 240.10M378.69 243.00L378.69 240.10M376.69 240.10L378.69 240.10M374.70 237.49L374.70 243.00M377.69 237.49L377.69 240.10M374.70 237.49L377.69 237.49M371.70 234.23L371.70 240.10M376.19 234.23L376.19 237.49M371.70 234.23L376.19 234.23M363.72 232.00L363.72 234.00M373.95 232.00L373.95 234.23M363.72 232.00L373.95 232.00M347.62 229.00L347.62 232.50M368.83 229.00L368.83 232.00M347.62 229.00L368.83 229.00M380.69 243.00L380.69 240.10M382.68 243.00L382.68 240.10M380.69 240.10L382.68 240.10M381.68 237.49L381.68 240.10M384.68 237.49L384.68 243.00M381.68 237.49L384.68 237.49M388.67 243.00L388.67 240.10M390.67 243.00L390.67 240.10M388.67 240.10L390.67 240.10M386.68 237.49L386.68 243.00M389.67 237.49L389.67 240.10M386.68 237.49L389.67 237.49M383.18 233.58L383.18 237.49M388.17 233.58L388.17 237.49M383.18 233.58L388.17 233.58M392.66 243.00L392.66 240.10M394.66 243.00L394.66 240.10M392.66 240.10L394.66 240.10M393.66 237.49L393.66 240.10M396.66 237.49L396.66 243.00M393.66 237.49L396.66 237.49M398.65 243.00L398.65 240.10M400.65 243.00L400.65 240.10M398.65 240.10L400.65 240.10M399.65 237.49L399.65 240.10M402.65 237.49L402.65 243.00M399.65 237.49L402.65 237.49M395.16 233.58L395.16 237.49M401.15 233.58L401.15 237.49M395.16 233.58L401.15 233.58M385.68 230.00L385.68 233.58M398.16 230.00L398.16 233.58M385.68 230.00L398.16 230.00M358.22 226.40L358.22 229.00M391.92 226.40L391.92 230.00M358.22 226.40L391.92 226.40M329.27 221.60L329.27 229.30M375.07 221.60L375.07 226.40M329.27 221.60L375.07 221.60M314.92 219.50L314.92 232.90M352.17 219.50L352.17 221.60M314.92 219.50L352.17 219.50M404.64 243.00L404.64 240.10M406.64 243.00L406.64 240.10M404.64 240.10L406.64 240.10M405.64 237.49L405.64 240.10M408.64 237.49L408.64 243.00M405.64 237.49L408.64 237.49M410.63 243.00L410.63 240.10M412.63 243.00L412.63 240.10M410.63 240.10L412.63 240.10M411.63 237.49L411.63 240.10M414.63 237.49L414.63 243.00M411.63 237.49L414.63 237.49M407.14 232.00L407.14 237.49M413.13 232.00L413.13 237.49M407.14 232.00L413.13 232.00M418.62 243.00L418.62 240.10M420.62 243.00L420.62 240.10M418.62 240.10L420.62 240.10M416.62 237.49L416.62 243.00M419.62 237.49L419.62 240.10M416.62 237.49L419.62 237.49M424.61 243.00L424.61 240.10M426.61 243.00L426.61 240.10M424.61 240.10L426.61 240.10M422.61 237.49L422.61 243.00M425.61 237.49L425.61 240.10M422.61 237.49L425.61 237.49M418.12 229.30L418.12 237.49M424.11 229.30L424.11 237.49M418.12 229.30L424.11 229.30M410.13 222.00L410.13 232.00M421.12 222.00L421.12 229.30M410.13 222.00L421.12 222.00M428.60 243.00L428.60 240.10M430.60 243.00L430.60 240.10M428.60 240.10L430.60 240.10M432.60 243.00L432.60 240.10M434.59 243.00L434.59 240.10M432.60 240.10L434.59 240.10M429.60 236.91L429.60 240.10M433.59 236.91L433.59 240.10M429.60 236.91L433.59 236.91M436.59 243.00L436.59 240.10M438.59 243.00L438.59 240.10M436.59 240.10L438.59 240.10M440.58 243.00L440.58 240.10M442.58 243.00L442.58 240.10M440.58 240.10L442.58 240.10M437.59 236.91L437.59 240.10M441.58 236.91L441.58 240.10M437.59 236.91L441.58 236.91M431.60 231.00L431.60 236.91M439.58 231.00L439.58 236.91M431.60 231.00L439.58 231.00M415.62 218.00L415.62 222.00M435.59 218.00L435.59 231.00M415.62 218.00L435.59 218.00M444.57 243.00L444.57 240.10M446.57 243.00L446.57 240.10M444.57 240.10L446.57 240.10M448.57 243.00L448.57 240.10M450.56 243.00L450.56 240.10M448.57 240.10L450.56 240.10M445.57 236.91L445.57 240.10M449.57 236.91L449.57 240.10M445.57 236.91L449.57 236.91M452.56 243.00L452.56 240.10M454.56 243.00L454.56 240.10M452.56 240.10L454.56 240.10M456.55 243.00L456.55 240.10M458.55 243.00L458.55 240.10M456.55 240.10L458.55 240.10M453.56 236.91L453.56 240.10M457.55 236.91L457.55 240.10M453.56 236.91L457.55 236.91M447.57 232.90L447.57 236.91M455.56 232.90L455.56 236.91M447.57 232.90L455.56 232.90M460.55 243.00L460.55 240.10M462.54 243.00L462.54 240.10M460.55 240.10L462.54 240.10M464.54 243.00L464.54 240.10M466.54 243.00L466.54 240.10M464.54 240.10L466.54 240.10M465.54 237.49L465.54 240.10M468.53 237.49L468.53 243.00M465.54 237.49L468.53 237.49M470.53 243.00L470.53 240.10M472.53 243.00L472.53 240.10M470.53 240.10L472.53 240.10M467.04 234.88L467.04 237.49M471.53 234.88L471.53 240.10M467.04 234.88L471.53 234.88M461.55 233.03L461.55 240.10M469.28 233.03L469.28 234.88M461.55 233.03L469.28 233.03M474.52 243.00L474.52 240.10M476.52 243.00L476.52 240.10M474.52 240.10L476.52 240.10M475.52 237.49L475.52 240.10M478.52 237.49L478.52 243.00M475.52 237.49L478.52 237.49M480.51 243.00L480.51 240.10M482.51 243.00L482.51 240.10M480.51 240.10L482.51 240.10M481.51 237.49L481.51 240.10M484.51 237.49L484.51 243.00M481.51 237.49L484.51 237.49M477.02 233.58L477.02 237.49M483.01 233.58L483.01 237.49M477.02 233.58L483.01 233.58M465.41 226.60L465.41 233.03M480.01 226.60L480.01 233.58M465.41 226.60L480.01 226.60M488.50 243.00L488.50 240.10M490.50 243.00L490.50 240.10M488.50 240.10L490.50 240.10M486.50 237.49L486.50 243.00M489.50 237.49L489.50 240.10M486.50 237.49L489.50 237.49M492.49 243.00L492.49 240.10M494.49 243.00L494.49 240.10M492.49 240.10L494.49 240.10M488.00 231.00L488.00 237.49M493.49 231.00L493.49 240.10M488.00 231.00L493.49 231.00M472.71 219.30L472.71 226.60M490.74 219.30L490.74 231.00M472.71 219.30L490.74 219.30M451.56 216.80L451.56 232.90M481.73 216.80L481.73 219.30M451.56 216.80L481.73 216.80M425.61 214.00L425.61 218.00M466.65 214.00L466.65 216.80M425.61 214.00L466.65 214.00M333.55 212.00L333.55 219.50M446.13 212.00L446.13 214.00M333.55 212.00L446.13 212.00M301.82 209.30L301.82 237.00M389.84 209.30L389.84 212.00M301.82 209.30L389.84 209.30M289.09 206.40L289.09 229.80M345.83 206.40L345.83 209.30M289.09 206.40L345.83 206.40M498.48 243.00L498.48 240.10M500.48 243.00L500.48 240.10M498.48 240.10L500.48 240.10M496.48 237.49L496.48 243.00M499.48 237.49L499.48 240.10M496.48 237.49L499.48 237.49M502.47 243.00L502.47 240.10M504.47 243.00L504.47 240.10M502.47 240.10L504.47 240.10M497.98 231.00L497.98 237.49M503.47 231.00L503.47 240.10M497.98 231.00L503.47 231.00M506.47 243.00L506.47 240.10M508.46 243.00L508.46 240.10M506.47 240.10L508.46 240.10M510.46 243.00L510.46 240.10M512.46 243.00L512.46 240.10M510.46 240.10L512.46 240.10M507.47 236.91L507.47 240.10M511.46 236.91L511.46 240.10M507.47 236.91L511.46 236.91M514.45 243.00L514.45 240.10M516.45 243.00L516.45 240.10M514.45 240.10L516.45 240.10M518.45 243.00L518.45 240.10M520.44 243.00L520.44 240.10M518.45 240.10L520.44 240.10M515.45 236.91L515.45 240.10M519.44 236.91L519.44 240.10M515.45 236.91L519.44 236.91M509.46 228.50L509.46 236.91M517.45 228.50L517.45 236.91M509.46 228.50L517.45 228.50M500.73 226.00L500.73 231.00M513.46 226.00L513.46 228.50M500.73 226.00L513.46 226.00M522.44 243.00L522.44 240.10M524.44 243.00L524.44 240.10M522.44 240.10L524.44 240.10M526.43 243.00L526.43 240.10M528.43 243.00L528.43 240.10M526.43 240.10L528.43 240.10M523.44 236.91L523.44 240.10M527.43 236.91L527.43 240.10M523.44 236.91L527.43 236.91M530.43 243.00L530.43 240.10M532.42 243.00L532.42 240.10M530.43 240.10L532.42 240.10M534.42 243.00L534.42 240.10M536.42 243.00L536.42 240.10M534.42 240.10L536.42 240.10M531.42 236.91L531.42 240.10M535.42 236.91L535.42 240.10M531.42 236.91L535.42 236.91M525.43 229.00L525.43 236.91M533.42 229.00L533.42 236.91M525.43 229.00L533.42 229.00M538.41 243.00L538.41 240.10M540.41 243.00L540.41 240.10M538.41 240.10L540.41 240.10M542.41 243.00L542.41 240.10M544.40 243.00L544.40 240.10M542.41 240.10L544.40 240.10M539.41 233.00L539.41 240.10M543.40 233.00L543.40 240.10M539.41 233.00L543.40 233.00M529.43 225.00L529.43 229.00M541.41 225.00L541.41 233.00M529.43 225.00L541.41 225.00M507.09 221.40L507.09 226.00M535.42 221.40L535.42 225.00M545.40 221.40L545.40 221.40M507.09 221.40L545.40 221.40M317.46 204.00L317.46 206.40M526.25 204.00L526.25 221.40M317.46 204.00L526.25 204.00M27.30 243.00L27.30 185.60M27.30 185.60L504.00 185.60M504.00 185.60L504.00 188.20M265.50 183.00L545.40 183.00M265.50 183.00L265.50 185.60M265.50 188.20L545.40 188.20M265.50 188.20L265.50 191.00M86.13 212.00L86.13 191.00M86.13 191.00L445.00 191.00M445.00 191.00L445.00 193.60M271.87 234.00L271.87 193.60M271.87 193.60L545.40 193.60M509.40 180.40L545.40 180.40M509.40 180.40L509.40 183.00M486.30 199.00L545.40 199.00M486.30 199.00L486.30 201.50M421.85 204.00L421.85 201.50M421.85 201.50L545.40 201.50" fill="none" stroke="#111" stroke-width="0.56"/><circle cx="51.51" cy="233.03" r="0.95" fill="#000"/><circle cx="44.27" cy="227.00" r="0.95" fill="#000"/><circle cx="82.20" cy="232.56" r="0.95" fill="#000"/><circle cx="78.21" cy="224.40" r="0.95" fill="#000"/><circle cx="61.24" cy="221.60" r="0.95" fill="#000"/><circle cx="126.88" cy="233.03" r="0.95" fill="#000"/><circle cx="129.87" cy="222.40" r="0.95" fill="#000"/><circle cx="150.09" cy="235.00" r="0.95" fill="#000"/><circle cx="194.26" cy="233.03" r="0.95" fill="#000"/><circle cx="224.27" cy="222.60" r="0.95" fill="#000"/><circle cx="204.62" cy="220.40" r="0.95" fill="#000"/><circle cx="256.68" cy="221.90" r="0.95" fill="#000"/><circle cx="86.13" cy="212.00" r="0.95" fill="#000"/><circle cx="271.87" cy="234.00" r="0.95" fill="#000"/><circle cx="289.09" cy="229.80" r="0.95" fill="#000"/><circle cx="301.82" cy="237.00" r="0.95" fill="#000"/><circle cx="310.06" cy="234.88" r="0.95" fill="#000"/><circle cx="314.92" cy="232.90" r="0.95" fill="#000"/><circle cx="329.27" cy="229.30" r="0.95" fill="#000"/><circle cx="358.22" cy="229.00" r="0.95" fill="#000"/><circle cx="391.92" cy="230.00" r="0.95" fill="#000"/><circle cx="421.12" cy="229.30" r="0.95" fill="#000"/><circle cx="451.56" cy="232.90" r="0.95" fill="#000"/><circle cx="472.71" cy="226.60" r="0.95" fill="#000"/><circle cx="490.74" cy="231.00" r="0.95" fill="#000"/><circle cx="389.84" cy="212.00" r="0.95" fill="#000"/><circle cx="317.46" cy="206.40" r="0.95" fill="#000"/><circle cx="500.73" cy="231.00" r="0.95" fill="#000"/><circle cx="529.43" cy="229.00" r="0.95" fill="#000"/><circle cx="265.50" cy="185.60" r="0.95" fill="#000"/><circle cx="265.50" cy="191.00" r="0.95" fill="#000"/><circle cx="445.00" cy="193.20" r="0.95" fill="#000"/><circle cx="32.29" cy="240.10" r="0.6" fill="#222"/><circle cx="38.28" cy="240.10" r="0.6" fill="#222"/><circle cx="42.27" cy="240.10" r="0.6" fill="#222"/><circle cx="46.27" cy="240.10" r="0.6" fill="#222"/><circle cx="50.26" cy="240.10" r="0.6" fill="#222"/><circle cx="56.25" cy="240.10" r="0.6" fill="#222"/><circle cx="60.24" cy="240.10" r="0.6" fill="#222"/><circle cx="64.23" cy="240.10" r="0.6" fill="#222"/><circle cx="68.23" cy="240.10" r="0.6" fill="#222"/><circle cx="72.22" cy="240.10" r="0.6" fill="#222"/><circle cx="76.21" cy="240.10" r="0.6" fill="#222"/><circle cx="80.21" cy="240.10" r="0.6" fill="#222"/><circle cx="84.20" cy="240.10" r="0.6" fill="#222"/><circle cx="88.19" cy="240.10" r="0.6" fill="#222"/><circle cx="92.19" cy="240.10" r="0.6" fill="#222"/><circle cx="96.18" cy="240.10" r="0.6" fill="#222"/><circle cx="100.17" cy="240.10" r="0.6" fill="#222"/><circle cx="104.16" cy="240.10" r="0.6" fill="#222"/><circle cx="110.15" cy="240.10" r="0.6" fill="#222"/><circle cx="114.15" cy="240.10" r="0.6" fill="#222"/><circle cx="118.14" cy="240.10" r="0.6" fill="#222"/><circle cx="122.13" cy="240.10" r="0.6" fill="#222"/><circle cx="128.12" cy="240.10" r="0.6" fill="#222"/><circle cx="132.12" cy="240.10" r="0.6" fill="#222"/><circle cx="136.11" cy="240.10" r="0.6" fill="#222"/><circle cx="144.10" cy="240.10" r="0.6" fill="#222"/><circle cx="148.09" cy="240.10" r="0.6" fill="#222"/><circle cx="152.08" cy="240.10" r="0.6" fill="#222"/><circle cx="156.08" cy="240.10" r="0.6" fill="#222"/><circle cx="160.07" cy="240.10" r="0.6" fill="#222"/><circle cx="166.06" cy="240.10" r="0.6" fill="#222"/><circle cx="170.05" cy="240.10" r="0.6" fill="#222"/><circle cx="174.04" cy="240.10" r="0.6" fill="#222"/><circle cx="180.03" cy="240.10" r="0.6" fill="#222"/><circle cx="184.03" cy="240.10" r="0.6" fill="#222"/><circle cx="192.01" cy="240.10" r="0.6" fill="#222"/><circle cx="196.01" cy="240.10" r="0.6" fill="#222"/><circle cx="200.00" cy="240.10" r="0.6" fill="#222"/><circle cx="205.99" cy="240.10" r="0.6" fill="#222"/><circle cx="213.97" cy="240.10" r="0.6" fill="#222"/><circle cx="219.96" cy="240.10" r="0.6" fill="#222"/><circle cx="223.96" cy="240.10" r="0.6" fill="#222"/><circle cx="227.95" cy="240.10" r="0.6" fill="#222"/><circle cx="231.94" cy="240.10" r="0.6" fill="#222"/><circle cx="235.94" cy="240.10" r="0.6" fill="#222"/><circle cx="239.93" cy="240.10" r="0.6" fill="#222"/><circle cx="243.92" cy="240.10" r="0.6" fill="#222"/><circle cx="247.92" cy="240.10" r="0.6" fill="#222"/><circle cx="253.91" cy="240.10" r="0.6" fill="#222"/><circle cx="257.90" cy="240.10" r="0.6" fill="#222"/><circle cx="261.89" cy="240.10" r="0.6" fill="#222"/><circle cx="269.88" cy="240.10" r="0.6" fill="#222"/><circle cx="273.87" cy="240.10" r="0.6" fill="#222"/><circle cx="279.86" cy="240.10" r="0.6" fill="#222"/><circle cx="285.85" cy="240.10" r="0.6" fill="#222"/><circle cx="291.84" cy="240.10" r="0.6" fill="#222"/><circle cx="295.83" cy="240.10" r="0.6" fill="#222"/><circle cx="299.83" cy="240.10" r="0.6" fill="#222"/><circle cx="303.82" cy="240.10" r="0.6" fill="#222"/><circle cx="307.81" cy="240.10" r="0.6" fill="#222"/><circle cx="313.80" cy="240.10" r="0.6" fill="#222"/><circle cx="317.79" cy="240.10" r="0.6" fill="#222"/><circle cx="321.79" cy="240.10" r="0.6" fill="#222"/><circle cx="327.78" cy="240.10" r="0.6" fill="#222"/><circle cx="333.77" cy="240.10" r="0.6" fill="#222"/><circle cx="337.76" cy="240.10" r="0.6" fill="#222"/><circle cx="345.75" cy="240.10" r="0.6" fill="#222"/><circle cx="349.74" cy="240.10" r="0.6" fill="#222"/><circle cx="355.73" cy="240.10" r="0.6" fill="#222"/><circle cx="361.72" cy="240.10" r="0.6" fill="#222"/><circle cx="365.71" cy="240.10" r="0.6" fill="#222"/><circle cx="371.70" cy="240.10" r="0.6" fill="#222"/><circle cx="377.69" cy="240.10" r="0.6" fill="#222"/><circle cx="381.68" cy="240.10" r="0.6" fill="#222"/><circle cx="389.67" cy="240.10" r="0.6" fill="#222"/><circle cx="393.66" cy="240.10" r="0.6" fill="#222"/><circle cx="399.65" cy="240.10" r="0.6" fill="#222"/><circle cx="405.64" cy="240.10" r="0.6" fill="#222"/><circle cx="411.63" cy="240.10" r="0.6" fill="#222"/><circle cx="419.62" cy="240.10" r="0.6" fill="#222"/><circle cx="425.61" cy="240.10" r="0.6" fill="#222"/><circle cx="429.60" cy="240.10" r="0.6" fill="#222"/><circle cx="433.59" cy="240.10" r="0.6" fill="#222"/><circle cx="437.59" cy="240.10" r="0.6" fill="#222"/><circle cx="441.58" cy="240.10" r="0.6" fill="#222"/><circle cx="445.57" cy="240.10" r="0.6" fill="#222"/><circle cx="449.57" cy="240.10" r="0.6" fill="#222"/><circle cx="453.56" cy="240.10" r="0.6" fill="#222"/><circle cx="457.55" cy="240.10" r="0.6" fill="#222"/><circle cx="461.55" cy="240.10" r="0.6" fill="#222"/><circle cx="465.54" cy="240.10" r="0.6" fill="#222"/><circle cx="471.53" cy="240.10" r="0.6" fill="#222"/><circle cx="475.52" cy="240.10" r="0.6" fill="#222"/><circle cx="481.51" cy="240.10" r="0.6" fill="#222"/><circle cx="489.50" cy="240.10" r="0.6" fill="#222"/><circle cx="493.49" cy="240.10" r="0.6" fill="#222"/><circle cx="499.48" cy="240.10" r="0.6" fill="#222"/><circle cx="503.47" cy="240.10" r="0.6" fill="#222"/><circle cx="507.47" cy="240.10" r="0.6" fill="#222"/><circle cx="511.46" cy="240.10" r="0.6" fill="#222"/><circle cx="515.45" cy="240.10" r="0.6" fill="#222"/><circle cx="519.44" cy="240.10" r="0.6" fill="#222"/><circle cx="523.44" cy="240.10" r="0.6" fill="#222"/><circle cx="527.43" cy="240.10" r="0.6" fill="#222"/><circle cx="531.42" cy="240.10" r="0.6" fill="#222"/><circle cx="535.42" cy="240.10" r="0.6" fill="#222"/><circle cx="539.41" cy="240.10" r="0.6" fill="#222"/><circle cx="543.40" cy="240.10" r="0.6" fill="#222"/>
<rect x="88.80" y="203.90" width="30.08" height="4.85" fill="#fff"/>
<text x="89.00" y="208.60" font-size="6.00" text-anchor="start" font-weight="normal" fill="#000" stroke="#000" stroke-width="0.16">GABAergic</text>
<rect x="27.20" y="220.30" width="18.74" height="4.85" fill="#fff"/>
<text x="27.40" y="225.00" font-size="6.00" text-anchor="start" font-weight="normal" fill="#000" stroke="#000" stroke-width="0.16">Lamp5</text>
<rect x="82.80" y="219.90" width="14.08" height="4.85" fill="#fff"/>
<text x="83.00" y="224.60" font-size="6.00" text-anchor="start" font-weight="normal" fill="#000" stroke="#000" stroke-width="0.16">Sncg</text>
<rect x="129.80" y="217.30" width="8.96" height="4.85" fill="#fff"/>
<text x="130.00" y="222.00" font-size="6.00" text-anchor="start" font-weight="normal" fill="#000" stroke="#000" stroke-width="0.16">Vip</text>
<rect x="193.80" y="217.50" width="9.07" height="4.85" fill="#fff"/>
<text x="194.00" y="222.20" font-size="6.00" text-anchor="start" font-weight="normal" fill="#000" stroke="#000" stroke-width="0.16">Sst</text>
<rect x="256.40" y="215.50" width="12.07" height="4.85" fill="#fff"/>
<text x="256.60" y="220.20" font-size="6.00" text-anchor="start" font-weight="normal" fill="#000" stroke="#000" stroke-width="0.16">Pval</text>
<rect x="256.40" y="222.20" width="3.74" height="4.85" fill="#fff"/>
<text x="256.60" y="226.90" font-size="6.00" text-anchor="start" font-weight="normal" fill="#000" stroke="#000" stroke-width="0.16">b</text>
<rect x="290.20" y="223.80" width="19.07" height="4.85" fill="#fff"/>
<text x="290.40" y="228.50" font-size="6.00" text-anchor="start" font-weight="normal" fill="#000" stroke="#000" stroke-width="0.16">L2/3 IT</text>
<rect x="330.30" y="223.30" width="26.40" height="4.85" fill="#fff"/>
<text x="330.50" y="228.00" font-size="6.00" text-anchor="start" font-weight="normal" fill="#000" stroke="#000" stroke-width="0.16" textLength="26">L2/3 IT Ent</text>
<rect x="394.00" y="223.80" width="29.00" height="4.85" fill="#fff"/>
<text x="394.20" y="228.50" font-size="6.00" text-anchor="start" font-weight="normal" fill="#000" stroke="#000" stroke-width="0.16" textLength="28.6">L2/3 IT CTX</text>
<rect x="459.50" y="218.80" width="27.63" height="4.85" fill="#fff"/>
<text x="459.70" y="223.50" font-size="6.00" text-anchor="start" font-weight="normal" fill="#000" stroke="#000" stroke-width="0.16">L6 IT CTX</text>
<rect x="520.20" y="219.80" width="27.63" height="4.85" fill="#fff"/>
<text x="520.40" y="224.50" font-size="6.00" text-anchor="start" font-weight="normal" fill="#000" stroke="#000" stroke-width="0.16">L5 IT CTX</text>
<rect x="446.80" y="185.30" width="37.75" height="4.85" fill="#fff"/>
<text x="447.00" y="190.00" font-size="6.00" text-anchor="start" font-weight="normal" fill="#000" stroke="#000" stroke-width="0.16">Glutamatergic</text>
<text transform="translate(28.21 253.20) rotate(90)" font-size="3.0" font-weight="bold" fill="#999" stroke="#999" stroke-width="0.4" textLength="3.40" lengthAdjust="spacingAndGlyphs">6bL5</text>
<text transform="translate(30.21 253.20) rotate(90)" font-size="3.0" font-weight="bold" fill="#8a8a8a" stroke="#8a8a8a" stroke-width="0.4" textLength="3.20" lengthAdjust="spacingAndGlyphs">RSPA</text>
<text transform="translate(32.21 253.20) rotate(90)" font-size="3.0" font-weight="bold" fill="#999" stroke="#999" stroke-width="0.4" textLength="1.20" lengthAdjust="spacingAndGlyphs">HP</text>
<text transform="translate(36.20 253.20) rotate(90)" font-size="3.0" font-weight="bold" fill="#999" stroke="#999" stroke-width="0.4" textLength="1.20" lengthAdjust="spacingAndGlyphs">CT</text>
<text transform="translate(38.20 253.20) rotate(90)" font-size="3.0" font-weight="bold" fill="#8a8a8a" stroke="#8a8a8a" stroke-width="0.4" textLength="4.50" lengthAdjust="spacingAndGlyphs">BL6bL</text>
<text transform="translate(40.19 253.20) rotate(90)" font-size="3.0" font-weight="bold" fill="#999" stroke="#999" stroke-width="0.4" textLength="2.80" lengthAdjust="spacingAndGlyphs">p5P</text>
<text transform="translate(42.19 253.20) rotate(90)" font-size="3.0" font-weight="bold" fill="#8a8a8a" stroke="#8a8a8a" stroke-width="0.4" textLength="4.50" lengthAdjust="spacingAndGlyphs">5PTNP</text>
<text transform="translate(44.19 253.20) rotate(90)" font-size="3.0" font-weight="bold" fill="#999" stroke="#999" stroke-width="0.4" textLength="1.20" lengthAdjust="spacingAndGlyphs">Sn</text>
<text transform="translate(56.17 253.20) rotate(90)" font-size="3.0" font-weight="bold" fill="#999" stroke="#999" stroke-width="0.4" textLength="3.40" lengthAdjust="spacingAndGlyphs">cgL6</text>
<text transform="translate(58.16 253.20) rotate(90)" font-size="3.0" font-weight="bold" fill="#999" stroke="#999" stroke-width="0.4" textLength="1.20" lengthAdjust="spacingAndGlyphs">CR</text>
<text transform="translate(62.16 253.20) rotate(90)" font-size="3.0" font-weight="bold" fill="#999" stroke="#999" stroke-width="0.4" textLength="1.20" lengthAdjust="spacingAndGlyphs">5P</text>
<text transform="translate(70.14 253.20) rotate(90)" font-size="3.0" font-weight="bold" fill="#999" stroke="#999" stroke-width="0.4" textLength="2.80" lengthAdjust="spacingAndGlyphs">Vip</text>
<text transform="translate(72.14 253.20) rotate(90)" font-size="3.0" font-weight="bold" fill="#999" stroke="#999" stroke-width="0.4" textLength="1.20" lengthAdjust="spacingAndGlyphs">L4</text>
<text transform="translate(74.14 253.20) rotate(90)" font-size="3.0" font-weight="bold" fill="#999" stroke="#999" stroke-width="0.4" textLength="3.40" lengthAdjust="spacingAndGlyphs">tSst</text>
<text transform="translate(76.13 253.20) rotate(90)" font-size="3.0" font-weight="bold" fill="#999" stroke="#999" stroke-width="0.4" textLength="2.00" lengthAdjust="spacingAndGlyphs">2C</text>
<text transform="translate(82.12 253.20) rotate(90)" font-size="3.0" font-weight="bold" fill="#999" stroke="#999" stroke-width="0.4" textLength="3.40" lengthAdjust="spacingAndGlyphs">SUBL</text>
<text transform="translate(86.11 253.20) rotate(90)" font-size="3.0" font-weight="bold" fill="#999" stroke="#999" stroke-width="0.4" textLength="2.40" lengthAdjust="spacingAndGlyphs">tVi</text>
<text transform="translate(90.11 253.20) rotate(90)" font-size="3.0" font-weight="bold" fill="#999" stroke="#999" stroke-width="0.4" textLength="2.80" lengthAdjust="spacingAndGlyphs">TL4</text>
<text transform="translate(92.10 253.20) rotate(90)" font-size="3.0" font-weight="bold" fill="#999" stroke="#999" stroke-width="0.4" textLength="2.80" lengthAdjust="spacingAndGlyphs">Car</text>
<text transform="translate(94.10 253.20) rotate(90)" font-size="3.0" font-weight="bold" fill="#999" stroke="#999" stroke-width="0.4" textLength="1.20" lengthAdjust="spacingAndGlyphs">SP</text>
<text transform="translate(96.10 253.20) rotate(90)" font-size="3.0" font-weight="bold" fill="#999" stroke="#999" stroke-width="0.4" textLength="3.40" lengthAdjust="spacingAndGlyphs">stVi</text>
<text transform="translate(98.09 253.20) rotate(90)" font-size="3.0" font-weight="bold" fill="#999" stroke="#999" stroke-width="0.4" textLength="2.80" lengthAdjust="spacingAndGlyphs">lut</text>
<text transform="translate(102.09 253.20) rotate(90)" font-size="3.0" font-weight="bold" fill="#999" stroke="#999" stroke-width="0.4" textLength="1.20" lengthAdjust="spacingAndGlyphs">Gl</text>
<text transform="translate(104.08 253.20) rotate(90)" font-size="3.0" font-weight="bold" fill="#999" stroke="#999" stroke-width="0.4" textLength="1.60" lengthAdjust="spacingAndGlyphs">Ss</text>
<text transform="translate(108.08 253.20) rotate(90)" font-size="3.0" font-weight="bold" fill="#8a8a8a" stroke="#8a8a8a" stroke-width="0.4" textLength="4.00" lengthAdjust="spacingAndGlyphs">GABAM</text>
<text transform="translate(110.07 253.20) rotate(90)" font-size="3.0" font-weight="bold" fill="#999" stroke="#999" stroke-width="0.4" textLength="1.60" lengthAdjust="spacingAndGlyphs">4I</text>
<text transform="translate(112.07 253.20) rotate(90)" font-size="3.0" font-weight="bold" fill="#8a8a8a" stroke="#8a8a8a" stroke-width="0.4" textLength="3.00" lengthAdjust="spacingAndGlyphs">ITCT</text>
<text transform="translate(116.06 253.20) rotate(90)" font-size="3.0" font-weight="bold" fill="#999" stroke="#999" stroke-width="0.4" textLength="2.40" lengthAdjust="spacingAndGlyphs">ACA</text>
<text transform="translate(118.06 253.20) rotate(90)" font-size="3.0" font-weight="bold" fill="#999" stroke="#999" stroke-width="0.4" textLength="1.60" lengthAdjust="spacingAndGlyphs">bS</text>
<text transform="translate(120.06 253.20) rotate(90)" font-size="3.0" font-weight="bold" fill="#999" stroke="#999" stroke-width="0.4" textLength="3.40" lengthAdjust="spacingAndGlyphs">TNPC</text>
<text transform="translate(122.05 253.20) rotate(90)" font-size="3.0" font-weight="bold" fill="#999" stroke="#999" stroke-width="0.4" textLength="3.40" lengthAdjust="spacingAndGlyphs">CTL5</text>
<text transform="translate(124.05 253.20) rotate(90)" font-size="3.0" font-weight="bold" fill="#999" stroke="#999" stroke-width="0.4" textLength="1.60" lengthAdjust="spacingAndGlyphs">GA</text>
<text transform="translate(128.04 253.20) rotate(90)" font-size="3.0" font-weight="bold" fill="#8a8a8a" stroke="#8a8a8a" stroke-width="0.4" textLength="5.00" lengthAdjust="spacingAndGlyphs">roSUBL</text>
<text transform="translate(130.04 253.20) rotate(90)" font-size="3.0" font-weight="bold" fill="#999" stroke="#999" stroke-width="0.4" textLength="2.80" lengthAdjust="spacingAndGlyphs">RHP</text>
<text transform="translate(134.03 253.20) rotate(90)" font-size="3.0" font-weight="bold" fill="#999" stroke="#999" stroke-width="0.4" textLength="1.60" lengthAdjust="spacingAndGlyphs">5P</text>
<text transform="translate(136.03 253.20) rotate(90)" font-size="3.0" font-weight="bold" fill="#999" stroke="#999" stroke-width="0.4" textLength="1.20" lengthAdjust="spacingAndGlyphs">CA</text>
<text transform="translate(138.02 253.20) rotate(90)" font-size="3.0" font-weight="bold" fill="#8a8a8a" stroke="#8a8a8a" stroke-width="0.4" textLength="3.00" lengthAdjust="spacingAndGlyphs">TL4I</text>
<text transform="translate(144.01 253.20) rotate(90)" font-size="3.0" font-weight="bold" fill="#999" stroke="#999" stroke-width="0.4" textLength="1.60" lengthAdjust="spacingAndGlyphs">cg</text>
<text transform="translate(146.01 253.20) rotate(90)" font-size="3.0" font-weight="bold" fill="#999" stroke="#999" stroke-width="0.4" textLength="2.40" lengthAdjust="spacingAndGlyphs">Mei</text>
<text transform="translate(148.01 253.20) rotate(90)" font-size="3.0" font-weight="bold" fill="#999" stroke="#999" stroke-width="0.4" textLength="1.60" lengthAdjust="spacingAndGlyphs">pL</text>
<text transform="translate(152.00 253.20) rotate(90)" font-size="3.0" font-weight="bold" fill="#999" stroke="#999" stroke-width="0.4" textLength="2.80" lengthAdjust="spacingAndGlyphs">Pro</text>
<text transform="translate(154.00 253.20) rotate(90)" font-size="3.0" font-weight="bold" fill="#999" stroke="#999" stroke-width="0.4" textLength="2.00" lengthAdjust="spacingAndGlyphs">bL</text>
<text transform="translate(157.99 253.20) rotate(90)" font-size="3.0" font-weight="bold" fill="#8a8a8a" stroke="#8a8a8a" stroke-width="0.4" textLength="3.00" lengthAdjust="spacingAndGlyphs">L5ET</text>
<text transform="translate(163.98 253.20) rotate(90)" font-size="3.0" font-weight="bold" fill="#999" stroke="#999" stroke-width="0.4" textLength="1.20" lengthAdjust="spacingAndGlyphs">4I</text>
<text transform="translate(165.98 253.20) rotate(90)" font-size="3.0" font-weight="bold" fill="#999" stroke="#999" stroke-width="0.4" textLength="2.80" lengthAdjust="spacingAndGlyphs">TCT</text>
<text transform="translate(167.97 253.20) rotate(90)" font-size="3.0" font-weight="bold" fill="#999" stroke="#999" stroke-width="0.4" textLength="3.40" lengthAdjust="spacingAndGlyphs">RSPA</text>
<text transform="translate(169.97 253.20) rotate(90)" font-size="3.0" font-weight="bold" fill="#999" stroke="#999" stroke-width="0.4" textLength="2.00" lengthAdjust="spacingAndGlyphs">L6</text>
<text transform="translate(171.97 253.20) rotate(90)" font-size="3.0" font-weight="bold" fill="#999" stroke="#999" stroke-width="0.4" textLength="2.80" lengthAdjust="spacingAndGlyphs">Car</text>
<text transform="translate(173.96 253.20) rotate(90)" font-size="3.0" font-weight="bold" fill="#999" stroke="#999" stroke-width="0.4" textLength="1.60" lengthAdjust="spacingAndGlyphs">PC</text>
<text transform="translate(175.96 253.20) rotate(90)" font-size="3.0" font-weight="bold" fill="#999" stroke="#999" stroke-width="0.4" textLength="1.60" lengthAdjust="spacingAndGlyphs">mp</text>
<text transform="translate(177.96 253.20) rotate(90)" font-size="3.0" font-weight="bold" fill="#999" stroke="#999" stroke-width="0.4" textLength="2.00" lengthAdjust="spacingAndGlyphs">AM</text>
<text transform="translate(179.95 253.20) rotate(90)" font-size="3.0" font-weight="bold" fill="#999" stroke="#999" stroke-width="0.4" textLength="1.60" lengthAdjust="spacingAndGlyphs">oS</text>
<text transform="translate(185.94 253.20) rotate(90)" font-size="3.0" font-weight="bold" fill="#999" stroke="#999" stroke-width="0.4" textLength="1.20" lengthAdjust="spacingAndGlyphs">Ca</text>
<text transform="translate(197.92 253.20) rotate(90)" font-size="3.0" font-weight="bold" fill="#999" stroke="#999" stroke-width="0.4" textLength="2.40" lengthAdjust="spacingAndGlyphs">5Pv</text>
<text transform="translate(199.92 253.20) rotate(90)" font-size="3.0" font-weight="bold" fill="#999" stroke="#999" stroke-width="0.4" textLength="3.40" lengthAdjust="spacingAndGlyphs">eis2</text>
<text transform="translate(201.91 253.20) rotate(90)" font-size="3.0" font-weight="bold" fill="#999" stroke="#999" stroke-width="0.4" textLength="2.40" lengthAdjust="spacingAndGlyphs">BAM</text>
<text transform="translate(205.91 253.20) rotate(90)" font-size="3.0" font-weight="bold" fill="#999" stroke="#999" stroke-width="0.4" textLength="1.60" lengthAdjust="spacingAndGlyphs">6C</text>
<text transform="translate(207.90 253.20) rotate(90)" font-size="3.0" font-weight="bold" fill="#999" stroke="#999" stroke-width="0.4" textLength="2.00" lengthAdjust="spacingAndGlyphs">L6</text>
<text transform="translate(217.89 253.20) rotate(90)" font-size="3.0" font-weight="bold" fill="#999" stroke="#999" stroke-width="0.4" textLength="3.40" lengthAdjust="spacingAndGlyphs">cgL6</text>
<text transform="translate(221.88 253.20) rotate(90)" font-size="3.0" font-weight="bold" fill="#999" stroke="#999" stroke-width="0.4" textLength="3.40" lengthAdjust="spacingAndGlyphs">pLam</text>
<text transform="translate(223.88 253.20) rotate(90)" font-size="3.0" font-weight="bold" fill="#999" stroke="#999" stroke-width="0.4" textLength="2.40" lengthAdjust="spacingAndGlyphs">arR</text>
<text transform="translate(225.87 253.20) rotate(90)" font-size="3.0" font-weight="bold" fill="#999" stroke="#999" stroke-width="0.4" textLength="3.40" lengthAdjust="spacingAndGlyphs">eis2</text>
<text transform="translate(229.87 253.20) rotate(90)" font-size="3.0" font-weight="bold" fill="#999" stroke="#999" stroke-width="0.4" textLength="2.80" lengthAdjust="spacingAndGlyphs">gL6</text>
<text transform="translate(237.85 253.20) rotate(90)" font-size="3.0" font-weight="bold" fill="#8a8a8a" stroke="#8a8a8a" stroke-width="0.4" textLength="4.00" lengthAdjust="spacingAndGlyphs">RHPCP</text>
<text transform="translate(241.84 253.20) rotate(90)" font-size="3.0" font-weight="bold" fill="#999" stroke="#999" stroke-width="0.4" textLength="3.40" lengthAdjust="spacingAndGlyphs">albS</text>
<text transform="translate(245.84 253.20) rotate(90)" font-size="3.0" font-weight="bold" fill="#8a8a8a" stroke="#8a8a8a" stroke-width="0.4" textLength="5.00" lengthAdjust="spacingAndGlyphs">TL5PTN</text>
<text transform="translate(247.83 253.20) rotate(90)" font-size="3.0" font-weight="bold" fill="#999" stroke="#999" stroke-width="0.4" textLength="3.40" lengthAdjust="spacingAndGlyphs">TNPC</text>
<text transform="translate(251.83 253.20) rotate(90)" font-size="3.0" font-weight="bold" fill="#999" stroke="#999" stroke-width="0.4" textLength="1.60" lengthAdjust="spacingAndGlyphs">ET</text>
<text transform="translate(257.82 253.20) rotate(90)" font-size="3.0" font-weight="bold" fill="#8a8a8a" stroke="#8a8a8a" stroke-width="0.4" textLength="5.00" lengthAdjust="spacingAndGlyphs">mp5Pva</text>
<text transform="translate(265.80 253.20) rotate(90)" font-size="3.0" font-weight="bold" fill="#999" stroke="#999" stroke-width="0.4" textLength="3.40" lengthAdjust="spacingAndGlyphs">mp5P</text>
<text transform="translate(269.80 253.20) rotate(90)" font-size="3.0" font-weight="bold" fill="#999" stroke="#999" stroke-width="0.4" textLength="1.20" lengthAdjust="spacingAndGlyphs">L6</text>
<text transform="translate(271.79 253.20) rotate(90)" font-size="3.0" font-weight="bold" fill="#999" stroke="#999" stroke-width="0.4" textLength="2.00" lengthAdjust="spacingAndGlyphs">Ca</text>
<text transform="translate(277.78 253.20) rotate(90)" font-size="3.0" font-weight="bold" fill="#999" stroke="#999" stroke-width="0.4" textLength="1.20" lengthAdjust="spacingAndGlyphs">L5</text>
<text transform="translate(279.78 253.20) rotate(90)" font-size="3.0" font-weight="bold" fill="#999" stroke="#999" stroke-width="0.4" textLength="1.20" lengthAdjust="spacingAndGlyphs">PC</text>
<text transform="translate(281.78 253.20) rotate(90)" font-size="3.0" font-weight="bold" fill="#999" stroke="#999" stroke-width="0.4" textLength="1.20" lengthAdjust="spacingAndGlyphs">RS</text>
<text transform="translate(283.77 253.20) rotate(90)" font-size="3.0" font-weight="bold" fill="#999" stroke="#999" stroke-width="0.4" textLength="2.00" lengthAdjust="spacingAndGlyphs">p5</text>
<text transform="translate(289.76 253.20) rotate(90)" font-size="3.0" font-weight="bold" fill="#999" stroke="#999" stroke-width="0.4" textLength="2.80" lengthAdjust="spacingAndGlyphs">gL6</text>
<text transform="translate(297.75 253.20) rotate(90)" font-size="3.0" font-weight="bold" fill="#999" stroke="#999" stroke-width="0.4" textLength="2.40" lengthAdjust="spacingAndGlyphs">Car</text>
<text transform="translate(305.73 253.20) rotate(90)" font-size="3.0" font-weight="bold" fill="#999" stroke="#999" stroke-width="0.4" textLength="2.80" lengthAdjust="spacingAndGlyphs">alb</text>
<text transform="translate(307.73 253.20) rotate(90)" font-size="3.0" font-weight="bold" fill="#999" stroke="#999" stroke-width="0.4" textLength="3.40" lengthAdjust="spacingAndGlyphs">CTL5</text>
<text transform="translate(311.72 253.20) rotate(90)" font-size="3.0" font-weight="bold" fill="#999" stroke="#999" stroke-width="0.4" textLength="2.80" lengthAdjust="spacingAndGlyphs">tVi</text>
<text transform="translate(317.71 253.20) rotate(90)" font-size="3.0" font-weight="bold" fill="#999" stroke="#999" stroke-width="0.4" textLength="2.40" lengthAdjust="spacingAndGlyphs">5Pv</text>
<text transform="translate(325.70 253.20) rotate(90)" font-size="3.0" font-weight="bold" fill="#999" stroke="#999" stroke-width="0.4" textLength="1.60" lengthAdjust="spacingAndGlyphs">tV</text>
<text transform="translate(333.69 253.20) rotate(90)" font-size="3.0" font-weight="bold" fill="#999" stroke="#999" stroke-width="0.4" textLength="2.80" lengthAdjust="spacingAndGlyphs">lbS</text>
<text transform="translate(335.68 253.20) rotate(90)" font-size="3.0" font-weight="bold" fill="#999" stroke="#999" stroke-width="0.4" textLength="1.20" lengthAdjust="spacingAndGlyphs">AG</text>
<text transform="translate(339.67 253.20) rotate(90)" font-size="3.0" font-weight="bold" fill="#8a8a8a" stroke="#8a8a8a" stroke-width="0.4" textLength="3.00" lengthAdjust="spacingAndGlyphs">mp5P</text>
<text transform="translate(341.67 253.20) rotate(90)" font-size="3.0" font-weight="bold" fill="#999" stroke="#999" stroke-width="0.4" textLength="1.20" lengthAdjust="spacingAndGlyphs">am</text>
<text transform="translate(345.66 253.20) rotate(90)" font-size="3.0" font-weight="bold" fill="#999" stroke="#999" stroke-width="0.4" textLength="2.80" lengthAdjust="spacingAndGlyphs">TNP</text>
<text transform="translate(347.66 253.20) rotate(90)" font-size="3.0" font-weight="bold" fill="#999" stroke="#999" stroke-width="0.4" textLength="1.20" lengthAdjust="spacingAndGlyphs">TN</text>
<text transform="translate(351.65 253.20) rotate(90)" font-size="3.0" font-weight="bold" fill="#999" stroke="#999" stroke-width="0.4" textLength="2.80" lengthAdjust="spacingAndGlyphs">ABA</text>
<text transform="translate(353.65 253.20) rotate(90)" font-size="3.0" font-weight="bold" fill="#999" stroke="#999" stroke-width="0.4" textLength="2.40" lengthAdjust="spacingAndGlyphs">L5P</text>
<text transform="translate(355.65 253.20) rotate(90)" font-size="3.0" font-weight="bold" fill="#999" stroke="#999" stroke-width="0.4" textLength="2.40" lengthAdjust="spacingAndGlyphs">lbS</text>
<text transform="translate(357.64 253.20) rotate(90)" font-size="3.0" font-weight="bold" fill="#999" stroke="#999" stroke-width="0.4" textLength="2.00" lengthAdjust="spacingAndGlyphs">tV</text>
<text transform="translate(359.64 253.20) rotate(90)" font-size="3.0" font-weight="bold" fill="#999" stroke="#999" stroke-width="0.4" textLength="2.40" lengthAdjust="spacingAndGlyphs">L4I</text>
<text transform="translate(363.63 253.20) rotate(90)" font-size="3.0" font-weight="bold" fill="#999" stroke="#999" stroke-width="0.4" textLength="2.40" lengthAdjust="spacingAndGlyphs">tVi</text>
<text transform="translate(369.62 253.20) rotate(90)" font-size="3.0" font-weight="bold" fill="#999" stroke="#999" stroke-width="0.4" textLength="1.20" lengthAdjust="spacingAndGlyphs">L5</text>
<text transform="translate(371.62 253.20) rotate(90)" font-size="3.0" font-weight="bold" fill="#999" stroke="#999" stroke-width="0.4" textLength="1.60" lengthAdjust="spacingAndGlyphs">bS</text>
<text transform="translate(373.62 253.20) rotate(90)" font-size="3.0" font-weight="bold" fill="#999" stroke="#999" stroke-width="0.4" textLength="3.40" lengthAdjust="spacingAndGlyphs">AGlu</text>
<text transform="translate(375.61 253.20) rotate(90)" font-size="3.0" font-weight="bold" fill="#999" stroke="#999" stroke-width="0.4" textLength="3.40" lengthAdjust="spacingAndGlyphs">eis2</text>
<text transform="translate(377.61 253.20) rotate(90)" font-size="3.0" font-weight="bold" fill="#999" stroke="#999" stroke-width="0.4" textLength="2.80" lengthAdjust="spacingAndGlyphs">TCT</text>
<text transform="translate(379.61 253.20) rotate(90)" font-size="3.0" font-weight="bold" fill="#999" stroke="#999" stroke-width="0.4" textLength="2.40" lengthAdjust="spacingAndGlyphs">23I</text>
<text transform="translate(383.60 253.20) rotate(90)" font-size="3.0" font-weight="bold" fill="#999" stroke="#999" stroke-width="0.4" textLength="2.80" lengthAdjust="spacingAndGlyphs">lut</text>
<text transform="translate(393.58 253.20) rotate(90)" font-size="3.0" font-weight="bold" fill="#8a8a8a" stroke="#8a8a8a" stroke-width="0.4" textLength="8.00" lengthAdjust="spacingAndGlyphs">ABAMeis2C</text>
<text transform="translate(395.58 253.20) rotate(90)" font-size="3.0" font-weight="bold" fill="#999" stroke="#999" stroke-width="0.4" textLength="3.40" lengthAdjust="spacingAndGlyphs">ncgL</text>
<text transform="translate(397.57 253.20) rotate(90)" font-size="3.0" font-weight="bold" fill="#999" stroke="#999" stroke-width="0.4" textLength="2.80" lengthAdjust="spacingAndGlyphs">RHP</text>
<text transform="translate(405.56 253.20) rotate(90)" font-size="3.0" font-weight="bold" fill="#8a8a8a" stroke="#8a8a8a" stroke-width="0.4" textLength="8.50" lengthAdjust="spacingAndGlyphs">PTNPCarRSP</text>
<text transform="translate(409.55 253.20) rotate(90)" font-size="3.0" font-weight="bold" fill="#8a8a8a" stroke="#8a8a8a" stroke-width="0.4" textLength="3.50" lengthAdjust="spacingAndGlyphs">eis2</text>
<text transform="translate(411.55 253.20) rotate(90)" font-size="3.0" font-weight="bold" fill="#999" stroke="#999" stroke-width="0.4" textLength="1.60" lengthAdjust="spacingAndGlyphs">3I</text>
<text transform="translate(413.55 253.20) rotate(90)" font-size="3.0" font-weight="bold" fill="#8a8a8a" stroke="#8a8a8a" stroke-width="0.4" textLength="3.00" lengthAdjust="spacingAndGlyphs">amp5</text>
<text transform="translate(415.54 253.20) rotate(90)" font-size="3.0" font-weight="bold" fill="#8a8a8a" stroke="#8a8a8a" stroke-width="0.4" textLength="2.50" lengthAdjust="spacingAndGlyphs">6CT</text>
<text transform="translate(421.53 253.20) rotate(90)" font-size="3.0" font-weight="bold" fill="#8a8a8a" stroke="#8a8a8a" stroke-width="0.4" textLength="4.50" lengthAdjust="spacingAndGlyphs">L5ETL</text>
<text transform="translate(425.53 253.20) rotate(90)" font-size="3.0" font-weight="bold" fill="#8a8a8a" stroke="#8a8a8a" stroke-width="0.4" textLength="4.00" lengthAdjust="spacingAndGlyphs">lutGA</text>
<text transform="translate(427.52 253.20) rotate(90)" font-size="3.0" font-weight="bold" fill="#999" stroke="#999" stroke-width="0.4" textLength="3.40" lengthAdjust="spacingAndGlyphs">L23I</text>
<text transform="translate(429.52 253.20) rotate(90)" font-size="3.0" font-weight="bold" fill="#8a8a8a" stroke="#8a8a8a" stroke-width="0.4" textLength="3.00" lengthAdjust="spacingAndGlyphs">L6CT</text>
<text transform="translate(433.51 253.20) rotate(90)" font-size="3.0" font-weight="bold" fill="#999" stroke="#999" stroke-width="0.4" textLength="1.60" lengthAdjust="spacingAndGlyphs">AB</text>
<text transform="translate(435.51 253.20) rotate(90)" font-size="3.0" font-weight="bold" fill="#999" stroke="#999" stroke-width="0.4" textLength="2.00" lengthAdjust="spacingAndGlyphs">BL</text>
<text transform="translate(439.50 253.20) rotate(90)" font-size="3.0" font-weight="bold" fill="#999" stroke="#999" stroke-width="0.4" textLength="1.60" lengthAdjust="spacingAndGlyphs">6b</text>
<text transform="translate(443.49 253.20) rotate(90)" font-size="3.0" font-weight="bold" fill="#8a8a8a" stroke="#8a8a8a" stroke-width="0.4" textLength="3.00" lengthAdjust="spacingAndGlyphs">tGAB</text>
<text transform="translate(445.49 253.20) rotate(90)" font-size="3.0" font-weight="bold" fill="#999" stroke="#999" stroke-width="0.4" textLength="1.60" lengthAdjust="spacingAndGlyphs">cg</text>
<text transform="translate(447.49 253.20) rotate(90)" font-size="3.0" font-weight="bold" fill="#999" stroke="#999" stroke-width="0.4" textLength="1.20" lengthAdjust="spacingAndGlyphs">4I</text>
<text transform="translate(449.48 253.20) rotate(90)" font-size="3.0" font-weight="bold" fill="#999" stroke="#999" stroke-width="0.4" textLength="1.20" lengthAdjust="spacingAndGlyphs">L6</text>
<text transform="translate(451.48 253.20) rotate(90)" font-size="3.0" font-weight="bold" fill="#8a8a8a" stroke="#8a8a8a" stroke-width="0.4" textLength="3.00" lengthAdjust="spacingAndGlyphs">cgL6</text>
<text transform="translate(453.48 253.20) rotate(90)" font-size="3.0" font-weight="bold" fill="#999" stroke="#999" stroke-width="0.4" textLength="2.40" lengthAdjust="spacingAndGlyphs">val</text>
<text transform="translate(459.47 253.20) rotate(90)" font-size="3.0" font-weight="bold" fill="#999" stroke="#999" stroke-width="0.4" textLength="3.40" lengthAdjust="spacingAndGlyphs">ipLa</text>
<text transform="translate(463.46 253.20) rotate(90)" font-size="3.0" font-weight="bold" fill="#999" stroke="#999" stroke-width="0.4" textLength="1.60" lengthAdjust="spacingAndGlyphs">Me</text>
<text transform="translate(465.46 253.20) rotate(90)" font-size="3.0" font-weight="bold" fill="#8a8a8a" stroke="#8a8a8a" stroke-width="0.4" textLength="3.00" lengthAdjust="spacingAndGlyphs">ABAM</text>
<text transform="translate(469.45 253.20) rotate(90)" font-size="3.0" font-weight="bold" fill="#999" stroke="#999" stroke-width="0.4" textLength="2.00" lengthAdjust="spacingAndGlyphs">PC</text>
<text transform="translate(471.45 253.20) rotate(90)" font-size="3.0" font-weight="bold" fill="#8a8a8a" stroke="#8a8a8a" stroke-width="0.4" textLength="3.00" lengthAdjust="spacingAndGlyphs">CTL5</text>
<text transform="translate(473.44 253.20) rotate(90)" font-size="3.0" font-weight="bold" fill="#999" stroke="#999" stroke-width="0.4" textLength="2.80" lengthAdjust="spacingAndGlyphs">TL4</text>
<text transform="translate(477.44 253.20) rotate(90)" font-size="3.0" font-weight="bold" fill="#999" stroke="#999" stroke-width="0.4" textLength="3.40" lengthAdjust="spacingAndGlyphs">stVi</text>
<text transform="translate(481.43 253.20) rotate(90)" font-size="3.0" font-weight="bold" fill="#8a8a8a" stroke="#8a8a8a" stroke-width="0.4" textLength="9.00" lengthAdjust="spacingAndGlyphs">tGABAMeis2C</text>
<text transform="translate(485.42 253.20) rotate(90)" font-size="3.0" font-weight="bold" fill="#999" stroke="#999" stroke-width="0.4" textLength="1.20" lengthAdjust="spacingAndGlyphs">L6</text>
<text transform="translate(487.42 253.20) rotate(90)" font-size="3.0" font-weight="bold" fill="#999" stroke="#999" stroke-width="0.4" textLength="2.80" lengthAdjust="spacingAndGlyphs">lut</text>
<text transform="translate(493.41 253.20) rotate(90)" font-size="3.0" font-weight="bold" fill="#999" stroke="#999" stroke-width="0.4" textLength="1.60" lengthAdjust="spacingAndGlyphs">TL</text>
<text transform="translate(495.40 253.20) rotate(90)" font-size="3.0" font-weight="bold" fill="#999" stroke="#999" stroke-width="0.4" textLength="1.60" lengthAdjust="spacingAndGlyphs">p5</text>
<text transform="translate(497.40 253.20) rotate(90)" font-size="3.0" font-weight="bold" fill="#8a8a8a" stroke="#8a8a8a" stroke-width="0.4" textLength="4.00" lengthAdjust="spacingAndGlyphs">6CTL5</text>
<text transform="translate(499.40 253.20) rotate(90)" font-size="3.0" font-weight="bold" fill="#999" stroke="#999" stroke-width="0.4" textLength="1.60" lengthAdjust="spacingAndGlyphs">GA</text>
<text transform="translate(505.39 253.20) rotate(90)" font-size="3.0" font-weight="bold" fill="#999" stroke="#999" stroke-width="0.4" textLength="1.20" lengthAdjust="spacingAndGlyphs">s2</text>
<text transform="translate(507.38 253.20) rotate(90)" font-size="3.0" font-weight="bold" fill="#999" stroke="#999" stroke-width="0.4" textLength="3.40" lengthAdjust="spacingAndGlyphs">Meis</text>
<text transform="translate(509.38 253.20) rotate(90)" font-size="3.0" font-weight="bold" fill="#999" stroke="#999" stroke-width="0.4" textLength="1.20" lengthAdjust="spacingAndGlyphs">3I</text>
<text transform="translate(511.38 253.20) rotate(90)" font-size="3.0" font-weight="bold" fill="#999" stroke="#999" stroke-width="0.4" textLength="2.40" lengthAdjust="spacingAndGlyphs">ETL</text>
<text transform="translate(513.37 253.20) rotate(90)" font-size="3.0" font-weight="bold" fill="#999" stroke="#999" stroke-width="0.4" textLength="2.00" lengthAdjust="spacingAndGlyphs">ut</text>
<text transform="translate(515.37 253.20) rotate(90)" font-size="3.0" font-weight="bold" fill="#999" stroke="#999" stroke-width="0.4" textLength="2.80" lengthAdjust="spacingAndGlyphs">PCP</text>
<text transform="translate(517.37 253.20) rotate(90)" font-size="3.0" font-weight="bold" fill="#999" stroke="#999" stroke-width="0.4" textLength="3.40" lengthAdjust="spacingAndGlyphs">valb</text>
<text transform="translate(523.36 253.20) rotate(90)" font-size="3.0" font-weight="bold" fill="#999" stroke="#999" stroke-width="0.4" textLength="2.40" lengthAdjust="spacingAndGlyphs">Car</text>
<text transform="translate(525.35 253.20) rotate(90)" font-size="3.0" font-weight="bold" fill="#999" stroke="#999" stroke-width="0.4" textLength="2.00" lengthAdjust="spacingAndGlyphs">23</text>
<text transform="translate(527.35 253.20) rotate(90)" font-size="3.0" font-weight="bold" fill="#999" stroke="#999" stroke-width="0.4" textLength="1.60" lengthAdjust="spacingAndGlyphs">AG</text>
<text transform="translate(531.34 253.20) rotate(90)" font-size="3.0" font-weight="bold" fill="#999" stroke="#999" stroke-width="0.4" textLength="1.20" lengthAdjust="spacingAndGlyphs">2C</text>
<text transform="translate(533.34 253.20) rotate(90)" font-size="3.0" font-weight="bold" fill="#999" stroke="#999" stroke-width="0.4" textLength="1.20" lengthAdjust="spacingAndGlyphs">tV</text>
<text transform="translate(543.32 253.20) rotate(90)" font-size="3.0" font-weight="bold" fill="#999" stroke="#999" stroke-width="0.4" textLength="2.80" lengthAdjust="spacingAndGlyphs">TCT</text>
</svg>
</body></html>
